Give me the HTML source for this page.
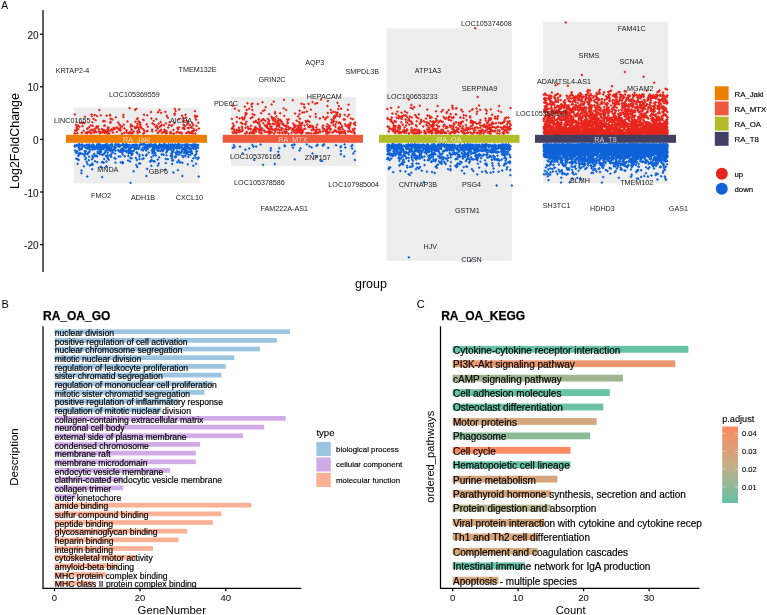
<!DOCTYPE html><html><head><meta charset="utf-8"><style>html,body{margin:0;padding:0;background:#fff;width:767px;height:615px;overflow:hidden}svg{display:block;filter:blur(0.4px)}text{font-family:"Liberation Sans",sans-serif}</style></head><body><svg width="767" height="615" viewBox="0 0 767 615" font-family="Liberation Sans, sans-serif"><text x="1.3" y="8.8" font-size="10.3" fill="#000">A</text><line x1="43" y1="10" x2="43" y2="272" stroke="#000" stroke-width="1.25"/><line x1="40" y1="34.20" x2="43" y2="34.20" stroke="#000" stroke-width="1.2"/><text x="38.5" y="38.70" font-size="10" fill="#222" stroke="#222" stroke-width="0.12" text-anchor="end">20</text><line x1="40" y1="86.80" x2="43" y2="86.80" stroke="#000" stroke-width="1.2"/><text x="38.5" y="91.30" font-size="10" fill="#222" stroke="#222" stroke-width="0.12" text-anchor="end">10</text><line x1="40" y1="139.40" x2="43" y2="139.40" stroke="#000" stroke-width="1.2"/><text x="38.5" y="143.90" font-size="10" fill="#222" stroke="#222" stroke-width="0.12" text-anchor="end">0</text><line x1="40" y1="192.00" x2="43" y2="192.00" stroke="#000" stroke-width="1.2"/><text x="38.5" y="196.50" font-size="10" fill="#222" stroke="#222" stroke-width="0.12" text-anchor="end">-10</text><line x1="40" y1="244.60" x2="43" y2="244.60" stroke="#000" stroke-width="1.2"/><text x="38.5" y="249.10" font-size="10" fill="#222" stroke="#222" stroke-width="0.12" text-anchor="end">-20</text><text transform="translate(19.3,141) rotate(-90)" font-size="12.5" fill="#000" text-anchor="middle">Log2FoldChange</text><text x="371" y="287.6" font-size="12.5" fill="#000" text-anchor="middle">group</text><rect x="74" y="107.6" width="125.60" height="75.80" fill="#EDEDED"/><rect x="231" y="97" width="125.00" height="69.20" fill="#EDEDED"/><rect x="386.4" y="28.3" width="125.40" height="232.40" fill="#EDEDED"/><rect x="543.2" y="21.7" width="125.00" height="161.70" fill="#EDEDED"/><path d="M93.2 129.6l.1 .1M83.5 122.6l.1 .1M120.0 125.6l.1 .1M137.6 133.1l.1 .1M128.4 133.3l.1 .1M85.7 132.9l.1 .1M177.4 127.9l.1 .1M102.2 132.3l.1 .1M192.4 123.3l.1 .1M123.8 124.6l.1 .1M181.3 133.2l.1 .1M92.4 130.1l.1 .1M112.9 132.4l.1 .1M97.0 115.9l.1 .1M154.0 124.5l.1 .1M142.6 128.8l.1 .1M81.9 133.0l.1 .1M159.2 131.3l.1 .1M113.6 127.8l.1 .1M130.9 124.4l.1 .1M173.4 129.9l.1 .1M104.8 121.1l.1 .1M139.8 124.7l.1 .1M165.3 111.8l.1 .1M196.5 130.1l.1 .1M126.5 132.4l.1 .1M93.4 118.8l.1 .1M79.3 126.6l.1 .1M169.6 122.1l.1 .1M183.4 124.7l.1 .1M161.0 129.7l.1 .1M146.6 124.2l.1 .1M179.0 127.3l.1 .1M157.1 126.9l.1 .1M161.8 133.0l.1 .1M198.1 122.7l.1 .1M109.9 115.5l.1 .1M157.7 128.6l.1 .1M131.9 133.4l.1 .1M89.0 131.8l.1 .1M170.1 133.1l.1 .1M105.3 132.2l.1 .1M182.9 128.5l.1 .1M130.4 132.8l.1 .1M184.4 125.3l.1 .1M182.0 115.7l.1 .1M126.2 130.3l.1 .1M184.5 129.0l.1 .1M96.4 132.0l.1 .1M103.5 130.9l.1 .1M147.8 126.7l.1 .1M75.0 130.5l.1 .1M120.4 128.0l.1 .1M193.1 124.9l.1 .1M138.6 121.4l.1 .1M158.6 123.6l.1 .1M186.4 133.1l.1 .1M183.3 117.8l.1 .1M123.3 116.9l.1 .1M87.3 128.3l.1 .1M82.2 123.1l.1 .1M100.4 133.0l.1 .1M116.8 131.8l.1 .1M74.5 133.1l.1 .1M87.1 132.0l.1 .1M77.6 128.9l.1 .1M150.9 111.9l.1 .1M105.9 132.0l.1 .1M119.8 129.2l.1 .1M180.1 132.3l.1 .1M134.7 127.1l.1 .1M87.2 132.7l.1 .1M107.4 129.3l.1 .1M94.5 115.1l.1 .1M192.8 133.4l.1 .1M92.7 125.8l.1 .1M77.8 125.4l.1 .1M196.3 125.8l.1 .1M161.1 112.8l.1 .1M120.1 130.5l.1 .1M170.6 131.8l.1 .1M171.4 125.7l.1 .1M102.2 129.5l.1 .1M197.1 116.1l.1 .1M174.8 113.5l.1 .1M166.6 115.7l.1 .1M138.9 131.0l.1 .1M78.1 129.1l.1 .1M109.2 133.4l.1 .1M160.7 130.5l.1 .1M191.1 127.5l.1 .1M101.9 128.9l.1 .1M98.9 131.0l.1 .1M152.1 131.3l.1 .1M179.1 109.4l.1 .1M155.7 126.8l.1 .1M85.0 116.8l.1 .1M187.7 122.3l.1 .1M167.8 117.7l.1 .1M96.7 126.9l.1 .1M115.8 117.3l.1 .1M195.4 116.7l.1 .1M124.4 128.4l.1 .1M95.6 120.1l.1 .1M93.3 132.3l.1 .1M174.9 108.9l.1 .1M177.4 132.0l.1 .1M118.1 122.4l.1 .1M90.8 125.3l.1 .1M195.3 133.5l.1 .1M140.0 122.7l.1 .1M183.0 127.7l.1 .1M100.7 115.3l.1 .1M110.9 130.6l.1 .1M147.5 130.8l.1 .1M126.6 130.5l.1 .1M187.7 132.2l.1 .1M131.5 129.1l.1 .1M187.0 124.5l.1 .1M188.7 127.9l.1 .1M140.7 126.4l.1 .1M76.8 125.9l.1 .1M97.2 127.6l.1 .1M173.9 133.6l.1 .1M133.4 131.7l.1 .1M143.7 120.1l.1 .1M139.0 129.5l.1 .1M172.1 125.2l.1 .1M144.2 132.5l.1 .1M108.9 130.7l.1 .1M137.7 118.1l.1 .1M169.1 125.0l.1 .1M129.6 108.1l.1 .1M137.4 123.7l.1 .1M160.7 126.1l.1 .1M140.8 127.4l.1 .1M191.7 126.9l.1 .1M183.6 121.1l.1 .1M144.1 130.5l.1 .1M91.5 114.4l.1 .1M129.5 132.3l.1 .1M104.4 132.9l.1 .1M157.8 132.9l.1 .1M186.1 117.6l.1 .1M163.6 131.9l.1 .1M92.3 122.3l.1 .1M194.9 111.1l.1 .1M193.0 131.1l.1 .1M135.1 128.3l.1 .1M94.6 114.9l.1 .1M138.6 127.7l.1 .1M98.8 129.3l.1 .1M164.4 129.7l.1 .1M143.4 133.5l.1 .1M76.7 127.6l.1 .1M152.1 129.5l.1 .1M82.5 126.1l.1 .1M195.4 117.4l.1 .1M107.5 132.5l.1 .1M171.4 133.3l.1 .1M90.6 130.4l.1 .1M187.9 127.9l.1 .1M106.6 115.7l.1 .1M188.9 132.0l.1 .1M161.7 124.8l.1 .1M81.6 132.7l.1 .1M127.4 121.4l.1 .1M191.3 132.9l.1 .1M174.3 123.1l.1 .1M181.1 132.8l.1 .1M181.9 133.0l.1 .1M116.7 127.3l.1 .1M189.8 125.2l.1 .1M90.5 130.4l.1 .1M104.1 125.8l.1 .1M94.6 132.5l.1 .1M99.6 133.1l.1 .1M112.4 129.8l.1 .1M110.6 118.7l.1 .1M96.6 126.4l.1 .1M76.7 129.2l.1 .1M76.4 130.7l.1 .1M143.1 119.8l.1 .1M133.6 131.5l.1 .1M176.4 132.5l.1 .1M136.1 127.7l.1 .1M123.4 114.8l.1 .1M160.1 126.3l.1 .1M178.1 129.3l.1 .1M153.6 120.8l.1 .1M117.7 128.2l.1 .1M90.6 133.1l.1 .1M166.7 132.9l.1 .1M94.8 130.6l.1 .1M179.2 132.8l.1 .1M157.9 112.2l.1 .1M104.6 130.2l.1 .1M131.7 130.0l.1 .1M130.0 131.9l.1 .1M194.2 130.5l.1 .1M104.9 125.4l.1 .1M118.8 129.8l.1 .1M122.0 133.7l.1 .1M137.0 126.9l.1 .1M137.3 131.3l.1 .1M107.3 133.6l.1 .1M124.2 132.7l.1 .1M77.3 133.2l.1 .1M103.4 129.9l.1 .1M140.3 124.4l.1 .1M156.3 119.1l.1 .1M183.9 120.4l.1 .1M115.1 128.5l.1 .1M164.6 132.0l.1 .1M79.9 122.8l.1 .1M185.5 114.7l.1 .1M165.8 123.3l.1 .1M91.8 116.1l.1 .1M137.2 125.9l.1 .1M174.6 114.7l.1 .1M147.2 115.3l.1 .1M159.5 110.2l.1 .1M103.1 121.3l.1 .1M91.0 133.4l.1 .1M87.5 129.0l.1 .1M144.0 114.7l.1 .1M152.4 123.3l.1 .1M135.4 121.7l.1 .1M173.8 133.7l.1 .1M137.1 119.2l.1 .1M156.5 125.6l.1 .1M166.2 133.0l.1 .1M83.7 130.6l.1 .1M165.3 130.4l.1 .1M166.6 131.3l.1 .1M122.1 126.5l.1 .1M159.6 126.8l.1 .1M151.3 118.4l.1 .1M84.1 122.9l.1 .1M106.1 132.0l.1 .1M112.3 119.4l.1 .1M76.0 124.9l.1 .1M107.9 133.0l.1 .1M160.6 122.0l.1 .1M110.7 121.8l.1 .1M132.3 126.0l.1 .1M89.2 127.1l.1 .1M99.3 110.1l.1 .1M131.6 133.5l.1 .1M195.0 115.7l.1 .1M107.9 127.4l.1 .1M192.2 131.2l.1 .1M146.8 131.2l.1 .1M139.7 132.1l.1 .1M176.6 132.2l.1 .1M184.9 126.2l.1 .1M103.3 120.9l.1 .1M135.0 109.7l.1 .1M74.9 133.4l.1 .1M130.6 126.6l.1 .1M92.0 129.9l.1 .1M113.8 129.3l.1 .1M74.7 114.4l.1 .1M178.9 119.1l.1 .1M189.8 132.3l.1 .1M186.7 120.6l.1 .1M120.8 130.1l.1 .1M198.8 128.4l.1 .1M119.4 124.3l.1 .1M108.7 127.8l.1 .1M87.1 133.2l.1 .1M110.0 114.8l.1 .1M107.5 130.7l.1 .1M98.1 126.2l.1 .1M193.5 128.8l.1 .1M175.5 111.0l.1 .1M188.2 123.2l.1 .1M164.0 125.3l.1 .1M165.6 133.2l.1 .1M168.2 127.4l.1 .1M110.1 122.8l.1 .1M189.8 133.2l.1 .1M133.2 132.3l.1 .1M111.5 129.3l.1 .1M196.0 119.6l.1 .1M156.1 130.5l.1 .1M143.8 129.9l.1 .1M95.3 128.4l.1 .1M100.3 131.8l.1 .1M136.3 108.8l.1 .1M327.8 100.9l.1 .1M261.3 128.9l.1 .1M285.5 129.0l.1 .1M344.6 114.8l.1 .1M336.6 114.2l.1 .1M295.6 133.1l.1 .1M262.4 102.2l.1 .1M309.9 127.3l.1 .1M297.3 128.4l.1 .1M285.1 132.9l.1 .1M234.0 125.6l.1 .1M351.7 132.0l.1 .1M347.6 116.3l.1 .1M331.8 122.1l.1 .1M341.1 108.7l.1 .1M311.0 133.3l.1 .1M315.6 130.1l.1 .1M298.7 130.0l.1 .1M308.5 103.8l.1 .1M296.0 130.4l.1 .1M349.4 127.1l.1 .1M269.3 129.8l.1 .1M246.4 121.6l.1 .1M350.0 123.3l.1 .1M264.7 125.3l.1 .1M297.6 126.4l.1 .1M246.8 131.8l.1 .1M267.9 132.1l.1 .1M267.2 127.7l.1 .1M242.3 130.5l.1 .1M335.6 124.5l.1 .1M302.2 122.8l.1 .1M256.4 121.5l.1 .1M288.6 119.4l.1 .1M307.4 124.5l.1 .1M270.0 126.4l.1 .1M258.9 130.5l.1 .1M279.0 125.4l.1 .1M232.9 123.5l.1 .1M338.3 128.7l.1 .1M300.5 130.5l.1 .1M266.8 125.9l.1 .1M327.2 129.6l.1 .1M239.7 131.7l.1 .1M286.0 110.0l.1 .1M279.5 132.9l.1 .1M322.6 127.0l.1 .1M259.4 132.4l.1 .1M250.6 118.2l.1 .1M275.2 128.9l.1 .1M307.9 120.7l.1 .1M333.3 111.7l.1 .1M323.1 125.3l.1 .1M325.7 118.0l.1 .1M328.8 126.2l.1 .1M344.9 119.4l.1 .1M339.4 132.1l.1 .1M326.4 133.6l.1 .1M293.2 123.5l.1 .1M283.3 123.9l.1 .1M339.7 116.0l.1 .1M278.5 122.9l.1 .1M288.2 126.7l.1 .1M267.8 118.8l.1 .1M300.3 128.0l.1 .1M271.4 128.1l.1 .1M336.8 115.8l.1 .1M286.5 125.7l.1 .1M269.2 131.3l.1 .1M302.8 131.9l.1 .1M242.4 123.6l.1 .1M271.6 104.4l.1 .1M335.4 112.2l.1 .1M284.3 131.0l.1 .1M232.8 105.8l.1 .1M301.5 133.1l.1 .1M345.6 125.7l.1 .1M298.2 116.5l.1 .1M295.6 125.3l.1 .1M279.8 120.3l.1 .1M305.2 128.6l.1 .1M349.0 128.7l.1 .1M296.6 120.6l.1 .1M277.9 132.5l.1 .1M301.1 127.8l.1 .1M340.5 123.8l.1 .1M286.0 126.0l.1 .1M355.0 122.4l.1 .1M297.2 128.8l.1 .1M252.6 114.1l.1 .1M352.8 129.3l.1 .1M295.0 113.5l.1 .1M342.4 132.3l.1 .1M333.2 120.1l.1 .1M283.6 108.3l.1 .1M267.4 131.7l.1 .1M294.1 125.4l.1 .1M254.1 131.3l.1 .1M306.2 122.2l.1 .1M354.7 128.6l.1 .1M236.7 122.0l.1 .1M329.1 127.6l.1 .1M317.1 129.5l.1 .1M269.2 133.6l.1 .1M304.1 112.3l.1 .1M255.8 120.9l.1 .1M300.1 125.7l.1 .1M311.7 130.1l.1 .1M355.1 124.9l.1 .1M282.4 123.8l.1 .1M250.9 132.2l.1 .1M244.7 117.2l.1 .1M252.6 132.5l.1 .1M333.5 125.1l.1 .1M331.5 122.7l.1 .1M233.0 132.9l.1 .1M271.5 116.7l.1 .1M275.3 119.1l.1 .1M264.5 131.5l.1 .1M343.5 132.5l.1 .1M274.7 123.6l.1 .1M279.3 126.8l.1 .1M341.9 133.0l.1 .1M350.4 123.6l.1 .1M308.4 127.0l.1 .1M236.9 130.4l.1 .1M337.4 102.8l.1 .1M342.9 129.3l.1 .1M269.1 114.1l.1 .1M350.5 123.0l.1 .1M349.2 125.8l.1 .1M279.8 130.5l.1 .1M258.9 119.0l.1 .1M340.0 129.4l.1 .1M329.8 126.0l.1 .1M253.0 130.5l.1 .1M254.6 128.6l.1 .1M301.1 129.7l.1 .1M297.6 132.3l.1 .1M281.4 128.1l.1 .1M246.7 132.9l.1 .1M275.0 113.5l.1 .1M255.2 130.4l.1 .1M260.9 129.8l.1 .1M313.8 133.3l.1 .1M250.8 128.9l.1 .1M242.9 119.5l.1 .1M335.0 130.1l.1 .1M286.4 132.1l.1 .1M331.3 112.7l.1 .1M275.2 131.7l.1 .1M278.2 118.9l.1 .1M349.4 131.0l.1 .1M259.6 125.6l.1 .1M247.7 126.7l.1 .1M263.8 119.5l.1 .1M304.3 107.1l.1 .1M262.0 128.4l.1 .1M257.8 122.8l.1 .1M246.7 109.9l.1 .1M298.7 125.4l.1 .1M327.1 130.0l.1 .1M313.0 128.1l.1 .1M270.0 124.0l.1 .1M242.1 128.0l.1 .1M337.0 131.4l.1 .1M313.6 129.2l.1 .1M301.1 132.4l.1 .1M293.5 128.5l.1 .1M239.6 129.6l.1 .1M259.5 129.4l.1 .1M320.3 132.1l.1 .1M281.5 129.9l.1 .1M327.5 106.0l.1 .1M338.2 108.9l.1 .1M265.7 132.0l.1 .1M315.7 133.3l.1 .1M275.0 121.1l.1 .1M313.2 127.5l.1 .1M262.3 119.8l.1 .1M275.1 112.0l.1 .1M254.0 122.2l.1 .1M344.6 132.3l.1 .1M319.8 118.4l.1 .1M236.4 133.2l.1 .1M256.0 131.6l.1 .1M278.7 129.5l.1 .1M270.0 133.2l.1 .1M253.7 121.9l.1 .1M302.2 112.5l.1 .1M263.0 119.1l.1 .1M316.3 127.1l.1 .1M231.6 128.7l.1 .1M327.7 112.9l.1 .1M236.8 129.8l.1 .1M306.8 111.4l.1 .1M261.8 133.1l.1 .1M329.6 132.3l.1 .1M344.8 131.0l.1 .1M242.1 117.7l.1 .1M280.3 120.0l.1 .1M334.2 117.8l.1 .1M242.6 129.9l.1 .1M284.0 99.8l.1 .1M317.2 102.9l.1 .1M334.4 118.2l.1 .1M287.6 122.2l.1 .1M318.0 133.0l.1 .1M294.9 127.2l.1 .1M247.3 103.2l.1 .1M236.9 117.1l.1 .1M331.4 119.7l.1 .1M299.2 130.2l.1 .1M298.9 121.9l.1 .1M238.8 130.4l.1 .1M282.5 128.6l.1 .1M270.0 131.1l.1 .1M319.1 132.0l.1 .1M260.9 120.8l.1 .1M295.4 130.5l.1 .1M347.5 126.9l.1 .1M268.6 128.7l.1 .1M249.0 108.7l.1 .1M272.8 124.1l.1 .1M299.4 114.1l.1 .1M252.4 117.2l.1 .1M305.7 121.0l.1 .1M326.5 126.5l.1 .1M245.6 113.1l.1 .1M276.1 129.7l.1 .1M238.9 131.0l.1 .1M255.9 129.9l.1 .1M287.0 119.7l.1 .1M271.7 132.3l.1 .1M276.5 126.4l.1 .1M240.4 131.6l.1 .1M354.5 133.6l.1 .1M241.9 117.6l.1 .1M353.0 119.1l.1 .1M244.9 124.1l.1 .1M285.3 125.9l.1 .1M298.8 131.3l.1 .1M345.5 133.6l.1 .1M309.3 121.7l.1 .1M312.4 102.0l.1 .1M262.0 130.3l.1 .1M234.9 132.0l.1 .1M335.6 116.5l.1 .1M254.5 129.6l.1 .1M336.3 121.9l.1 .1M252.3 103.4l.1 .1M334.4 115.9l.1 .1M272.0 118.0l.1 .1M333.8 131.3l.1 .1M277.1 129.2l.1 .1M277.2 124.4l.1 .1M261.1 113.1l.1 .1M301.7 133.2l.1 .1M333.1 122.2l.1 .1M343.7 119.5l.1 .1M292.8 100.1l.1 .1M251.0 125.7l.1 .1M303.5 129.6l.1 .1M316.8 132.7l.1 .1M286.4 131.6l.1 .1M236.4 132.6l.1 .1M255.1 127.0l.1 .1M231.8 118.8l.1 .1M337.5 112.4l.1 .1M284.2 115.8l.1 .1M313.5 129.8l.1 .1M283.7 125.3l.1 .1M285.8 128.9l.1 .1M333.9 121.0l.1 .1M251.8 106.6l.1 .1M286.4 129.6l.1 .1M274.6 124.1l.1 .1M242.0 131.2l.1 .1M288.5 129.2l.1 .1M338.8 106.0l.1 .1M332.0 122.5l.1 .1M315.3 133.0l.1 .1M268.3 122.8l.1 .1M349.6 123.9l.1 .1M311.7 126.1l.1 .1M274.0 129.6l.1 .1M234.9 108.7l.1 .1M315.6 131.3l.1 .1M242.0 126.8l.1 .1M277.6 121.2l.1 .1M283.1 123.6l.1 .1M301.5 125.0l.1 .1M245.6 127.8l.1 .1M341.8 131.4l.1 .1M245.4 124.5l.1 .1M262.9 110.8l.1 .1M297.3 132.5l.1 .1M292.1 130.3l.1 .1M259.5 124.3l.1 .1M245.5 123.9l.1 .1M304.4 125.4l.1 .1M282.0 132.7l.1 .1M286.0 132.8l.1 .1M299.7 110.6l.1 .1M325.3 119.2l.1 .1M354.3 132.3l.1 .1M244.1 118.9l.1 .1M280.1 113.2l.1 .1M350.5 131.5l.1 .1M327.5 124.1l.1 .1M327.7 132.0l.1 .1M260.8 133.0l.1 .1M233.3 128.3l.1 .1M257.9 123.3l.1 .1M319.2 129.6l.1 .1M341.6 127.3l.1 .1M339.6 122.5l.1 .1M345.2 124.1l.1 .1M252.3 110.0l.1 .1M273.8 117.9l.1 .1M315.8 117.0l.1 .1M246.7 113.5l.1 .1M322.9 128.3l.1 .1M321.0 99.5l.1 .1M306.3 133.2l.1 .1M299.5 132.5l.1 .1M245.5 114.9l.1 .1M315.2 103.7l.1 .1M255.4 130.3l.1 .1M335.4 126.8l.1 .1M245.5 123.6l.1 .1M245.1 133.4l.1 .1M254.4 115.0l.1 .1M267.4 124.3l.1 .1M278.7 120.2l.1 .1M340.0 131.9l.1 .1M317.0 124.7l.1 .1M349.1 114.6l.1 .1M273.9 133.5l.1 .1M293.7 131.8l.1 .1M330.7 109.8l.1 .1M254.1 133.3l.1 .1M315.7 114.0l.1 .1M290.4 127.9l.1 .1M336.2 131.7l.1 .1M339.7 127.9l.1 .1M240.9 122.8l.1 .1M258.3 129.1l.1 .1M304.5 107.7l.1 .1M252.5 133.2l.1 .1M289.5 128.5l.1 .1M279.5 123.7l.1 .1M232.2 128.6l.1 .1M272.8 123.7l.1 .1M288.4 133.5l.1 .1M249.5 133.2l.1 .1M265.3 120.8l.1 .1M293.5 130.0l.1 .1M302.0 130.2l.1 .1M350.1 125.0l.1 .1M301.0 133.3l.1 .1M339.6 116.6l.1 .1M310.0 116.5l.1 .1M276.5 122.0l.1 .1M330.1 129.9l.1 .1M347.8 109.8l.1 .1M269.1 120.5l.1 .1M323.2 117.0l.1 .1M310.2 125.5l.1 .1M299.7 128.7l.1 .1M238.9 127.7l.1 .1M271.5 128.9l.1 .1M277.0 126.1l.1 .1M260.6 130.5l.1 .1M248.3 128.7l.1 .1M339.5 133.6l.1 .1M286.7 126.7l.1 .1M268.9 124.0l.1 .1M239.7 131.5l.1 .1M269.7 129.5l.1 .1M299.8 118.7l.1 .1M273.7 101.6l.1 .1M303.8 104.3l.1 .1M253.6 132.7l.1 .1M353.9 123.6l.1 .1M327.5 128.6l.1 .1M339.1 127.2l.1 .1M291.5 132.9l.1 .1M265.7 107.1l.1 .1M234.3 130.2l.1 .1M264.7 131.6l.1 .1M258.5 119.6l.1 .1M256.3 127.8l.1 .1M338.6 123.0l.1 .1M255.8 121.6l.1 .1M350.9 118.4l.1 .1M241.3 123.1l.1 .1M340.0 114.5l.1 .1M248.4 128.9l.1 .1M298.0 131.3l.1 .1M310.8 109.6l.1 .1M257.8 104.0l.1 .1M324.4 129.1l.1 .1M281.7 121.6l.1 .1M273.3 120.5l.1 .1M282.8 133.0l.1 .1M309.1 133.2l.1 .1M292.8 129.0l.1 .1M263.3 123.1l.1 .1M233.1 126.5l.1 .1M301.4 103.7l.1 .1M307.6 133.0l.1 .1M272.3 118.8l.1 .1M250.8 132.6l.1 .1M326.6 131.9l.1 .1M332.4 132.6l.1 .1M298.2 127.3l.1 .1M300.3 123.4l.1 .1M306.0 121.3l.1 .1M323.3 129.0l.1 .1M319.7 130.2l.1 .1M327.7 117.0l.1 .1M327.3 129.4l.1 .1M266.0 126.7l.1 .1M348.1 125.1l.1 .1M232.6 132.1l.1 .1M312.7 126.2l.1 .1M276.4 116.5l.1 .1M325.3 130.7l.1 .1M234.9 132.6l.1 .1M238.9 132.0l.1 .1M300.3 125.6l.1 .1M348.0 131.4l.1 .1M250.0 128.4l.1 .1M322.9 131.4l.1 .1M251.5 104.2l.1 .1M327.9 133.3l.1 .1M353.3 130.5l.1 .1M310.3 125.7l.1 .1M330.7 128.8l.1 .1M271.6 126.6l.1 .1M244.8 106.6l.1 .1M239.6 118.4l.1 .1M281.3 121.7l.1 .1M238.9 110.6l.1 .1M282.3 124.1l.1 .1M348.6 104.6l.1 .1M259.2 122.3l.1 .1M264.0 130.3l.1 .1M260.1 127.1l.1 .1M325.6 131.1l.1 .1M268.5 121.8l.1 .1M302.1 130.9l.1 .1M338.5 131.7l.1 .1M264.6 110.1l.1 .1M333.5 117.6l.1 .1M272.6 129.8l.1 .1M341.9 126.0l.1 .1M316.1 131.7l.1 .1M287.6 123.2l.1 .1M435.7 121.2l.1 .1M462.9 126.2l.1 .1M426.9 122.4l.1 .1M454.3 123.8l.1 .1M462.9 131.2l.1 .1M499.6 130.6l.1 .1M476.4 127.3l.1 .1M446.1 126.3l.1 .1M404.6 131.2l.1 .1M452.5 107.5l.1 .1M452.4 126.3l.1 .1M416.5 116.9l.1 .1M488.9 131.8l.1 .1M466.4 127.5l.1 .1M497.8 116.1l.1 .1M392.3 113.5l.1 .1M490.1 128.9l.1 .1M402.2 116.7l.1 .1M418.1 132.0l.1 .1M431.2 132.6l.1 .1M451.6 117.4l.1 .1M397.9 127.7l.1 .1M510.6 128.7l.1 .1M442.7 121.8l.1 .1M485.9 127.2l.1 .1M405.5 119.5l.1 .1M432.4 122.3l.1 .1M416.4 126.3l.1 .1M429.1 129.1l.1 .1M389.2 128.9l.1 .1M457.7 131.4l.1 .1M409.1 133.1l.1 .1M421.0 121.0l.1 .1M416.9 129.8l.1 .1M398.3 115.7l.1 .1M493.5 123.6l.1 .1M439.4 131.4l.1 .1M463.6 118.0l.1 .1M392.4 129.0l.1 .1M432.5 127.9l.1 .1M423.6 121.2l.1 .1M467.3 128.5l.1 .1M430.6 117.0l.1 .1M458.7 128.8l.1 .1M410.7 107.8l.1 .1M433.1 121.3l.1 .1M427.8 122.7l.1 .1M480.7 133.0l.1 .1M452.2 128.9l.1 .1M498.7 126.8l.1 .1M390.1 119.6l.1 .1M444.3 124.7l.1 .1M491.1 127.5l.1 .1M445.7 128.3l.1 .1M441.5 111.6l.1 .1M450.4 126.9l.1 .1M470.1 116.3l.1 .1M436.8 120.2l.1 .1M471.3 133.3l.1 .1M482.3 125.6l.1 .1M401.6 119.0l.1 .1M396.5 131.2l.1 .1M399.6 116.7l.1 .1M480.4 132.8l.1 .1M393.8 125.4l.1 .1M475.1 122.3l.1 .1M393.7 127.1l.1 .1M438.8 122.0l.1 .1M510.7 124.9l.1 .1M495.1 116.7l.1 .1M428.4 132.1l.1 .1M387.7 126.4l.1 .1M419.5 130.5l.1 .1M418.6 129.9l.1 .1M455.9 114.1l.1 .1M439.1 126.5l.1 .1M424.7 133.2l.1 .1M486.4 113.5l.1 .1M418.8 114.3l.1 .1M393.4 131.4l.1 .1M433.3 126.0l.1 .1M447.6 127.5l.1 .1M432.3 124.9l.1 .1M411.8 117.5l.1 .1M455.9 108.5l.1 .1M425.9 133.2l.1 .1M437.7 126.1l.1 .1M427.1 125.4l.1 .1M485.7 130.5l.1 .1M475.1 130.2l.1 .1M460.4 117.5l.1 .1M502.9 127.6l.1 .1M495.8 127.8l.1 .1M440.7 133.1l.1 .1M393.0 123.5l.1 .1M395.9 113.9l.1 .1M409.3 124.6l.1 .1M456.5 108.1l.1 .1M448.7 117.6l.1 .1M470.6 122.5l.1 .1M413.1 130.2l.1 .1M405.0 115.5l.1 .1M412.6 108.7l.1 .1M398.8 132.6l.1 .1M504.9 118.4l.1 .1M468.7 128.3l.1 .1M499.3 130.7l.1 .1M406.1 122.1l.1 .1M473.2 133.1l.1 .1M490.6 133.3l.1 .1M415.8 130.2l.1 .1M426.5 125.0l.1 .1M406.0 125.5l.1 .1M427.2 109.4l.1 .1M405.8 115.3l.1 .1M508.5 117.6l.1 .1M391.0 128.7l.1 .1M466.4 128.9l.1 .1M454.6 131.2l.1 .1M444.5 132.7l.1 .1M440.3 120.7l.1 .1M401.1 122.3l.1 .1M402.1 116.1l.1 .1M510.5 108.0l.1 .1M452.2 105.7l.1 .1M430.1 130.3l.1 .1M448.5 119.8l.1 .1M398.5 107.1l.1 .1M494.1 127.1l.1 .1M454.0 124.6l.1 .1M404.3 132.8l.1 .1M497.7 130.5l.1 .1M415.1 115.0l.1 .1M391.0 107.9l.1 .1M506.9 124.6l.1 .1M504.1 129.5l.1 .1M393.2 123.0l.1 .1M442.7 129.6l.1 .1M479.0 130.8l.1 .1M484.6 131.7l.1 .1M395.6 130.2l.1 .1M398.8 125.5l.1 .1M484.7 125.7l.1 .1M444.2 124.6l.1 .1M450.6 133.3l.1 .1M467.2 132.7l.1 .1M458.6 132.3l.1 .1M433.4 129.3l.1 .1M407.3 122.8l.1 .1M503.7 131.8l.1 .1M491.4 129.7l.1 .1M446.5 113.0l.1 .1M398.6 132.1l.1 .1M401.5 112.6l.1 .1M453.4 126.8l.1 .1M445.0 132.4l.1 .1M453.3 131.9l.1 .1M432.4 126.6l.1 .1M437.0 131.5l.1 .1M402.7 131.4l.1 .1M495.0 130.9l.1 .1M497.4 126.7l.1 .1M503.9 133.5l.1 .1M485.0 127.0l.1 .1M472.4 125.2l.1 .1M480.0 131.1l.1 .1M419.7 132.0l.1 .1M435.7 133.4l.1 .1M423.2 126.4l.1 .1M397.4 111.6l.1 .1M416.0 125.1l.1 .1M484.2 124.6l.1 .1M394.7 121.3l.1 .1M461.2 130.9l.1 .1M463.6 133.3l.1 .1M488.0 121.9l.1 .1M487.5 129.5l.1 .1M501.1 127.5l.1 .1M503.5 133.6l.1 .1M437.4 128.4l.1 .1M417.3 132.8l.1 .1M471.1 120.5l.1 .1M429.6 132.1l.1 .1M411.5 132.2l.1 .1M428.0 131.2l.1 .1M446.4 118.0l.1 .1M483.6 126.8l.1 .1M480.1 109.8l.1 .1M411.6 123.6l.1 .1M491.8 123.9l.1 .1M398.4 118.3l.1 .1M430.3 121.1l.1 .1M506.7 131.9l.1 .1M479.4 122.5l.1 .1M489.7 132.2l.1 .1M499.1 106.0l.1 .1M490.2 120.0l.1 .1M460.2 117.5l.1 .1M489.3 128.0l.1 .1M494.9 118.4l.1 .1M506.1 130.1l.1 .1M504.2 126.1l.1 .1M507.0 132.5l.1 .1M418.2 118.2l.1 .1M415.7 115.5l.1 .1M443.7 131.5l.1 .1M448.0 131.0l.1 .1M471.9 109.8l.1 .1M435.6 121.3l.1 .1M485.4 118.4l.1 .1M503.7 122.2l.1 .1M437.3 116.2l.1 .1M467.9 132.8l.1 .1M429.1 115.6l.1 .1M490.7 124.7l.1 .1M387.5 118.0l.1 .1M389.0 127.0l.1 .1M487.7 132.5l.1 .1M461.9 128.3l.1 .1M428.5 127.6l.1 .1M430.8 131.3l.1 .1M463.7 115.1l.1 .1M397.9 130.2l.1 .1M473.9 130.5l.1 .1M468.9 127.9l.1 .1M401.9 117.2l.1 .1M392.1 122.2l.1 .1M409.8 116.4l.1 .1M505.7 130.5l.1 .1M414.8 129.2l.1 .1M462.6 111.6l.1 .1M435.9 111.3l.1 .1M505.5 126.8l.1 .1M509.5 126.6l.1 .1M489.9 131.6l.1 .1M452.3 131.9l.1 .1M408.7 133.7l.1 .1M487.3 127.6l.1 .1M430.6 130.8l.1 .1M455.5 132.6l.1 .1M450.7 113.9l.1 .1M502.1 129.0l.1 .1M469.6 111.3l.1 .1M464.3 132.9l.1 .1M505.7 127.8l.1 .1M468.9 129.2l.1 .1M433.6 123.7l.1 .1M470.8 126.3l.1 .1M448.7 109.9l.1 .1M508.0 129.2l.1 .1M490.5 133.1l.1 .1M456.1 122.2l.1 .1M480.1 127.8l.1 .1M477.3 111.5l.1 .1M391.3 119.8l.1 .1M403.9 129.8l.1 .1M404.9 111.5l.1 .1M458.5 124.8l.1 .1M435.6 133.2l.1 .1M466.5 119.9l.1 .1M481.5 130.4l.1 .1M454.4 130.3l.1 .1M508.2 128.2l.1 .1M486.8 123.2l.1 .1M434.1 122.4l.1 .1M472.6 121.3l.1 .1M407.0 130.4l.1 .1M489.4 125.1l.1 .1M430.0 117.9l.1 .1M450.9 132.2l.1 .1M407.1 112.7l.1 .1M408.1 120.3l.1 .1M393.6 130.0l.1 .1M434.4 130.2l.1 .1M425.3 131.6l.1 .1M411.4 104.9l.1 .1M441.3 129.8l.1 .1M419.2 132.5l.1 .1M434.8 128.7l.1 .1M412.2 130.6l.1 .1M442.8 109.8l.1 .1M466.0 115.6l.1 .1M426.0 118.6l.1 .1M480.8 132.0l.1 .1M456.2 127.3l.1 .1M480.3 122.6l.1 .1M431.9 130.5l.1 .1M452.6 108.8l.1 .1M465.1 130.3l.1 .1M482.6 130.7l.1 .1M489.5 133.3l.1 .1M430.8 125.3l.1 .1M419.9 105.6l.1 .1M395.6 130.9l.1 .1M480.4 125.7l.1 .1M438.1 122.4l.1 .1M400.7 117.2l.1 .1M466.9 130.0l.1 .1M472.8 123.6l.1 .1M435.9 118.8l.1 .1M479.0 105.5l.1 .1M435.6 129.5l.1 .1M430.3 117.3l.1 .1M495.0 131.6l.1 .1M451.6 126.1l.1 .1M498.7 122.6l.1 .1M429.0 132.3l.1 .1M438.2 133.0l.1 .1M492.6 126.7l.1 .1M458.6 122.7l.1 .1M458.1 128.5l.1 .1M491.7 130.5l.1 .1M490.9 118.2l.1 .1M470.2 132.1l.1 .1M449.0 119.7l.1 .1M498.4 110.8l.1 .1M488.8 120.1l.1 .1M495.9 123.2l.1 .1M474.3 132.3l.1 .1M462.9 121.5l.1 .1M395.3 130.5l.1 .1M489.2 124.4l.1 .1M413.4 130.5l.1 .1M398.6 131.2l.1 .1M507.8 122.4l.1 .1M431.6 117.5l.1 .1M395.9 121.7l.1 .1M427.3 115.5l.1 .1M465.0 133.7l.1 .1M421.1 132.2l.1 .1M442.2 133.1l.1 .1M487.1 125.6l.1 .1M489.5 133.3l.1 .1M414.8 132.5l.1 .1M429.1 123.8l.1 .1M457.4 129.7l.1 .1M485.3 131.2l.1 .1M491.0 131.3l.1 .1M453.5 117.2l.1 .1M483.4 133.4l.1 .1M449.5 133.4l.1 .1M394.8 128.2l.1 .1M476.8 123.8l.1 .1M436.6 124.9l.1 .1M460.0 126.5l.1 .1M494.5 131.1l.1 .1M506.2 117.4l.1 .1M509.2 129.7l.1 .1M446.2 132.9l.1 .1M443.2 132.3l.1 .1M474.8 122.2l.1 .1M429.3 127.6l.1 .1M436.9 131.6l.1 .1M411.0 130.4l.1 .1M451.0 120.4l.1 .1M411.5 127.9l.1 .1M411.3 121.5l.1 .1M456.4 130.6l.1 .1M507.6 121.6l.1 .1M504.5 119.9l.1 .1M476.5 108.5l.1 .1M394.7 121.0l.1 .1M388.6 131.4l.1 .1M476.5 113.8l.1 .1M419.7 123.7l.1 .1M407.2 129.3l.1 .1M509.9 123.7l.1 .1M392.4 130.0l.1 .1M431.0 131.8l.1 .1M486.7 110.8l.1 .1M399.6 127.6l.1 .1M406.0 132.6l.1 .1M445.4 118.7l.1 .1M485.5 109.4l.1 .1M488.9 127.2l.1 .1M400.4 132.3l.1 .1M449.9 125.4l.1 .1M418.2 131.3l.1 .1M499.6 133.5l.1 .1M504.2 121.3l.1 .1M477.8 128.0l.1 .1M487.6 128.8l.1 .1M403.5 115.3l.1 .1M413.5 133.6l.1 .1M433.9 124.9l.1 .1M489.9 133.6l.1 .1M444.5 118.3l.1 .1M497.2 133.2l.1 .1M395.8 126.1l.1 .1M464.4 129.8l.1 .1M447.0 112.0l.1 .1M412.5 123.5l.1 .1M499.3 130.9l.1 .1M399.8 128.9l.1 .1M402.6 124.7l.1 .1M443.5 131.5l.1 .1M465.9 124.9l.1 .1M441.5 121.4l.1 .1M476.8 133.0l.1 .1M445.3 133.1l.1 .1M470.4 128.6l.1 .1M416.7 121.2l.1 .1M472.8 123.2l.1 .1M404.5 127.3l.1 .1M461.2 109.7l.1 .1M416.5 133.0l.1 .1M435.6 131.1l.1 .1M489.1 118.2l.1 .1M478.9 123.6l.1 .1M398.6 133.3l.1 .1M391.7 117.5l.1 .1M416.8 133.2l.1 .1M414.2 107.0l.1 .1M502.3 122.6l.1 .1M500.9 123.5l.1 .1M406.0 130.6l.1 .1M480.8 133.5l.1 .1M507.6 132.6l.1 .1M410.1 121.3l.1 .1M407.1 117.2l.1 .1M400.1 126.5l.1 .1M497.3 118.2l.1 .1M387.2 108.9l.1 .1M455.9 114.6l.1 .1M449.3 116.5l.1 .1M460.7 124.0l.1 .1M396.6 117.6l.1 .1M454.6 133.1l.1 .1M436.2 130.3l.1 .1M479.3 133.6l.1 .1M489.8 133.4l.1 .1M443.7 117.0l.1 .1M467.6 132.4l.1 .1M440.2 131.4l.1 .1M508.0 132.5l.1 .1M430.7 125.8l.1 .1M477.5 132.7l.1 .1M492.1 114.7l.1 .1M432.5 132.6l.1 .1M481.5 130.1l.1 .1M462.1 132.1l.1 .1M387.8 119.1l.1 .1M401.0 132.9l.1 .1M461.2 121.9l.1 .1M443.4 126.4l.1 .1M462.7 128.5l.1 .1M500.6 123.2l.1 .1M485.7 120.5l.1 .1M490.8 109.3l.1 .1M390.7 121.1l.1 .1M492.3 122.3l.1 .1M495.8 128.1l.1 .1M503.9 131.7l.1 .1M474.6 127.9l.1 .1M424.2 130.8l.1 .1M427.2 129.4l.1 .1M441.9 132.7l.1 .1M502.5 123.1l.1 .1M490.7 119.3l.1 .1M421.0 119.7l.1 .1M438.1 130.8l.1 .1M415.6 133.5l.1 .1M501.1 112.0l.1 .1M482.5 129.7l.1 .1M497.3 118.8l.1 .1M452.9 117.9l.1 .1M489.3 132.6l.1 .1M464.7 129.9l.1 .1M453.6 129.1l.1 .1M452.8 131.9l.1 .1M453.7 123.2l.1 .1M437.5 105.9l.1 .1M472.5 109.2l.1 .1M413.3 132.8l.1 .1M499.4 130.3l.1 .1M419.2 133.6l.1 .1M509.7 121.1l.1 .1M441.3 131.8l.1 .1M472.6 122.1l.1 .1M480.3 120.0l.1 .1M418.8 130.8l.1 .1M472.7 133.4l.1 .1M419.1 131.3l.1 .1M460.3 123.4l.1 .1M461.1 123.0l.1 .1M424.6 121.8l.1 .1M395.2 133.0l.1 .1M431.8 133.5l.1 .1M400.9 132.2l.1 .1M507.2 126.9l.1 .1M420.9 122.1l.1 .1M409.0 119.0l.1 .1M424.5 132.6l.1 .1M472.5 128.4l.1 .1M477.3 127.8l.1 .1M502.6 132.7l.1 .1M490.2 129.5l.1 .1M489.7 133.4l.1 .1M493.0 131.1l.1 .1M470.1 117.5l.1 .1M558.8 123.0l.1 .1M606.6 110.5l.1 .1M645.4 133.3l.1 .1M570.5 109.1l.1 .1M644.1 99.7l.1 .1M543.8 132.5l.1 .1M646.1 105.7l.1 .1M638.7 133.5l.1 .1M622.2 112.4l.1 .1M665.8 108.3l.1 .1M647.1 131.0l.1 .1M582.5 101.3l.1 .1M628.5 117.9l.1 .1M613.9 107.1l.1 .1M574.9 131.9l.1 .1M560.4 124.6l.1 .1M653.9 106.3l.1 .1M630.1 132.4l.1 .1M558.8 118.4l.1 .1M638.7 112.1l.1 .1M555.8 131.4l.1 .1M639.3 131.8l.1 .1M644.8 127.4l.1 .1M556.9 133.2l.1 .1M652.8 130.5l.1 .1M552.8 133.2l.1 .1M555.0 113.7l.1 .1M554.0 118.7l.1 .1M625.9 132.3l.1 .1M594.4 105.2l.1 .1M547.5 127.9l.1 .1M573.7 130.7l.1 .1M632.2 111.4l.1 .1M609.6 111.7l.1 .1M559.4 117.0l.1 .1M580.0 129.7l.1 .1M635.3 131.8l.1 .1M584.0 132.7l.1 .1M650.8 131.8l.1 .1M603.2 120.2l.1 .1M657.9 129.8l.1 .1M599.4 99.7l.1 .1M650.6 123.6l.1 .1M575.7 132.2l.1 .1M605.9 133.5l.1 .1M563.1 112.7l.1 .1M666.5 128.4l.1 .1M591.1 126.9l.1 .1M654.3 107.8l.1 .1M559.0 129.9l.1 .1M635.5 120.3l.1 .1M625.5 101.1l.1 .1M607.5 131.4l.1 .1M599.0 131.7l.1 .1M656.8 127.3l.1 .1M658.5 102.6l.1 .1M663.2 127.0l.1 .1M657.9 133.3l.1 .1M651.8 120.2l.1 .1M666.5 129.0l.1 .1M648.8 133.7l.1 .1M590.1 109.2l.1 .1M570.1 108.6l.1 .1M601.7 113.8l.1 .1M568.0 129.0l.1 .1M634.3 110.6l.1 .1M664.9 133.6l.1 .1M590.2 132.6l.1 .1M615.1 128.9l.1 .1M660.8 103.8l.1 .1M589.0 120.5l.1 .1M552.2 133.5l.1 .1M616.0 125.5l.1 .1M665.5 128.0l.1 .1M587.2 128.9l.1 .1M564.9 128.8l.1 .1M616.9 99.8l.1 .1M596.5 124.6l.1 .1M582.8 132.3l.1 .1M599.0 126.4l.1 .1M613.5 96.2l.1 .1M550.3 132.8l.1 .1M586.5 133.2l.1 .1M653.9 111.8l.1 .1M640.4 132.5l.1 .1M610.3 128.1l.1 .1M548.9 125.0l.1 .1M626.4 133.6l.1 .1M590.8 117.5l.1 .1M645.3 101.5l.1 .1M551.9 131.5l.1 .1M624.8 124.2l.1 .1M549.1 132.6l.1 .1M547.9 126.7l.1 .1M621.2 114.7l.1 .1M598.9 131.8l.1 .1M566.7 132.5l.1 .1M644.8 133.0l.1 .1M632.4 127.8l.1 .1M643.7 130.6l.1 .1M624.8 122.3l.1 .1M613.3 129.5l.1 .1M664.4 133.0l.1 .1M609.7 118.5l.1 .1M556.1 120.2l.1 .1M572.3 130.8l.1 .1M545.2 107.5l.1 .1M651.4 128.1l.1 .1M632.8 111.8l.1 .1M572.5 131.5l.1 .1M580.7 116.7l.1 .1M587.0 115.6l.1 .1M614.7 113.2l.1 .1M665.9 109.5l.1 .1M666.0 129.9l.1 .1M652.4 133.7l.1 .1M611.3 133.7l.1 .1M639.1 129.6l.1 .1M569.5 131.2l.1 .1M611.9 111.7l.1 .1M604.3 113.6l.1 .1M639.3 133.7l.1 .1M602.2 132.7l.1 .1M575.8 133.7l.1 .1M638.4 118.8l.1 .1M598.6 120.4l.1 .1M626.6 115.0l.1 .1M610.0 132.8l.1 .1M634.0 122.2l.1 .1M582.2 132.9l.1 .1M555.5 130.7l.1 .1M634.1 130.5l.1 .1M565.1 123.1l.1 .1M558.1 115.1l.1 .1M562.0 113.8l.1 .1M574.9 133.5l.1 .1M577.1 125.7l.1 .1M660.0 104.3l.1 .1M636.6 131.8l.1 .1M613.2 117.2l.1 .1M661.4 132.2l.1 .1M545.3 98.2l.1 .1M583.5 130.9l.1 .1M597.0 132.9l.1 .1M546.6 103.2l.1 .1M582.0 108.0l.1 .1M655.2 133.7l.1 .1M570.0 132.0l.1 .1M589.2 133.5l.1 .1M565.9 133.4l.1 .1M615.4 132.3l.1 .1M581.5 128.0l.1 .1M639.6 125.3l.1 .1M586.2 115.5l.1 .1M641.8 101.6l.1 .1M602.6 123.8l.1 .1M560.3 130.9l.1 .1M619.1 104.2l.1 .1M658.4 133.5l.1 .1M547.8 104.1l.1 .1M573.2 116.9l.1 .1M647.1 124.9l.1 .1M605.4 130.5l.1 .1M567.5 118.9l.1 .1M596.4 120.8l.1 .1M566.9 95.9l.1 .1M548.8 116.3l.1 .1M558.2 131.9l.1 .1M609.2 133.3l.1 .1M642.2 133.1l.1 .1M620.9 133.5l.1 .1M559.3 106.1l.1 .1M638.5 132.7l.1 .1M659.2 127.2l.1 .1M593.0 130.8l.1 .1M586.3 98.1l.1 .1M654.1 97.4l.1 .1M611.3 132.9l.1 .1M558.2 99.6l.1 .1M639.7 107.1l.1 .1M618.1 114.0l.1 .1M662.5 133.5l.1 .1M640.8 133.5l.1 .1M583.0 115.6l.1 .1M594.6 117.8l.1 .1M549.0 113.9l.1 .1M591.3 100.3l.1 .1M602.1 110.4l.1 .1M581.0 109.7l.1 .1M546.8 124.5l.1 .1M553.5 126.6l.1 .1M627.6 106.3l.1 .1M664.5 128.6l.1 .1M662.3 99.1l.1 .1M631.0 133.6l.1 .1M618.8 115.3l.1 .1M658.2 133.7l.1 .1M617.4 128.2l.1 .1M577.8 109.6l.1 .1M658.1 133.7l.1 .1M548.7 132.0l.1 .1M667.0 133.4l.1 .1M569.7 114.6l.1 .1M655.0 133.3l.1 .1M615.9 118.9l.1 .1M594.9 133.4l.1 .1M544.1 99.1l.1 .1M550.7 128.8l.1 .1M556.6 94.5l.1 .1M648.0 98.5l.1 .1M548.9 115.0l.1 .1M604.8 117.2l.1 .1M561.7 126.5l.1 .1M643.1 125.8l.1 .1M652.3 133.4l.1 .1M576.7 128.8l.1 .1M600.7 132.4l.1 .1M614.3 119.8l.1 .1M607.1 103.9l.1 .1M666.3 125.8l.1 .1M545.7 132.7l.1 .1M582.5 131.0l.1 .1M595.5 133.4l.1 .1M657.8 133.7l.1 .1M652.6 126.8l.1 .1M634.2 117.1l.1 .1M581.1 113.4l.1 .1M569.2 115.2l.1 .1M617.5 124.1l.1 .1M564.5 112.3l.1 .1M645.9 130.6l.1 .1M664.9 110.3l.1 .1M569.7 133.5l.1 .1M633.4 133.5l.1 .1M624.0 114.2l.1 .1M607.6 112.0l.1 .1M657.9 123.8l.1 .1M625.0 119.7l.1 .1M604.9 122.6l.1 .1M614.7 113.5l.1 .1M596.5 133.4l.1 .1M597.3 128.7l.1 .1M588.5 123.8l.1 .1M596.6 129.5l.1 .1M664.2 130.0l.1 .1M545.7 133.6l.1 .1M592.7 115.7l.1 .1M617.0 127.9l.1 .1M573.3 130.1l.1 .1M652.0 133.7l.1 .1M579.1 99.8l.1 .1M583.8 127.4l.1 .1M654.3 133.6l.1 .1M573.5 108.0l.1 .1M630.2 132.2l.1 .1M601.9 110.8l.1 .1M572.6 129.6l.1 .1M650.7 110.7l.1 .1M557.8 106.4l.1 .1M665.8 122.4l.1 .1M600.6 116.0l.1 .1M551.2 133.3l.1 .1M552.2 115.0l.1 .1M626.2 110.0l.1 .1M654.2 127.1l.1 .1M620.1 100.3l.1 .1M616.6 133.5l.1 .1M574.6 128.7l.1 .1M634.2 100.7l.1 .1M572.0 133.4l.1 .1M614.7 130.7l.1 .1M598.2 131.0l.1 .1M566.2 109.7l.1 .1M584.6 115.8l.1 .1M661.7 99.3l.1 .1M618.8 131.0l.1 .1M594.5 133.5l.1 .1M622.8 121.0l.1 .1M547.9 130.7l.1 .1M613.1 133.4l.1 .1M581.6 133.1l.1 .1M655.3 121.2l.1 .1M575.2 125.7l.1 .1M577.8 122.8l.1 .1M563.0 111.8l.1 .1M598.0 132.1l.1 .1M564.2 102.4l.1 .1M560.0 132.9l.1 .1M584.8 132.7l.1 .1M637.8 129.4l.1 .1M602.6 129.2l.1 .1M639.7 129.4l.1 .1M596.4 102.8l.1 .1M574.7 101.3l.1 .1M608.8 96.3l.1 .1M590.9 117.9l.1 .1M560.4 132.0l.1 .1M588.2 104.2l.1 .1M600.8 117.0l.1 .1M569.3 125.2l.1 .1M585.3 133.1l.1 .1M611.0 118.0l.1 .1M631.8 133.7l.1 .1M552.2 128.4l.1 .1M569.9 132.1l.1 .1M611.9 109.0l.1 .1M574.5 131.0l.1 .1M578.4 131.6l.1 .1M641.7 130.6l.1 .1M630.2 111.4l.1 .1M624.7 104.3l.1 .1M549.2 133.5l.1 .1M575.7 133.2l.1 .1M645.6 125.2l.1 .1M596.9 122.8l.1 .1M665.4 132.4l.1 .1M586.0 113.7l.1 .1M665.4 133.7l.1 .1M648.8 132.2l.1 .1M624.6 133.5l.1 .1M653.9 130.4l.1 .1M556.1 131.5l.1 .1M643.6 132.9l.1 .1M623.4 96.2l.1 .1M578.6 118.0l.1 .1M554.4 131.9l.1 .1M549.0 95.7l.1 .1M587.0 121.5l.1 .1M597.7 133.0l.1 .1M574.4 100.5l.1 .1M621.7 133.2l.1 .1M607.0 119.3l.1 .1M652.0 133.0l.1 .1M565.2 133.5l.1 .1M607.4 132.4l.1 .1M612.3 127.0l.1 .1M654.5 115.3l.1 .1M548.9 127.3l.1 .1M545.9 108.4l.1 .1M561.4 131.2l.1 .1M640.6 122.0l.1 .1M580.1 133.4l.1 .1M629.1 106.9l.1 .1M628.8 133.5l.1 .1M594.3 111.0l.1 .1M625.4 133.2l.1 .1M560.2 131.1l.1 .1M593.6 133.2l.1 .1M591.4 133.4l.1 .1M612.1 124.2l.1 .1M642.9 129.2l.1 .1M584.5 133.6l.1 .1M650.8 100.3l.1 .1M638.5 101.3l.1 .1M641.3 124.9l.1 .1M558.2 123.3l.1 .1M555.7 132.2l.1 .1M583.6 105.0l.1 .1M610.4 129.1l.1 .1M631.2 133.5l.1 .1M642.4 110.9l.1 .1M583.0 104.6l.1 .1M638.1 133.3l.1 .1M589.7 117.3l.1 .1M562.7 130.7l.1 .1M600.8 108.3l.1 .1M585.8 109.8l.1 .1M607.3 131.1l.1 .1M653.1 114.2l.1 .1M629.6 130.4l.1 .1M650.5 129.2l.1 .1M612.5 113.3l.1 .1M577.6 130.2l.1 .1M643.0 104.3l.1 .1M554.2 131.4l.1 .1M663.2 132.9l.1 .1M644.1 133.7l.1 .1M612.3 125.1l.1 .1M594.5 124.7l.1 .1M554.8 124.0l.1 .1M556.4 101.4l.1 .1M627.0 133.3l.1 .1M643.7 120.1l.1 .1M659.1 117.4l.1 .1M545.0 133.7l.1 .1M640.2 132.4l.1 .1M609.5 133.3l.1 .1M563.0 112.6l.1 .1M655.3 125.2l.1 .1M593.0 114.1l.1 .1M578.1 126.9l.1 .1M640.7 97.9l.1 .1M581.4 118.0l.1 .1M604.0 115.0l.1 .1M588.8 110.7l.1 .1M628.5 104.5l.1 .1M613.4 127.9l.1 .1M609.3 110.3l.1 .1M544.5 97.9l.1 .1M632.2 103.3l.1 .1M649.0 126.6l.1 .1M585.5 133.3l.1 .1M645.7 116.1l.1 .1M666.9 130.0l.1 .1M549.3 119.7l.1 .1M553.1 133.4l.1 .1M583.6 123.5l.1 .1M599.2 132.1l.1 .1M656.4 133.6l.1 .1M612.9 107.9l.1 .1M581.9 128.1l.1 .1M586.7 122.0l.1 .1M662.2 96.5l.1 .1M646.1 115.4l.1 .1M559.0 133.6l.1 .1M559.3 130.6l.1 .1M665.9 128.7l.1 .1M662.5 108.1l.1 .1M571.2 132.6l.1 .1M577.6 133.7l.1 .1M609.1 133.7l.1 .1M627.2 131.5l.1 .1M617.7 123.8l.1 .1M634.8 131.5l.1 .1M632.2 117.5l.1 .1M601.2 127.2l.1 .1M548.6 131.7l.1 .1M620.1 127.4l.1 .1M650.3 133.0l.1 .1M649.5 104.7l.1 .1M604.2 109.5l.1 .1M577.3 133.1l.1 .1M665.7 114.7l.1 .1M544.4 133.5l.1 .1M587.0 130.4l.1 .1M557.6 122.2l.1 .1M585.6 107.4l.1 .1M584.5 102.3l.1 .1M565.5 131.4l.1 .1M616.7 97.4l.1 .1M551.5 108.8l.1 .1M634.5 124.6l.1 .1M659.8 95.8l.1 .1M589.9 133.5l.1 .1M610.0 94.4l.1 .1M575.1 98.2l.1 .1M661.0 133.7l.1 .1M613.2 132.1l.1 .1M615.3 130.3l.1 .1M661.1 100.2l.1 .1M575.5 104.9l.1 .1M545.9 109.1l.1 .1M660.7 128.9l.1 .1M589.2 132.2l.1 .1M573.0 122.9l.1 .1M624.6 116.4l.1 .1M657.7 133.6l.1 .1M630.0 133.6l.1 .1M561.5 130.5l.1 .1M667.4 133.6l.1 .1M600.5 110.6l.1 .1M663.9 111.0l.1 .1M609.7 100.9l.1 .1M607.9 131.9l.1 .1M634.2 96.0l.1 .1M648.2 118.6l.1 .1M613.0 129.1l.1 .1M568.3 107.1l.1 .1M546.7 106.3l.1 .1M614.9 124.8l.1 .1M658.0 133.3l.1 .1M566.6 128.2l.1 .1M617.0 129.0l.1 .1M544.0 128.5l.1 .1M632.1 133.6l.1 .1M575.3 133.4l.1 .1M650.5 110.1l.1 .1M565.3 104.5l.1 .1M637.2 133.7l.1 .1M588.8 122.2l.1 .1M597.2 133.7l.1 .1M616.6 132.4l.1 .1M569.6 96.0l.1 .1M629.8 133.6l.1 .1M571.3 133.5l.1 .1M665.9 128.2l.1 .1M582.8 131.0l.1 .1M563.8 127.1l.1 .1M630.5 129.3l.1 .1M642.4 131.1l.1 .1M556.2 133.0l.1 .1M599.8 120.8l.1 .1M556.7 101.6l.1 .1M626.7 114.1l.1 .1M559.6 130.1l.1 .1M637.7 121.6l.1 .1M602.2 127.2l.1 .1M619.2 117.7l.1 .1M566.7 128.7l.1 .1M611.8 127.5l.1 .1M667.0 103.3l.1 .1M584.4 124.0l.1 .1M621.8 132.6l.1 .1M574.4 114.6l.1 .1M667.6 117.5l.1 .1M660.1 129.5l.1 .1M624.5 128.3l.1 .1M568.9 105.7l.1 .1M665.7 130.6l.1 .1M581.6 133.6l.1 .1M636.0 127.0l.1 .1M658.9 120.6l.1 .1M543.8 118.6l.1 .1M548.2 133.6l.1 .1M547.0 128.4l.1 .1M622.1 125.2l.1 .1M649.8 132.8l.1 .1M662.7 128.9l.1 .1M620.5 130.3l.1 .1M576.3 124.6l.1 .1M544.1 112.0l.1 .1M583.4 132.3l.1 .1M605.7 104.5l.1 .1M580.7 133.7l.1 .1M643.9 121.7l.1 .1M640.3 133.5l.1 .1M608.6 129.6l.1 .1M598.0 128.7l.1 .1M657.6 95.1l.1 .1M634.9 101.6l.1 .1M561.2 116.9l.1 .1M646.7 133.7l.1 .1M621.9 118.4l.1 .1M576.8 131.3l.1 .1M609.6 101.3l.1 .1M585.9 133.7l.1 .1M552.0 130.5l.1 .1M655.6 96.3l.1 .1M544.2 109.6l.1 .1M557.5 128.8l.1 .1M644.0 115.4l.1 .1M641.8 111.3l.1 .1M545.3 133.4l.1 .1M648.1 133.6l.1 .1M607.7 108.5l.1 .1M649.9 132.5l.1 .1M583.9 133.4l.1 .1M665.5 133.7l.1 .1M639.3 128.9l.1 .1M615.7 110.5l.1 .1M639.7 95.5l.1 .1M663.1 100.8l.1 .1M636.7 133.6l.1 .1M583.9 132.6l.1 .1M666.2 130.7l.1 .1M597.6 133.6l.1 .1M667.3 133.4l.1 .1M630.7 126.4l.1 .1M638.8 125.5l.1 .1M594.9 130.8l.1 .1M630.8 114.3l.1 .1M582.0 104.0l.1 .1M635.1 107.1l.1 .1M594.3 123.3l.1 .1M553.2 123.6l.1 .1M582.3 133.5l.1 .1M549.7 133.4l.1 .1M634.3 115.9l.1 .1M569.2 121.4l.1 .1M646.1 115.6l.1 .1M571.9 121.2l.1 .1M592.6 123.7l.1 .1M562.1 132.0l.1 .1M622.1 105.8l.1 .1M565.0 100.3l.1 .1M606.8 132.1l.1 .1M581.1 133.6l.1 .1M603.4 124.7l.1 .1M615.2 102.3l.1 .1M616.2 120.3l.1 .1M589.1 111.6l.1 .1M665.2 133.7l.1 .1M559.4 111.1l.1 .1M571.2 133.5l.1 .1M559.9 119.2l.1 .1M604.9 133.7l.1 .1M575.8 133.7l.1 .1M569.1 129.8l.1 .1M575.9 133.7l.1 .1M583.9 132.4l.1 .1M588.3 128.9l.1 .1M546.0 131.1l.1 .1M635.2 107.9l.1 .1M544.0 126.5l.1 .1M655.3 132.5l.1 .1M569.1 127.7l.1 .1M654.2 109.2l.1 .1M605.8 133.4l.1 .1M558.2 123.8l.1 .1M620.3 131.1l.1 .1M621.6 118.4l.1 .1M590.5 121.2l.1 .1M545.7 133.6l.1 .1M650.9 107.9l.1 .1M553.1 102.6l.1 .1M565.0 112.7l.1 .1M568.5 130.6l.1 .1M645.2 106.2l.1 .1M591.0 108.3l.1 .1M575.9 100.0l.1 .1M627.1 123.3l.1 .1M591.0 132.5l.1 .1M642.4 133.5l.1 .1M560.5 133.0l.1 .1M623.0 131.9l.1 .1M608.7 120.3l.1 .1M637.0 106.7l.1 .1M610.0 132.8l.1 .1M573.6 133.1l.1 .1M553.2 133.3l.1 .1M653.6 130.5l.1 .1M554.5 119.3l.1 .1M617.0 132.7l.1 .1M547.0 125.1l.1 .1M613.8 133.6l.1 .1M553.6 122.1l.1 .1M573.5 112.4l.1 .1M609.3 122.6l.1 .1M661.0 130.7l.1 .1M596.1 129.4l.1 .1M647.8 124.7l.1 .1M639.1 95.4l.1 .1M632.5 124.8l.1 .1M662.6 120.3l.1 .1M637.9 97.0l.1 .1M614.1 132.7l.1 .1M572.3 128.2l.1 .1M571.1 111.9l.1 .1M604.3 116.4l.1 .1M631.3 128.6l.1 .1M666.4 115.5l.1 .1M642.8 94.3l.1 .1M626.6 132.1l.1 .1M660.3 126.4l.1 .1M588.0 128.0l.1 .1M601.9 133.7l.1 .1M581.9 125.0l.1 .1M603.7 133.5l.1 .1M564.9 133.6l.1 .1M586.8 128.1l.1 .1M609.4 126.2l.1 .1M560.2 129.6l.1 .1M613.0 133.7l.1 .1M578.5 97.0l.1 .1M583.3 130.5l.1 .1M604.8 114.4l.1 .1M544.3 110.9l.1 .1M569.2 133.4l.1 .1M593.2 130.1l.1 .1M663.4 129.7l.1 .1M615.0 128.2l.1 .1M623.2 97.6l.1 .1M646.4 122.4l.1 .1M548.1 130.8l.1 .1M609.9 98.1l.1 .1M551.9 122.9l.1 .1M590.0 114.2l.1 .1M578.8 120.0l.1 .1M589.4 101.5l.1 .1M654.5 131.9l.1 .1M577.2 132.6l.1 .1M665.3 126.7l.1 .1M569.7 133.5l.1 .1M553.0 110.9l.1 .1M640.7 128.9l.1 .1M642.0 116.2l.1 .1M654.0 133.5l.1 .1M644.6 130.4l.1 .1M654.2 127.2l.1 .1M575.6 127.0l.1 .1M605.2 133.3l.1 .1M564.0 133.7l.1 .1M614.8 105.1l.1 .1M562.4 106.0l.1 .1M601.8 126.9l.1 .1M576.3 133.5l.1 .1M633.4 101.2l.1 .1M619.2 125.9l.1 .1M661.9 106.2l.1 .1M549.9 122.4l.1 .1M564.1 105.3l.1 .1M560.6 132.4l.1 .1M615.9 125.8l.1 .1M601.9 127.6l.1 .1M632.7 133.3l.1 .1M582.0 124.8l.1 .1M660.1 108.2l.1 .1M665.8 101.2l.1 .1M591.8 133.6l.1 .1M575.5 127.9l.1 .1M655.9 114.3l.1 .1M606.4 133.3l.1 .1M653.9 97.2l.1 .1M556.6 127.9l.1 .1M607.8 127.7l.1 .1M566.7 111.6l.1 .1M665.8 131.8l.1 .1M619.4 133.7l.1 .1M636.7 133.6l.1 .1M658.4 128.7l.1 .1M652.5 132.6l.1 .1M549.6 132.6l.1 .1M553.1 133.6l.1 .1M664.2 129.6l.1 .1M632.5 130.4l.1 .1M607.6 133.7l.1 .1M555.8 124.7l.1 .1M599.0 123.0l.1 .1M646.6 131.0l.1 .1M558.6 117.4l.1 .1M550.1 133.5l.1 .1M622.6 132.1l.1 .1M663.8 97.2l.1 .1M559.1 105.9l.1 .1M638.2 111.2l.1 .1M667.1 127.2l.1 .1M558.3 122.2l.1 .1M559.7 132.7l.1 .1M621.0 121.6l.1 .1M544.9 106.4l.1 .1M664.3 133.7l.1 .1M576.4 132.1l.1 .1M557.5 105.7l.1 .1M654.8 111.1l.1 .1M619.1 123.8l.1 .1M618.9 133.7l.1 .1M639.3 121.5l.1 .1M557.8 125.6l.1 .1M624.6 132.6l.1 .1M556.9 133.6l.1 .1M642.4 132.3l.1 .1M587.9 124.4l.1 .1M615.7 97.6l.1 .1M613.8 132.4l.1 .1M589.3 106.6l.1 .1M615.2 128.4l.1 .1M622.8 95.4l.1 .1M615.8 133.0l.1 .1M602.3 131.1l.1 .1M546.2 116.2l.1 .1M582.6 125.9l.1 .1M645.4 122.2l.1 .1M621.7 127.3l.1 .1M575.4 131.7l.1 .1M609.7 125.8l.1 .1M638.5 132.6l.1 .1M587.7 126.2l.1 .1M647.4 132.2l.1 .1M660.0 102.9l.1 .1M552.5 132.3l.1 .1M546.7 120.6l.1 .1M627.9 106.5l.1 .1M598.4 130.8l.1 .1M563.5 117.9l.1 .1M641.2 130.2l.1 .1M616.2 118.0l.1 .1M570.6 133.5l.1 .1M547.6 132.2l.1 .1M614.7 120.2l.1 .1M612.4 101.0l.1 .1M601.8 101.5l.1 .1M578.5 125.6l.1 .1M659.8 127.4l.1 .1M543.9 126.6l.1 .1M568.2 130.4l.1 .1M606.8 121.0l.1 .1M658.6 127.1l.1 .1M554.5 113.1l.1 .1M630.5 133.7l.1 .1M624.6 122.3l.1 .1M548.1 126.2l.1 .1M647.2 127.8l.1 .1M549.1 122.0l.1 .1M655.8 133.4l.1 .1M564.1 124.5l.1 .1M658.3 116.5l.1 .1M623.7 105.8l.1 .1M554.5 110.1l.1 .1M644.1 127.5l.1 .1M561.5 130.7l.1 .1M631.0 105.8l.1 .1M551.5 133.7l.1 .1M661.9 124.0l.1 .1M652.3 121.3l.1 .1M615.1 133.5l.1 .1M584.8 133.0l.1 .1M601.2 133.3l.1 .1M625.1 133.7l.1 .1M655.8 119.8l.1 .1M553.0 112.7l.1 .1M611.0 105.5l.1 .1M604.7 100.0l.1 .1M631.0 133.6l.1 .1M665.7 133.1l.1 .1M655.5 124.7l.1 .1M584.1 126.5l.1 .1M631.7 119.0l.1 .1M577.8 127.6l.1 .1M632.3 128.8l.1 .1M563.2 132.5l.1 .1M625.2 126.8l.1 .1M577.3 133.6l.1 .1M576.8 96.9l.1 .1M581.6 112.5l.1 .1M603.9 133.6l.1 .1M640.0 105.5l.1 .1M630.9 133.7l.1 .1M603.5 121.1l.1 .1M608.4 118.9l.1 .1M629.9 133.0l.1 .1M582.1 133.4l.1 .1M614.1 106.9l.1 .1M631.7 125.8l.1 .1M591.3 126.5l.1 .1M546.4 124.2l.1 .1M548.5 130.5l.1 .1M656.2 94.6l.1 .1M563.3 119.5l.1 .1M578.7 106.6l.1 .1M624.4 110.3l.1 .1M635.6 121.9l.1 .1M647.1 132.0l.1 .1M637.5 124.6l.1 .1M575.2 107.7l.1 .1M588.5 129.0l.1 .1M652.2 133.6l.1 .1M604.4 117.7l.1 .1M652.7 124.5l.1 .1M588.0 133.6l.1 .1M609.9 117.7l.1 .1M575.7 126.3l.1 .1M626.8 132.6l.1 .1M659.9 130.7l.1 .1M664.0 102.9l.1 .1M607.4 131.9l.1 .1M588.2 133.5l.1 .1M605.8 133.6l.1 .1M638.2 98.2l.1 .1M577.9 130.2l.1 .1M550.2 100.4l.1 .1M649.8 107.4l.1 .1M661.6 133.6l.1 .1M591.9 119.9l.1 .1M619.1 128.6l.1 .1M651.3 125.2l.1 .1M584.1 103.4l.1 .1M640.2 133.7l.1 .1M624.9 119.8l.1 .1M553.1 133.6l.1 .1M588.8 103.2l.1 .1M664.3 127.2l.1 .1M622.4 132.9l.1 .1M613.2 133.6l.1 .1M563.2 114.6l.1 .1M663.8 113.3l.1 .1M641.7 108.8l.1 .1M632.5 99.0l.1 .1M645.9 124.4l.1 .1M621.7 110.2l.1 .1M565.8 118.7l.1 .1M584.0 130.8l.1 .1M640.6 106.3l.1 .1M666.9 131.7l.1 .1M551.3 133.6l.1 .1M553.2 131.0l.1 .1M588.1 98.8l.1 .1M649.7 129.6l.1 .1M621.8 125.0l.1 .1M600.7 128.2l.1 .1M578.0 98.2l.1 .1M603.0 125.3l.1 .1M561.8 133.3l.1 .1M642.7 126.0l.1 .1M551.0 128.4l.1 .1M560.7 100.1l.1 .1M549.3 104.3l.1 .1M561.8 119.7l.1 .1M595.9 132.1l.1 .1M597.6 113.6l.1 .1M593.5 128.8l.1 .1M578.5 125.4l.1 .1M567.3 98.5l.1 .1M611.7 133.4l.1 .1M633.1 130.5l.1 .1M627.5 133.7l.1 .1M658.6 130.2l.1 .1M597.3 131.5l.1 .1M609.8 131.2l.1 .1M626.7 131.8l.1 .1M631.5 129.0l.1 .1M600.3 131.6l.1 .1M632.7 124.0l.1 .1M596.9 119.5l.1 .1M557.6 133.6l.1 .1M566.4 133.3l.1 .1M625.7 133.0l.1 .1M656.2 130.7l.1 .1M574.1 132.5l.1 .1M561.6 133.0l.1 .1M615.4 117.9l.1 .1M644.1 132.3l.1 .1M596.8 118.3l.1 .1M625.1 121.7l.1 .1M555.0 128.2l.1 .1M661.0 130.2l.1 .1M622.9 130.0l.1 .1M639.6 133.6l.1 .1M589.9 105.9l.1 .1M607.3 130.0l.1 .1M569.7 132.2l.1 .1M628.8 133.4l.1 .1M662.2 125.9l.1 .1M652.1 97.7l.1 .1M647.6 99.3l.1 .1M559.7 133.7l.1 .1M652.0 96.5l.1 .1M620.5 121.4l.1 .1M596.3 128.3l.1 .1M611.6 133.3l.1 .1M558.8 131.9l.1 .1M614.9 105.4l.1 .1M580.1 105.0l.1 .1M578.0 123.2l.1 .1M569.6 108.4l.1 .1M612.5 119.8l.1 .1M553.6 131.0l.1 .1M608.5 126.7l.1 .1M568.8 109.3l.1 .1M581.5 133.0l.1 .1M572.4 110.4l.1 .1M547.6 120.5l.1 .1M631.5 133.6l.1 .1M557.6 126.3l.1 .1M660.3 127.1l.1 .1M612.7 129.5l.1 .1M606.3 128.8l.1 .1M653.1 133.7l.1 .1M586.7 123.0l.1 .1M566.8 131.8l.1 .1M647.9 100.2l.1 .1M618.4 129.9l.1 .1M568.5 124.2l.1 .1M634.8 133.7l.1 .1M613.7 133.2l.1 .1M546.4 133.7l.1 .1M624.7 133.2l.1 .1M666.5 121.5l.1 .1M608.4 119.1l.1 .1M662.4 133.7l.1 .1M650.0 126.6l.1 .1M647.2 133.7l.1 .1M570.5 127.1l.1 .1M553.0 129.2l.1 .1M570.8 123.0l.1 .1M565.2 116.8l.1 .1M620.2 117.5l.1 .1M661.5 116.2l.1 .1M628.3 131.6l.1 .1M654.5 129.4l.1 .1M638.3 108.8l.1 .1M576.1 122.1l.1 .1M663.8 102.4l.1 .1M585.6 98.8l.1 .1M627.8 109.0l.1 .1M643.1 107.7l.1 .1M592.7 127.7l.1 .1M624.8 110.9l.1 .1M652.0 124.7l.1 .1M545.3 133.7l.1 .1M555.7 127.4l.1 .1M554.6 107.6l.1 .1M571.6 104.5l.1 .1M637.1 133.4l.1 .1M594.5 118.2l.1 .1M612.2 122.3l.1 .1M606.6 98.9l.1 .1M600.9 124.7l.1 .1M629.2 129.0l.1 .1M629.5 133.5l.1 .1M638.0 100.7l.1 .1M587.5 124.6l.1 .1M555.1 133.5l.1 .1M652.8 124.7l.1 .1M566.4 105.8l.1 .1M643.7 114.0l.1 .1M650.1 126.9l.1 .1M585.3 133.0l.1 .1M633.8 125.7l.1 .1M581.1 127.9l.1 .1M592.2 105.7l.1 .1M571.4 128.8l.1 .1M631.2 126.8l.1 .1M625.8 130.3l.1 .1M545.1 126.5l.1 .1M579.4 97.7l.1 .1M662.5 124.5l.1 .1M551.6 132.8l.1 .1M562.6 132.8l.1 .1M607.8 106.9l.1 .1M577.3 133.7l.1 .1M565.3 125.8l.1 .1M655.8 131.4l.1 .1M572.6 128.1l.1 .1M557.6 122.2l.1 .1M624.0 125.5l.1 .1M611.7 133.6l.1 .1M636.0 131.3l.1 .1M656.4 121.4l.1 .1M566.3 121.8l.1 .1M630.9 133.0l.1 .1M551.4 109.9l.1 .1M578.7 128.9l.1 .1M651.8 127.3l.1 .1M635.9 123.9l.1 .1M578.1 113.0l.1 .1M590.2 121.2l.1 .1M609.4 127.1l.1 .1M564.5 118.8l.1 .1M563.6 107.9l.1 .1M649.0 131.3l.1 .1M589.1 95.6l.1 .1M548.3 98.6l.1 .1M568.6 98.3l.1 .1M638.1 133.7l.1 .1M636.9 133.2l.1 .1M559.0 133.7l.1 .1M554.1 130.3l.1 .1M586.6 127.2l.1 .1M604.8 114.6l.1 .1M648.2 97.4l.1 .1M657.4 133.1l.1 .1M613.7 103.5l.1 .1M564.7 125.2l.1 .1M570.9 131.1l.1 .1M619.8 132.9l.1 .1M638.8 131.0l.1 .1M646.2 123.3l.1 .1M648.7 133.6l.1 .1M622.0 125.9l.1 .1M630.0 132.4l.1 .1M633.1 129.2l.1 .1M561.0 122.8l.1 .1M636.9 131.5l.1 .1M622.0 133.7l.1 .1M632.3 124.5l.1 .1M602.8 131.0l.1 .1M636.6 127.0l.1 .1M606.9 133.6l.1 .1M616.7 132.1l.1 .1M569.2 132.1l.1 .1M654.6 132.5l.1 .1M652.8 130.2l.1 .1M577.0 114.8l.1 .1M544.7 124.1l.1 .1M621.9 100.3l.1 .1M608.0 133.5l.1 .1M626.8 126.4l.1 .1M656.5 131.7l.1 .1M552.7 121.0l.1 .1M653.3 109.3l.1 .1M631.9 131.4l.1 .1M653.0 106.2l.1 .1M647.4 133.6l.1 .1M643.1 132.3l.1 .1M601.4 117.7l.1 .1M643.3 102.9l.1 .1M662.5 94.8l.1 .1M634.8 123.3l.1 .1M593.3 118.6l.1 .1M606.6 126.3l.1 .1M576.0 132.7l.1 .1M648.6 107.4l.1 .1M629.0 117.1l.1 .1M614.7 125.8l.1 .1M544.6 118.8l.1 .1M663.9 128.1l.1 .1M601.6 132.8l.1 .1M575.3 133.6l.1 .1M547.7 108.9l.1 .1M642.6 110.7l.1 .1M575.5 105.6l.1 .1M589.7 100.4l.1 .1M661.5 127.9l.1 .1M628.1 124.5l.1 .1M544.2 133.5l.1 .1M556.8 132.1l.1 .1M574.6 108.9l.1 .1M627.8 98.1l.1 .1M631.8 132.9l.1 .1M609.0 131.2l.1 .1M646.9 133.6l.1 .1M615.7 111.5l.1 .1M585.8 117.5l.1 .1M584.0 133.4l.1 .1M613.5 114.5l.1 .1M573.5 133.4l.1 .1M545.4 127.1l.1 .1M599.4 133.7l.1 .1M653.9 133.4l.1 .1M636.6 133.4l.1 .1M582.8 111.0l.1 .1M666.7 124.6l.1 .1M591.7 121.3l.1 .1M575.8 96.5l.1 .1M582.1 98.3l.1 .1M582.8 128.7l.1 .1M653.1 119.6l.1 .1M566.2 117.5l.1 .1M633.3 95.2l.1 .1M649.0 126.0l.1 .1M617.8 133.5l.1 .1M639.9 111.6l.1 .1M551.4 118.4l.1 .1M577.0 127.0l.1 .1M592.9 121.7l.1 .1M610.4 127.7l.1 .1M654.1 122.6l.1 .1M577.7 131.8l.1 .1M557.6 133.0l.1 .1M657.7 107.0l.1 .1M588.3 133.4l.1 .1M650.8 102.7l.1 .1M666.7 96.3l.1 .1M551.9 131.4l.1 .1M605.9 132.3l.1 .1M575.1 133.7l.1 .1M628.2 127.2l.1 .1M558.9 133.2l.1 .1M554.9 130.9l.1 .1M556.4 133.4l.1 .1M652.7 110.6l.1 .1M643.4 133.7l.1 .1M624.4 107.5l.1 .1M645.3 131.5l.1 .1M549.4 133.6l.1 .1M571.1 98.4l.1 .1M637.2 101.8l.1 .1M555.4 133.7l.1 .1M561.8 119.9l.1 .1M627.0 118.8l.1 .1M602.7 132.5l.1 .1M651.7 132.7l.1 .1M629.3 120.6l.1 .1M551.2 121.1l.1 .1M640.3 104.2l.1 .1M616.9 125.7l.1 .1M637.3 126.5l.1 .1M578.1 125.0l.1 .1M570.1 125.6l.1 .1M608.2 133.7l.1 .1M632.9 105.4l.1 .1M606.7 132.8l.1 .1M615.5 122.9l.1 .1M606.8 127.6l.1 .1M652.9 117.6l.1 .1M640.9 125.6l.1 .1M558.5 118.1l.1 .1M582.5 132.1l.1 .1M604.6 130.4l.1 .1M667.4 131.6l.1 .1M589.7 114.9l.1 .1M658.3 116.9l.1 .1M621.7 133.2l.1 .1M590.2 98.0l.1 .1M643.3 104.9l.1 .1M561.6 131.1l.1 .1M595.2 110.2l.1 .1M601.2 130.5l.1 .1M654.5 115.3l.1 .1M638.7 101.7l.1 .1M589.4 133.1l.1 .1M568.5 133.7l.1 .1M565.6 130.7l.1 .1M560.0 127.0l.1 .1M594.6 119.5l.1 .1M628.7 132.3l.1 .1M546.6 131.0l.1 .1M637.2 107.9l.1 .1M580.1 104.8l.1 .1M630.0 132.1l.1 .1M663.5 133.3l.1 .1M611.7 119.5l.1 .1M578.8 133.7l.1 .1M665.3 128.7l.1 .1M617.0 133.3l.1 .1M664.1 133.6l.1 .1M644.4 114.1l.1 .1M565.9 114.0l.1 .1M548.5 132.4l.1 .1M553.7 124.2l.1 .1M565.2 133.0l.1 .1M641.6 101.4l.1 .1M664.0 131.7l.1 .1M561.1 133.2l.1 .1M643.5 129.8l.1 .1M641.5 133.5l.1 .1M642.7 124.5l.1 .1M548.9 130.8l.1 .1M633.3 133.5l.1 .1M638.4 126.0l.1 .1M578.3 132.9l.1 .1M649.1 132.7l.1 .1M562.9 116.7l.1 .1M548.5 115.4l.1 .1M575.5 127.4l.1 .1M632.8 113.0l.1 .1M568.1 117.8l.1 .1M623.0 133.7l.1 .1M544.8 117.2l.1 .1M654.9 107.8l.1 .1M608.0 130.3l.1 .1M658.4 119.6l.1 .1M607.6 119.7l.1 .1M604.4 112.7l.1 .1M611.5 133.7l.1 .1M585.2 128.9l.1 .1M571.1 129.5l.1 .1M636.3 131.3l.1 .1M600.2 104.2l.1 .1M559.2 107.3l.1 .1M636.0 125.6l.1 .1M591.7 111.9l.1 .1M662.8 133.1l.1 .1M624.6 121.7l.1 .1M557.7 130.6l.1 .1M593.8 123.4l.1 .1M625.9 103.9l.1 .1M614.3 113.6l.1 .1M560.3 113.7l.1 .1M615.7 94.6l.1 .1M567.2 122.2l.1 .1M631.1 133.6l.1 .1M626.3 115.4l.1 .1M604.0 132.2l.1 .1M623.1 112.7l.1 .1M554.7 102.3l.1 .1M545.3 112.3l.1 .1M609.9 120.9l.1 .1M595.6 133.6l.1 .1M651.2 118.7l.1 .1M606.8 133.6l.1 .1M558.1 110.9l.1 .1M660.1 103.7l.1 .1M569.5 130.7l.1 .1M570.9 133.3l.1 .1M631.3 128.8l.1 .1M612.9 100.0l.1 .1M596.6 98.5l.1 .1M543.7 119.3l.1 .1M546.5 128.8l.1 .1M643.9 133.4l.1 .1M580.8 133.5l.1 .1M608.8 125.2l.1 .1M557.3 133.7l.1 .1M593.8 118.2l.1 .1M603.0 133.6l.1 .1M667.6 130.0l.1 .1M566.0 133.7l.1 .1M612.0 133.6l.1 .1M640.1 97.9l.1 .1M610.6 133.5l.1 .1M664.8 130.3l.1 .1M618.6 116.5l.1 .1M597.8 132.2l.1 .1M590.6 125.2l.1 .1M554.8 123.7l.1 .1M666.0 128.8l.1 .1M606.4 129.3l.1 .1M644.4 113.7l.1 .1M590.9 114.8l.1 .1M568.4 116.2l.1 .1M545.6 121.3l.1 .1M565.4 132.9l.1 .1M635.2 130.5l.1 .1M652.3 133.7l.1 .1M661.5 133.6l.1 .1M619.8 98.9l.1 .1M660.3 107.7l.1 .1M649.8 128.0l.1 .1M640.5 133.7l.1 .1M639.9 119.8l.1 .1M554.0 133.3l.1 .1M618.8 125.4l.1 .1M565.9 117.6l.1 .1M663.8 123.5l.1 .1M645.3 132.2l.1 .1M627.1 97.9l.1 .1M595.5 128.2l.1 .1M559.1 127.3l.1 .1M578.3 133.6l.1 .1M655.2 133.1l.1 .1M652.2 130.2l.1 .1M655.0 123.7l.1 .1M631.8 103.3l.1 .1M573.9 127.9l.1 .1M582.3 123.7l.1 .1M548.9 108.6l.1 .1M585.7 120.3l.1 .1M610.9 128.8l.1 .1M666.8 95.9l.1 .1M662.4 130.4l.1 .1M608.9 98.3l.1 .1M568.1 123.7l.1 .1M603.8 111.3l.1 .1M658.0 113.1l.1 .1M629.8 121.0l.1 .1M559.9 124.3l.1 .1M551.4 127.6l.1 .1M665.2 133.0l.1 .1M560.4 129.8l.1 .1M551.1 128.3l.1 .1M572.0 121.8l.1 .1M622.6 132.7l.1 .1M545.3 100.9l.1 .1M615.8 116.1l.1 .1M595.9 126.7l.1 .1M587.3 133.7l.1 .1M585.2 125.4l.1 .1M585.8 94.8l.1 .1M644.2 107.3l.1 .1M604.6 111.0l.1 .1M648.3 126.2l.1 .1M571.5 133.5l.1 .1M604.6 133.7l.1 .1M662.2 127.8l.1 .1M594.0 100.5l.1 .1M556.7 126.4l.1 .1M608.0 113.7l.1 .1M652.4 133.1l.1 .1M567.5 133.7l.1 .1M667.3 127.0l.1 .1M576.7 133.3l.1 .1M585.3 111.2l.1 .1M546.0 100.6l.1 .1M582.1 132.4l.1 .1M556.3 107.1l.1 .1M653.6 118.4l.1 .1M643.6 96.6l.1 .1M603.6 133.7l.1 .1M558.8 132.7l.1 .1M634.8 132.4l.1 .1M559.8 123.2l.1 .1M551.8 131.7l.1 .1M637.2 100.9l.1 .1M662.9 127.2l.1 .1M569.3 96.3l.1 .1M567.4 132.2l.1 .1M617.4 120.8l.1 .1M639.6 125.5l.1 .1M582.7 125.1l.1 .1M661.3 118.7l.1 .1M603.9 133.7l.1 .1M636.3 133.3l.1 .1M647.7 128.4l.1 .1M662.6 118.6l.1 .1M617.5 123.0l.1 .1M643.2 96.6l.1 .1M556.5 130.8l.1 .1M551.5 101.3l.1 .1M659.4 101.1l.1 .1M661.3 119.1l.1 .1M636.1 121.8l.1 .1M571.2 122.3l.1 .1M635.8 133.6l.1 .1M559.1 127.8l.1 .1M576.5 123.9l.1 .1M652.3 132.1l.1 .1M636.4 121.2l.1 .1M597.8 109.4l.1 .1M597.2 127.8l.1 .1M640.2 130.4l.1 .1M580.6 104.3l.1 .1M570.4 116.3l.1 .1M628.6 133.7l.1 .1M584.5 112.2l.1 .1M632.8 94.7l.1 .1M637.9 131.1l.1 .1M561.0 107.4l.1 .1M597.5 102.1l.1 .1M590.5 131.9l.1 .1M609.0 125.1l.1 .1M551.1 131.6l.1 .1M632.6 120.6l.1 .1M592.8 117.2l.1 .1M545.8 106.4l.1 .1M545.9 133.4l.1 .1M608.5 124.1l.1 .1M608.8 132.6l.1 .1M548.1 133.7l.1 .1M653.5 97.7l.1 .1M625.0 133.6l.1 .1M610.4 125.9l.1 .1M623.2 107.7l.1 .1M628.2 99.6l.1 .1M558.1 101.8l.1 .1M583.3 109.0l.1 .1M641.8 101.3l.1 .1M637.3 97.4l.1 .1M608.6 129.6l.1 .1M550.8 111.8l.1 .1M614.1 124.7l.1 .1M586.1 115.9l.1 .1M634.9 121.8l.1 .1M628.2 129.8l.1 .1M589.5 102.8l.1 .1M603.7 125.2l.1 .1M577.1 107.8l.1 .1M592.3 131.7l.1 .1M562.8 119.5l.1 .1M606.0 96.2l.1 .1M594.8 115.1l.1 .1M591.5 133.7l.1 .1M554.9 123.4l.1 .1M616.4 96.1l.1 .1M547.2 127.6l.1 .1M585.5 132.3l.1 .1M565.2 119.7l.1 .1M577.2 126.7l.1 .1M629.0 123.7l.1 .1M636.7 125.6l.1 .1M554.0 121.0l.1 .1M603.6 119.3l.1 .1M659.8 113.3l.1 .1M649.1 130.5l.1 .1M624.3 132.5l.1 .1M645.9 133.7l.1 .1M600.0 128.0l.1 .1M589.8 126.3l.1 .1M629.5 132.5l.1 .1M550.4 120.8l.1 .1M659.2 132.0l.1 .1M580.0 131.8l.1 .1M589.9 123.1l.1 .1M665.5 99.0l.1 .1M571.5 133.4l.1 .1M598.8 133.1l.1 .1M627.3 131.8l.1 .1M552.5 104.2l.1 .1M557.6 133.7l.1 .1M560.2 131.3l.1 .1M588.7 128.4l.1 .1M663.6 115.3l.1 .1M595.8 96.3l.1 .1M560.0 120.0l.1 .1M653.2 121.6l.1 .1M561.0 104.3l.1 .1M655.5 133.2l.1 .1M638.2 117.1l.1 .1M620.3 133.6l.1 .1M635.0 133.7l.1 .1M583.6 111.0l.1 .1M634.5 133.7l.1 .1M620.6 94.4l.1 .1M584.4 130.2l.1 .1M663.8 109.8l.1 .1M571.1 130.2l.1 .1M596.7 94.6l.1 .1M582.2 128.1l.1 .1M665.5 115.5l.1 .1M649.7 127.3l.1 .1M596.0 129.3l.1 .1M664.0 110.4l.1 .1M631.0 113.6l.1 .1M657.6 108.7l.1 .1M609.6 98.5l.1 .1M544.5 129.6l.1 .1M587.7 125.2l.1 .1M666.8 133.7l.1 .1M659.2 131.4l.1 .1M588.3 133.7l.1 .1M627.1 111.7l.1 .1M604.2 118.4l.1 .1M646.7 133.6l.1 .1M602.9 113.2l.1 .1M643.3 123.8l.1 .1M602.6 126.4l.1 .1M634.9 126.8l.1 .1M585.2 114.8l.1 .1M590.2 112.2l.1 .1M590.4 118.4l.1 .1M660.2 103.1l.1 .1M590.9 112.1l.1 .1M597.4 130.5l.1 .1M547.8 121.9l.1 .1M658.8 124.5l.1 .1M654.2 133.6l.1 .1M667.4 123.4l.1 .1M632.8 115.6l.1 .1M595.9 113.7l.1 .1M649.6 133.5l.1 .1M633.1 104.9l.1 .1M605.6 132.7l.1 .1M588.8 125.7l.1 .1M600.4 126.6l.1 .1M621.4 96.1l.1 .1M656.3 96.4l.1 .1M639.3 133.1l.1 .1M617.7 129.8l.1 .1M635.4 123.8l.1 .1M627.7 131.5l.1 .1M640.7 130.1l.1 .1M623.4 126.4l.1 .1M578.4 94.6l.1 .1M654.7 133.7l.1 .1M623.8 125.3l.1 .1M654.1 108.4l.1 .1M666.1 129.7l.1 .1M633.8 129.6l.1 .1M588.6 108.3l.1 .1M589.1 128.8l.1 .1M594.7 130.7l.1 .1M551.2 107.1l.1 .1M641.7 95.2l.1 .1M623.3 123.9l.1 .1M638.5 131.5l.1 .1M591.0 105.1l.1 .1M570.8 126.2l.1 .1M649.3 132.3l.1 .1M599.1 120.1l.1 .1M566.6 120.2l.1 .1M587.9 133.7l.1 .1M566.5 123.2l.1 .1M584.0 124.6l.1 .1M635.4 132.1l.1 .1M635.7 130.3l.1 .1M590.2 113.9l.1 .1M648.2 133.7l.1 .1M615.6 124.2l.1 .1M611.7 117.8l.1 .1M544.7 102.5l.1 .1M620.1 97.2l.1 .1M656.2 129.1l.1 .1M617.6 103.4l.1 .1M621.0 133.7l.1 .1M614.8 129.0l.1 .1M560.0 108.4l.1 .1M582.2 107.4l.1 .1M548.3 132.3l.1 .1M576.9 133.5l.1 .1M660.2 125.1l.1 .1M579.5 133.1l.1 .1M623.0 130.0l.1 .1M626.7 130.4l.1 .1M549.1 133.3l.1 .1M633.4 123.0l.1 .1M549.6 133.4l.1 .1M551.8 118.7l.1 .1M629.3 100.9l.1 .1M594.4 133.2l.1 .1M554.5 133.7l.1 .1M652.5 130.5l.1 .1M637.0 102.3l.1 .1M616.1 120.3l.1 .1M625.0 125.8l.1 .1M593.0 126.3l.1 .1M581.0 108.0l.1 .1M627.9 129.2l.1 .1M586.4 97.6l.1 .1M593.5 128.4l.1 .1M587.6 132.8l.1 .1M566.9 111.3l.1 .1M578.9 127.0l.1 .1M639.5 123.1l.1 .1M604.0 133.5l.1 .1M623.8 133.0l.1 .1M571.1 118.2l.1 .1M581.2 132.5l.1 .1M654.3 131.0l.1 .1M641.8 105.1l.1 .1M600.3 129.5l.1 .1M600.7 132.8l.1 .1M555.0 98.7l.1 .1M567.9 129.5l.1 .1M581.0 107.4l.1 .1M550.1 126.7l.1 .1M607.4 117.5l.1 .1M633.1 110.5l.1 .1M576.2 114.3l.1 .1M617.8 132.3l.1 .1M659.8 133.7l.1 .1M604.8 115.7l.1 .1M553.3 130.3l.1 .1M639.5 124.1l.1 .1M555.9 133.5l.1 .1M601.9 117.7l.1 .1M594.7 111.2l.1 .1M651.9 95.9l.1 .1M610.2 131.1l.1 .1M599.5 122.7l.1 .1M631.1 109.3l.1 .1M575.0 109.3l.1 .1M611.0 126.0l.1 .1M545.6 122.9l.1 .1M599.2 109.7l.1 .1M649.7 133.2l.1 .1M635.5 124.0l.1 .1M620.9 114.5l.1 .1M550.6 101.9l.1 .1M564.0 130.9l.1 .1M570.9 120.4l.1 .1M560.5 133.7l.1 .1M610.6 133.1l.1 .1M601.3 127.7l.1 .1M609.2 133.7l.1 .1M555.0 132.2l.1 .1M562.4 133.6l.1 .1M564.3 129.3l.1 .1M563.9 127.5l.1 .1M652.3 114.8l.1 .1M552.6 131.1l.1 .1M554.1 97.5l.1 .1M637.5 119.7l.1 .1M654.1 126.8l.1 .1M633.0 133.3l.1 .1M654.9 102.5l.1 .1M597.8 107.1l.1 .1M648.9 125.8l.1 .1M575.3 129.8l.1 .1M569.0 133.7l.1 .1M658.9 133.3l.1 .1M587.4 131.3l.1 .1M629.3 96.6l.1 .1M556.7 128.4l.1 .1M579.7 130.2l.1 .1M595.8 98.9l.1 .1M577.1 96.8l.1 .1M655.2 133.7l.1 .1M641.4 133.6l.1 .1M578.8 122.3l.1 .1M596.9 108.2l.1 .1M612.8 95.8l.1 .1M659.0 99.4l.1 .1M629.4 129.9l.1 .1M624.9 115.3l.1 .1M629.0 133.7l.1 .1M567.7 113.2l.1 .1M552.0 133.6l.1 .1M556.8 124.5l.1 .1M595.1 107.1l.1 .1M634.7 94.7l.1 .1M566.3 128.5l.1 .1M618.9 128.6l.1 .1M654.2 106.1l.1 .1M546.6 131.0l.1 .1M628.9 118.9l.1 .1M643.2 119.8l.1 .1M621.2 109.7l.1 .1M559.2 109.1l.1 .1M626.3 99.2l.1 .1M564.5 133.6l.1 .1M581.6 120.1l.1 .1M578.2 99.9l.1 .1M606.1 126.7l.1 .1M581.3 99.7l.1 .1M633.3 103.7l.1 .1M661.0 123.5l.1 .1M636.6 104.4l.1 .1M549.1 124.5l.1 .1M624.3 132.6l.1 .1M623.4 133.5l.1 .1M591.7 130.6l.1 .1M647.9 109.0l.1 .1M599.0 114.1l.1 .1M665.9 124.9l.1 .1M619.0 100.9l.1 .1M655.5 133.6l.1 .1M558.2 133.7l.1 .1M568.0 119.2l.1 .1M628.8 113.7l.1 .1M656.3 133.2l.1 .1M625.1 94.4l.1 .1M643.0 95.9l.1 .1M645.9 127.1l.1 .1M630.0 99.8l.1 .1M589.8 133.6l.1 .1M589.0 116.7l.1 .1M600.2 133.2l.1 .1M602.5 133.3l.1 .1M633.8 133.5l.1 .1M659.7 132.7l.1 .1M621.9 133.5l.1 .1M568.3 120.0l.1 .1M611.8 120.8l.1 .1M566.6 121.4l.1 .1M647.3 127.0l.1 .1M573.9 121.3l.1 .1M652.7 130.8l.1 .1M602.9 133.7l.1 .1M597.0 125.7l.1 .1M556.8 133.7l.1 .1M600.1 107.6l.1 .1M599.6 131.6l.1 .1M553.7 133.7l.1 .1M637.8 108.6l.1 .1M583.0 132.9l.1 .1M583.1 133.6l.1 .1M637.0 125.4l.1 .1M648.8 126.0l.1 .1M614.0 94.4l.1 .1M560.3 133.7l.1 .1M559.8 118.5l.1 .1M550.4 103.1l.1 .1M667.1 133.7l.1 .1M612.5 129.1l.1 .1M558.3 122.3l.1 .1M589.4 130.8l.1 .1M640.7 114.7l.1 .1M566.1 117.2l.1 .1M657.2 127.5l.1 .1M586.9 133.1l.1 .1M667.1 121.4l.1 .1M629.4 133.7l.1 .1M609.2 127.5l.1 .1M555.5 107.7l.1 .1M583.0 122.2l.1 .1M632.2 113.6l.1 .1M562.5 128.9l.1 .1M630.6 113.0l.1 .1M636.1 123.7l.1 .1M574.0 98.9l.1 .1M643.7 117.5l.1 .1M655.6 132.0l.1 .1M662.2 131.3l.1 .1M664.3 122.9l.1 .1M640.6 104.3l.1 .1M600.5 130.0l.1 .1M643.5 122.7l.1 .1M655.1 128.9l.1 .1M608.2 132.7l.1 .1M564.8 133.3l.1 .1M549.5 131.7l.1 .1M620.6 123.5l.1 .1M642.6 129.4l.1 .1M628.4 124.5l.1 .1M584.5 133.6l.1 .1M563.5 133.7l.1 .1M560.5 107.0l.1 .1M590.5 122.3l.1 .1M651.7 118.5l.1 .1M663.3 108.5l.1 .1M593.1 97.4l.1 .1M638.2 95.4l.1 .1M584.4 131.9l.1 .1M648.5 125.3l.1 .1M654.2 133.5l.1 .1M617.2 118.6l.1 .1M591.0 129.1l.1 .1M632.4 129.2l.1 .1M632.2 128.1l.1 .1M554.4 105.0l.1 .1M660.4 133.7l.1 .1M644.6 132.9l.1 .1M571.5 129.2l.1 .1M596.8 133.7l.1 .1M550.4 122.1l.1 .1M579.3 133.7l.1 .1M636.7 104.6l.1 .1M593.7 132.2l.1 .1M631.5 128.9l.1 .1M587.7 131.8l.1 .1M573.1 126.1l.1 .1M636.4 128.5l.1 .1M550.6 126.0l.1 .1M614.4 130.5l.1 .1M591.7 132.5l.1 .1M588.8 123.9l.1 .1M652.1 133.0l.1 .1M656.0 133.6l.1 .1M612.3 133.6l.1 .1M594.4 124.5l.1 .1M653.2 120.9l.1 .1M551.1 131.1l.1 .1M652.6 132.9l.1 .1M637.2 122.2l.1 .1M583.8 129.6l.1 .1M614.1 117.5l.1 .1M563.6 102.0l.1 .1M629.4 130.7l.1 .1M601.5 102.5l.1 .1M557.2 111.4l.1 .1M584.5 120.2l.1 .1M580.5 117.3l.1 .1M577.0 133.0l.1 .1M632.0 115.5l.1 .1M595.0 102.0l.1 .1M643.9 133.6l.1 .1M632.7 132.2l.1 .1M598.7 126.6l.1 .1M571.8 133.7l.1 .1M600.7 114.0l.1 .1M643.7 104.5l.1 .1M665.5 124.9l.1 .1M593.4 133.7l.1 .1M550.3 125.0l.1 .1M562.2 105.4l.1 .1M577.3 123.0l.1 .1M601.4 129.8l.1 .1M564.9 131.7l.1 .1M621.3 118.8l.1 .1M664.3 133.6l.1 .1M571.3 133.5l.1 .1M588.8 131.8l.1 .1M655.6 126.6l.1 .1M614.9 133.5l.1 .1M575.6 121.0l.1 .1M598.8 130.4l.1 .1M640.0 104.1l.1 .1M552.2 126.9l.1 .1M644.9 130.3l.1 .1M592.1 128.4l.1 .1M548.7 120.2l.1 .1M628.7 119.8l.1 .1M595.4 133.5l.1 .1M576.2 106.5l.1 .1M586.5 125.1l.1 .1M592.1 124.2l.1 .1M658.3 130.6l.1 .1M667.5 117.3l.1 .1M601.5 130.8l.1 .1M651.1 130.2l.1 .1M628.0 130.1l.1 .1M610.9 133.1l.1 .1M657.0 132.0l.1 .1M661.8 130.1l.1 .1M585.9 123.6l.1 .1M659.1 124.3l.1 .1M645.9 117.3l.1 .1M620.3 123.6l.1 .1M646.8 133.3l.1 .1M624.0 120.2l.1 .1M638.3 131.4l.1 .1M583.4 125.2l.1 .1M639.4 95.0l.1 .1M647.8 118.1l.1 .1M591.3 117.2l.1 .1M656.0 98.3l.1 .1M597.6 118.5l.1 .1M549.3 126.2l.1 .1M646.7 103.9l.1 .1M601.4 122.4l.1 .1M546.3 110.3l.1 .1M574.7 129.3l.1 .1M587.6 121.7l.1 .1M654.9 121.8l.1 .1M557.9 129.0l.1 .1M647.2 133.7l.1 .1M598.4 127.3l.1 .1M556.4 133.7l.1 .1M654.7 133.7l.1 .1M583.5 133.7l.1 .1M614.7 127.1l.1 .1M623.7 132.6l.1 .1M665.8 120.2l.1 .1M580.3 133.6l.1 .1M579.6 133.5l.1 .1M547.4 132.7l.1 .1M577.8 110.1l.1 .1M644.6 114.2l.1 .1M546.7 110.9l.1 .1M649.2 122.7l.1 .1M618.5 120.6l.1 .1M645.7 128.6l.1 .1M587.3 125.0l.1 .1M602.1 126.4l.1 .1M627.1 133.0l.1 .1M624.7 108.1l.1 .1M593.9 133.7l.1 .1M559.9 112.9l.1 .1M628.4 126.0l.1 .1M584.6 124.9l.1 .1M631.0 133.7l.1 .1M618.2 133.2l.1 .1M633.3 125.3l.1 .1M664.4 133.5l.1 .1M651.9 114.0l.1 .1M633.0 133.0l.1 .1M630.5 129.9l.1 .1M594.3 117.0l.1 .1M598.0 99.0l.1 .1M632.3 127.3l.1 .1M654.7 133.3l.1 .1M653.7 130.9l.1 .1M559.0 133.3l.1 .1M573.5 122.5l.1 .1M568.5 128.2l.1 .1M635.1 115.5l.1 .1M560.3 117.7l.1 .1M615.9 133.7l.1 .1M632.5 133.6l.1 .1M659.3 124.4l.1 .1M624.9 109.3l.1 .1M606.6 108.7l.1 .1M551.3 131.7l.1 .1M626.2 116.7l.1 .1M607.1 120.6l.1 .1M657.6 127.7l.1 .1M561.0 129.9l.1 .1M638.1 98.7l.1 .1M665.9 103.4l.1 .1M562.9 128.3l.1 .1M604.4 126.5l.1 .1M641.1 129.6l.1 .1M664.0 132.3l.1 .1M578.9 132.7l.1 .1M572.7 108.5l.1 .1M577.6 115.5l.1 .1M601.9 129.1l.1 .1M645.7 132.3l.1 .1M658.3 99.6l.1 .1M546.8 133.2l.1 .1M635.4 128.2l.1 .1M662.8 124.4l.1 .1M628.3 95.4l.1 .1M593.5 132.1l.1 .1M592.5 133.6l.1 .1M582.9 113.8l.1 .1M610.5 133.0l.1 .1M623.7 103.4l.1 .1M597.2 133.5l.1 .1M644.3 132.5l.1 .1M598.7 128.8l.1 .1M580.5 104.9l.1 .1M665.2 127.9l.1 .1M610.6 131.4l.1 .1M585.2 119.7l.1 .1M595.9 120.7l.1 .1M612.7 108.4l.1 .1M614.7 115.4l.1 .1M592.0 117.1l.1 .1M588.7 133.3l.1 .1M545.4 131.0l.1 .1M608.7 112.7l.1 .1M631.0 126.9l.1 .1M559.2 133.6l.1 .1M548.7 115.9l.1 .1M606.6 105.5l.1 .1M650.2 97.3l.1 .1M586.3 129.1l.1 .1M639.1 128.4l.1 .1M632.9 127.5l.1 .1M636.5 95.1l.1 .1M635.7 125.7l.1 .1M615.7 126.4l.1 .1M659.6 128.8l.1 .1M614.1 95.4l.1 .1M556.4 123.9l.1 .1M658.9 123.6l.1 .1M639.7 132.4l.1 .1M632.2 132.2l.1 .1M617.5 131.8l.1 .1M547.7 112.3l.1 .1M608.6 107.7l.1 .1M581.7 132.4l.1 .1M635.5 124.1l.1 .1M552.4 133.1l.1 .1M622.3 132.5l.1 .1M638.2 129.2l.1 .1M589.3 115.3l.1 .1M561.7 122.6l.1 .1M623.9 121.7l.1 .1M626.3 132.5l.1 .1M664.2 133.3l.1 .1M658.0 124.4l.1 .1M570.3 118.7l.1 .1M619.9 115.0l.1 .1M629.6 129.9l.1 .1M627.9 113.3l.1 .1M663.4 132.7l.1 .1M597.5 102.3l.1 .1M666.8 100.8l.1 .1M567.4 130.6l.1 .1M604.4 132.4l.1 .1M573.1 133.3l.1 .1M546.0 115.0l.1 .1M594.2 121.6l.1 .1M575.7 116.3l.1 .1M570.1 127.0l.1 .1M650.8 133.7l.1 .1M580.3 130.1l.1 .1M589.5 100.2l.1 .1M561.1 124.7l.1 .1M652.2 129.0l.1 .1M645.1 108.9l.1 .1M572.3 101.8l.1 .1M559.8 133.7l.1 .1M611.3 119.6l.1 .1M632.0 130.1l.1 .1M619.0 132.6l.1 .1M560.9 128.8l.1 .1M566.5 112.3l.1 .1M638.0 110.6l.1 .1M599.9 128.3l.1 .1M560.9 132.8l.1 .1M589.6 117.1l.1 .1M589.3 123.8l.1 .1M563.9 132.0l.1 .1M597.3 113.1l.1 .1M651.9 133.3l.1 .1M572.1 133.2l.1 .1M613.0 133.2l.1 .1M547.5 112.1l.1 .1M630.8 101.0l.1 .1M596.0 108.4l.1 .1M555.3 128.3l.1 .1M651.6 132.1l.1 .1M655.4 131.8l.1 .1M657.8 108.2l.1 .1M596.1 133.3l.1 .1M582.3 108.2l.1 .1M546.2 132.3l.1 .1M611.9 125.0l.1 .1M575.8 132.7l.1 .1M565.1 120.5l.1 .1M651.8 111.6l.1 .1M559.8 128.8l.1 .1M580.3 123.4l.1 .1M631.6 133.5l.1 .1M577.3 123.9l.1 .1M633.4 132.3l.1 .1M587.3 101.7l.1 .1M571.0 122.8l.1 .1M615.6 127.4l.1 .1M618.7 131.4l.1 .1M549.0 124.6l.1 .1M595.0 133.5l.1 .1M611.4 133.3l.1 .1M621.2 122.4l.1 .1M619.1 104.2l.1 .1M558.0 112.5l.1 .1M658.9 105.2l.1 .1M646.3 122.5l.1 .1M597.5 124.3l.1 .1M603.2 133.2l.1 .1M642.1 116.2l.1 .1M607.9 103.6l.1 .1M589.8 99.3l.1 .1M596.5 133.7l.1 .1M639.5 124.7l.1 .1M546.8 132.5l.1 .1M567.4 115.6l.1 .1M613.8 106.8l.1 .1M608.2 133.4l.1 .1M571.4 112.5l.1 .1M550.7 98.3l.1 .1M617.4 133.3l.1 .1M618.3 118.2l.1 .1M568.6 101.1l.1 .1M610.3 133.7l.1 .1M592.8 130.5l.1 .1M653.1 129.4l.1 .1M629.5 131.7l.1 .1M578.9 123.6l.1 .1M575.3 102.1l.1 .1M567.5 131.5l.1 .1M629.6 116.9l.1 .1M558.2 130.2l.1 .1M585.5 122.3l.1 .1M624.9 124.3l.1 .1M549.3 133.7l.1 .1M651.3 109.3l.1 .1M571.3 133.6l.1 .1M646.9 128.6l.1 .1M662.2 131.3l.1 .1M655.9 133.6l.1 .1M618.3 133.6l.1 .1M633.1 96.9l.1 .1M587.2 101.9l.1 .1M655.7 98.4l.1 .1M639.3 131.9l.1 .1M570.2 101.6l.1 .1M639.2 129.5l.1 .1M657.4 123.3l.1 .1M599.2 128.4l.1 .1M577.7 133.1l.1 .1M576.1 105.1l.1 .1M643.2 103.4l.1 .1M581.1 123.4l.1 .1M558.3 133.7l.1 .1M662.5 108.6l.1 .1M578.4 97.7l.1 .1M598.2 100.0l.1 .1M656.3 130.1l.1 .1M627.8 109.2l.1 .1M556.9 131.7l.1 .1M576.3 133.0l.1 .1M614.4 132.9l.1 .1M570.4 131.2l.1 .1M589.3 104.9l.1 .1M544.8 133.7l.1 .1M547.3 124.2l.1 .1M546.8 124.0l.1 .1M620.4 127.3l.1 .1M570.5 124.7l.1 .1M664.2 107.8l.1 .1M659.2 109.6l.1 .1M589.3 96.9l.1 .1M595.0 124.6l.1 .1M564.5 111.5l.1 .1M599.6 132.6l.1 .1M666.5 124.5l.1 .1M544.1 130.8l.1 .1M652.4 129.6l.1 .1M608.0 133.5l.1 .1M647.7 122.1l.1 .1M619.0 131.0l.1 .1M664.2 98.6l.1 .1M585.6 123.7l.1 .1M634.2 119.7l.1 .1M627.4 118.0l.1 .1M632.4 129.7l.1 .1M572.5 130.5l.1 .1M612.3 133.5l.1 .1M578.6 133.1l.1 .1M589.8 131.5l.1 .1M664.5 128.9l.1 .1M611.7 125.2l.1 .1M611.6 129.3l.1 .1M608.5 109.6l.1 .1M587.2 125.8l.1 .1M570.1 133.0l.1 .1M578.9 133.6l.1 .1M595.2 133.7l.1 .1M557.9 123.3l.1 .1M599.7 113.5l.1 .1M597.0 121.0l.1 .1M627.9 111.0l.1 .1M611.7 133.4l.1 .1M636.2 132.1l.1 .1M571.4 130.0l.1 .1M665.9 133.7l.1 .1M574.8 133.5l.1 .1M550.0 100.5l.1 .1M597.3 129.0l.1 .1M640.7 118.0l.1 .1M583.2 96.6l.1 .1M570.4 133.6l.1 .1M577.0 133.7l.1 .1M654.5 121.2l.1 .1M576.9 133.5l.1 .1M616.5 103.9l.1 .1M552.6 129.3l.1 .1M570.6 133.7l.1 .1M550.8 121.3l.1 .1M645.1 126.1l.1 .1M579.3 133.7l.1 .1M619.3 129.0l.1 .1M627.8 114.8l.1 .1M585.6 128.4l.1 .1M600.7 120.9l.1 .1M609.3 100.6l.1 .1M626.2 122.8l.1 .1M604.7 126.8l.1 .1M618.0 118.9l.1 .1M581.5 94.4l.1 .1M664.5 126.4l.1 .1M612.4 109.6l.1 .1M565.8 131.4l.1 .1M596.5 128.9l.1 .1M575.4 128.4l.1 .1M614.8 126.9l.1 .1M625.4 133.5l.1 .1M567.9 116.3l.1 .1M548.4 132.3l.1 .1M627.4 127.2l.1 .1M616.7 129.0l.1 .1M549.1 121.9l.1 .1M606.5 133.7l.1 .1M631.2 101.0l.1 .1M575.8 128.0l.1 .1M623.8 133.4l.1 .1M592.4 113.0l.1 .1M578.0 133.6l.1 .1M639.2 116.5l.1 .1M653.7 129.3l.1 .1M546.6 129.6l.1 .1M654.0 132.8l.1 .1M554.4 116.6l.1 .1M592.6 131.7l.1 .1M546.8 126.9l.1 .1M609.5 101.2l.1 .1M547.6 132.1l.1 .1M659.3 123.4l.1 .1M650.1 115.8l.1 .1M626.1 105.2l.1 .1M582.2 133.6l.1 .1M595.2 122.9l.1 .1M552.0 132.7l.1 .1M626.4 105.8l.1 .1M601.9 131.5l.1 .1M561.5 105.3l.1 .1M572.5 120.7l.1 .1M642.9 102.7l.1 .1M591.1 99.0l.1 .1M583.5 125.9l.1 .1M661.9 130.5l.1 .1M666.9 97.0l.1 .1M604.3 102.4l.1 .1M656.2 119.1l.1 .1M657.6 128.5l.1 .1M578.9 110.8l.1 .1M629.3 130.3l.1 .1M575.4 133.2l.1 .1M556.9 132.9l.1 .1M667.3 102.4l.1 .1M606.1 109.2l.1 .1M628.8 114.2l.1 .1M608.2 128.2l.1 .1M573.7 133.4l.1 .1M587.9 130.6l.1 .1M573.6 119.2l.1 .1M652.1 132.4l.1 .1M659.2 111.8l.1 .1M567.8 112.0l.1 .1M647.1 126.6l.1 .1M571.9 110.2l.1 .1M616.7 126.8l.1 .1M573.9 133.7l.1 .1M626.3 114.4l.1 .1M614.5 128.0l.1 .1M586.5 125.2l.1 .1M635.7 133.6l.1 .1M597.6 112.5l.1 .1M646.3 112.7l.1 .1M643.9 117.4l.1 .1M548.6 97.3l.1 .1M599.7 99.5l.1 .1M635.0 112.1l.1 .1M616.4 133.5l.1 .1M634.4 133.6l.1 .1M590.3 130.8l.1 .1M644.0 131.9l.1 .1M580.7 120.1l.1 .1M566.6 114.5l.1 .1M618.6 110.5l.1 .1M620.1 112.9l.1 .1M629.8 95.6l.1 .1M616.9 127.4l.1 .1M579.0 123.6l.1 .1M642.7 131.4l.1 .1M663.3 109.3l.1 .1M606.2 117.7l.1 .1M631.1 129.4l.1 .1M660.6 119.7l.1 .1M591.2 114.1l.1 .1M549.2 131.9l.1 .1M596.7 111.9l.1 .1M550.2 129.5l.1 .1M655.0 126.4l.1 .1M635.8 131.9l.1 .1M625.5 113.3l.1 .1M574.6 122.3l.1 .1M616.1 118.4l.1 .1M607.5 97.3l.1 .1M656.0 130.4l.1 .1M586.0 120.9l.1 .1M562.6 119.7l.1 .1M653.3 133.0l.1 .1M643.1 127.5l.1 .1M602.0 132.7l.1 .1M643.1 132.4l.1 .1M592.4 122.2l.1 .1M569.8 129.7l.1 .1M629.3 132.8l.1 .1M556.6 131.3l.1 .1M599.8 129.7l.1 .1M591.4 95.4l.1 .1M664.2 129.2l.1 .1M600.5 115.7l.1 .1M571.6 129.4l.1 .1M602.2 133.3l.1 .1M556.8 120.2l.1 .1M565.1 127.0l.1 .1M586.4 122.0l.1 .1M640.7 118.8l.1 .1M591.1 129.2l.1 .1M569.9 133.6l.1 .1M643.7 121.1l.1 .1M664.7 133.3l.1 .1M589.0 101.9l.1 .1M627.0 124.7l.1 .1M589.1 130.9l.1 .1M603.7 115.7l.1 .1M613.4 128.3l.1 .1M602.0 133.5l.1 .1M564.4 131.6l.1 .1M630.7 125.3l.1 .1M605.5 125.3l.1 .1M595.9 118.6l.1 .1M570.2 96.0l.1 .1M614.1 133.7l.1 .1M591.1 117.2l.1 .1M586.2 129.3l.1 .1M641.8 132.4l.1 .1M578.3 106.0l.1 .1M600.6 123.7l.1 .1M634.6 133.4l.1 .1M666.5 125.0l.1 .1M655.7 102.2l.1 .1M557.3 132.1l.1 .1M557.1 109.9l.1 .1M565.4 117.7l.1 .1M550.3 116.6l.1 .1M651.3 133.6l.1 .1M599.5 125.6l.1 .1M640.9 96.8l.1 .1M631.2 132.6l.1 .1M601.2 129.7l.1 .1M571.8 131.3l.1 .1M577.5 131.4l.1 .1M652.0 133.0l.1 .1M613.2 129.8l.1 .1M627.8 109.8l.1 .1M661.8 133.2l.1 .1M647.7 100.4l.1 .1M646.6 130.9l.1 .1M547.5 120.1l.1 .1M630.2 129.9l.1 .1M661.2 124.5l.1 .1M647.4 111.2l.1 .1M586.2 96.1l.1 .1M544.0 102.4l.1 .1M554.5 110.7l.1 .1M598.3 126.2l.1 .1M622.6 133.6l.1 .1M571.4 111.5l.1 .1M639.2 132.3l.1 .1M545.9 125.2l.1 .1M660.7 131.4l.1 .1M579.5 131.9l.1 .1M653.6 127.9l.1 .1M591.4 109.9l.1 .1M547.1 118.8l.1 .1M589.8 133.6l.1 .1M561.1 120.5l.1 .1M649.5 133.7l.1 .1M550.4 133.0l.1 .1M553.5 133.6l.1 .1M615.4 131.7l.1 .1M579.1 119.3l.1 .1M584.9 125.7l.1 .1M557.2 123.0l.1 .1M543.7 121.0l.1 .1M569.6 101.2l.1 .1M567.0 124.1l.1 .1M576.5 128.1l.1 .1M640.3 120.1l.1 .1M664.4 107.4l.1 .1M611.8 127.7l.1 .1M579.4 130.5l.1 .1M664.3 125.9l.1 .1M636.3 133.7l.1 .1M617.8 131.1l.1 .1M632.8 132.1l.1 .1M582.1 126.4l.1 .1M544.2 127.9l.1 .1M656.2 133.5l.1 .1M592.9 133.6l.1 .1M548.1 118.6l.1 .1M569.3 100.5l.1 .1M597.4 97.7l.1 .1M618.5 122.7l.1 .1M606.4 133.6l.1 .1M641.6 113.9l.1 .1M628.0 114.9l.1 .1M594.4 133.4l.1 .1M548.7 125.9l.1 .1M556.3 112.9l.1 .1M576.8 123.7l.1 .1M661.8 133.2l.1 .1M634.5 121.2l.1 .1M613.6 121.8l.1 .1M551.5 105.2l.1 .1M570.8 129.9l.1 .1M592.6 122.3l.1 .1M572.6 101.3l.1 .1M657.4 132.0l.1 .1M596.9 115.7l.1 .1M634.7 130.0l.1 .1M633.2 133.3l.1 .1M643.6 132.6l.1 .1M657.0 133.6l.1 .1M546.7 106.1l.1 .1M657.0 133.2l.1 .1M579.8 109.3l.1 .1M615.6 110.5l.1 .1M628.9 132.3l.1 .1M561.3 128.9l.1 .1M632.6 106.9l.1 .1M596.6 132.4l.1 .1M589.7 117.9l.1 .1M608.9 132.2l.1 .1M555.4 98.8l.1 .1M603.6 132.2l.1 .1M666.7 95.7l.1 .1M623.2 133.7l.1 .1M569.3 133.3l.1 .1M605.6 133.4l.1 .1M663.4 94.8l.1 .1M655.0 130.1l.1 .1M552.9 117.6l.1 .1M577.6 103.0l.1 .1M560.0 96.2l.1 .1M607.2 103.1l.1 .1M566.3 125.7l.1 .1M637.8 126.6l.1 .1M665.2 124.0l.1 .1M655.8 124.9l.1 .1M635.0 133.4l.1 .1M653.1 122.1l.1 .1M601.1 130.8l.1 .1M575.4 109.7l.1 .1M648.6 130.0l.1 .1M604.3 119.7l.1 .1M638.4 133.7l.1 .1M573.1 128.9l.1 .1M560.7 129.7l.1 .1M642.5 107.7l.1 .1M627.2 97.4l.1 .1M596.1 133.2l.1 .1M543.8 94.7l.1 .1M562.1 130.7l.1 .1M577.8 133.1l.1 .1M552.0 121.2l.1 .1M597.0 105.7l.1 .1M556.2 133.1l.1 .1M587.0 125.3l.1 .1M557.0 126.2l.1 .1M606.3 130.4l.1 .1M605.8 133.6l.1 .1M616.8 107.7l.1 .1M621.9 133.4l.1 .1M561.3 133.6l.1 .1M609.4 133.7l.1 .1M578.2 133.1l.1 .1M654.6 133.4l.1 .1M627.3 133.3l.1 .1M599.4 110.2l.1 .1M585.0 122.9l.1 .1M628.7 109.3l.1 .1M630.9 133.6l.1 .1M603.3 133.3l.1 .1M603.7 133.0l.1 .1M634.6 119.4l.1 .1M550.4 131.0l.1 .1M657.0 127.9l.1 .1M620.5 124.2l.1 .1M622.8 112.9l.1 .1M662.0 98.9l.1 .1M643.7 114.6l.1 .1M576.5 133.3l.1 .1M615.6 116.3l.1 .1M639.6 106.1l.1 .1M564.9 130.9l.1 .1M557.4 119.3l.1 .1M577.8 126.4l.1 .1M624.8 129.3l.1 .1M620.2 120.5l.1 .1M654.5 133.6l.1 .1M656.1 116.7l.1 .1M623.8 121.5l.1 .1M636.2 104.0l.1 .1M548.6 120.4l.1 .1M632.5 133.7l.1 .1M591.6 107.2l.1 .1M598.4 132.8l.1 .1M637.3 107.6l.1 .1M568.7 133.4l.1 .1M636.1 132.8l.1 .1M653.8 132.3l.1 .1M567.6 129.0l.1 .1M561.0 128.9l.1 .1M546.5 104.7l.1 .1M590.6 128.9l.1 .1M571.2 133.7l.1 .1M650.2 95.3l.1 .1M651.9 128.8l.1 .1M650.0 102.4l.1 .1M614.0 115.4l.1 .1M632.5 125.8l.1 .1M664.3 122.0l.1 .1M655.1 133.0l.1 .1M598.5 113.6l.1 .1M579.1 107.1l.1 .1M615.2 129.5l.1 .1M573.7 97.0l.1 .1M625.2 107.2l.1 .1M580.8 101.4l.1 .1M653.8 118.9l.1 .1M630.2 104.3l.1 .1M622.3 107.7l.1 .1M567.5 124.2l.1 .1M664.8 125.5l.1 .1M548.9 99.2l.1 .1M573.3 131.4l.1 .1M566.2 107.6l.1 .1M568.0 112.9l.1 .1M664.2 130.7l.1 .1M615.8 133.4l.1 .1M637.4 131.9l.1 .1M627.6 133.6l.1 .1M662.4 132.2l.1 .1M626.6 131.0l.1 .1M660.1 133.7l.1 .1M657.0 120.5l.1 .1M551.1 114.3l.1 .1M590.9 114.3l.1 .1M654.1 132.9l.1 .1M586.9 118.9l.1 .1M624.1 133.6l.1 .1M573.3 133.6l.1 .1M565.0 133.7l.1 .1M576.8 114.1l.1 .1M578.3 95.5l.1 .1M634.9 110.7l.1 .1M618.7 120.0l.1 .1M646.4 133.3l.1 .1M609.5 101.2l.1 .1M554.3 133.0l.1 .1M664.2 132.2l.1 .1M578.4 131.2l.1 .1M547.9 125.3l.1 .1M640.3 111.3l.1 .1M547.3 131.4l.1 .1M644.0 103.1l.1 .1M569.8 113.0l.1 .1M623.1 98.4l.1 .1M665.3 133.7l.1 .1M566.5 117.0l.1 .1M617.7 103.8l.1 .1M547.1 120.3l.1 .1M641.9 132.7l.1 .1M567.7 133.7l.1 .1M615.9 133.6l.1 .1M640.9 133.4l.1 .1M640.7 127.8l.1 .1M664.1 102.0l.1 .1M588.8 132.9l.1 .1M584.9 111.0l.1 .1M585.3 99.9l.1 .1M575.4 120.8l.1 .1M578.8 115.6l.1 .1M633.3 128.7l.1 .1M561.0 108.6l.1 .1M569.9 133.1l.1 .1M627.2 112.8l.1 .1M643.8 115.9l.1 .1M605.2 132.5l.1 .1M587.3 133.7l.1 .1M575.9 122.1l.1 .1M570.0 110.9l.1 .1M628.5 128.1l.1 .1M625.9 132.6l.1 .1M549.7 129.3l.1 .1M624.5 133.5l.1 .1M627.9 109.0l.1 .1M626.2 106.0l.1 .1M647.6 112.1l.1 .1M609.6 122.3l.1 .1M572.9 133.2l.1 .1M557.4 133.6l.1 .1M579.9 129.5l.1 .1M646.4 123.8l.1 .1M654.6 132.0l.1 .1M567.5 108.2l.1 .1M568.1 122.6l.1 .1M571.0 133.6l.1 .1M544.6 132.8l.1 .1M643.7 133.7l.1 .1M650.7 105.8l.1 .1M546.6 133.6l.1 .1M590.1 106.4l.1 .1M630.5 130.6l.1 .1M584.5 125.1l.1 .1M557.9 133.3l.1 .1M655.9 116.2l.1 .1M571.3 133.7l.1 .1M576.7 125.3l.1 .1M605.9 126.6l.1 .1M558.2 132.1l.1 .1M644.2 128.8l.1 .1M610.4 133.3l.1 .1M614.4 109.9l.1 .1M658.8 130.6l.1 .1M667.3 111.9l.1 .1M603.6 131.5l.1 .1M647.9 127.9l.1 .1M611.9 121.2l.1 .1M654.1 125.7l.1 .1M559.9 130.4l.1 .1M573.9 133.1l.1 .1M664.7 133.5l.1 .1M642.6 124.1l.1 .1M608.3 127.8l.1 .1M654.1 132.6l.1 .1M594.0 128.8l.1 .1M651.3 114.4l.1 .1M603.3 94.5l.1 .1M646.1 128.7l.1 .1M568.8 128.6l.1 .1M581.6 127.0l.1 .1M639.5 132.2l.1 .1M621.2 130.5l.1 .1M557.8 131.4l.1 .1M639.7 111.9l.1 .1M619.3 116.6l.1 .1M605.8 133.1l.1 .1M640.9 108.2l.1 .1M621.9 122.5l.1 .1M550.5 133.1l.1 .1M545.9 107.3l.1 .1M593.2 132.2l.1 .1M630.1 116.9l.1 .1M659.0 105.7l.1 .1M574.5 132.0l.1 .1M584.6 133.4l.1 .1M662.8 133.5l.1 .1M604.5 123.2l.1 .1M656.7 133.6l.1 .1M639.1 132.3l.1 .1M577.2 132.8l.1 .1M610.0 133.4l.1 .1M614.5 131.8l.1 .1M571.7 116.1l.1 .1M607.6 133.4l.1 .1M599.1 129.3l.1 .1M564.1 130.1l.1 .1M633.8 133.4l.1 .1M628.9 120.5l.1 .1M607.3 120.2l.1 .1M657.0 132.9l.1 .1M600.5 125.0l.1 .1M590.4 132.1l.1 .1M594.0 96.0l.1 .1M559.1 110.3l.1 .1M577.4 122.2l.1 .1M581.3 132.5l.1 .1M623.5 129.4l.1 .1M650.4 129.1l.1 .1M649.7 133.2l.1 .1M641.9 128.3l.1 .1M575.6 129.5l.1 .1M622.6 103.5l.1 .1M608.4 115.6l.1 .1M662.3 116.3l.1 .1M663.8 114.5l.1 .1M580.6 130.5l.1 .1M647.1 104.4l.1 .1M597.7 104.0l.1 .1M661.1 128.9l.1 .1M564.3 132.8l.1 .1M581.2 133.1l.1 .1M591.1 128.8l.1 .1M548.0 127.6l.1 .1M606.7 130.7l.1 .1M603.4 133.7l.1 .1M624.7 102.6l.1 .1M650.3 99.2l.1 .1M546.3 126.4l.1 .1M615.1 133.6l.1 .1M584.8 107.5l.1 .1M637.8 133.4l.1 .1M601.7 124.7l.1 .1M612.3 133.4l.1 .1M631.8 123.3l.1 .1M553.1 102.9l.1 .1M583.5 108.4l.1 .1M586.3 128.9l.1 .1M598.3 110.1l.1 .1M602.4 133.6l.1 .1M545.6 133.3l.1 .1M590.8 133.7l.1 .1M543.7 127.9l.1 .1M655.5 133.4l.1 .1M665.2 124.5l.1 .1M662.0 124.6l.1 .1M591.7 117.4l.1 .1M562.0 133.7l.1 .1M625.8 111.1l.1 .1M563.9 131.5l.1 .1M658.9 120.2l.1 .1M667.3 132.3l.1 .1M569.5 124.9l.1 .1M631.9 133.0l.1 .1M568.9 100.7l.1 .1M561.4 132.4l.1 .1M571.6 132.8l.1 .1M573.1 128.8l.1 .1M573.4 119.0l.1 .1M595.6 132.0l.1 .1M550.0 133.1l.1 .1M544.3 133.6l.1 .1M549.7 118.4l.1 .1M653.9 126.9l.1 .1M581.6 121.4l.1 .1M596.6 129.3l.1 .1M550.3 131.1l.1 .1M561.4 133.2l.1 .1M584.7 132.8l.1 .1M620.0 133.5l.1 .1M606.9 132.9l.1 .1M605.3 117.3l.1 .1M640.4 114.5l.1 .1M570.0 128.0l.1 .1M629.6 133.7l.1 .1M579.7 130.1l.1 .1M566.0 133.6l.1 .1M602.2 103.7l.1 .1M648.4 107.2l.1 .1M571.7 132.3l.1 .1M573.0 104.1l.1 .1M659.8 122.2l.1 .1M596.3 127.4l.1 .1M650.7 98.1l.1 .1M631.3 100.8l.1 .1M549.6 132.6l.1 .1M658.1 133.7l.1 .1M653.2 124.6l.1 .1M573.1 98.1l.1 .1M577.6 97.0l.1 .1M577.4 133.1l.1 .1M660.2 94.7l.1 .1M603.4 130.5l.1 .1M643.3 108.9l.1 .1M588.6 103.3l.1 .1M607.2 132.5l.1 .1M619.7 100.2l.1 .1M568.0 105.3l.1 .1M657.4 126.0l.1 .1M642.1 123.4l.1 .1M598.5 110.1l.1 .1M629.4 117.5l.1 .1M608.2 128.2l.1 .1M653.0 109.9l.1 .1M589.2 95.5l.1 .1M611.9 118.3l.1 .1M573.5 106.8l.1 .1M575.4 127.3l.1 .1M631.7 110.4l.1 .1M557.1 133.7l.1 .1M617.0 133.3l.1 .1M586.3 112.3l.1 .1M616.2 133.6l.1 .1M597.0 121.4l.1 .1M586.7 132.0l.1 .1M644.4 132.5l.1 .1M632.1 129.8l.1 .1M572.1 124.3l.1 .1M626.8 131.8l.1 .1M657.4 106.0l.1 .1M575.8 133.2l.1 .1M567.1 133.5l.1 .1M632.7 129.7l.1 .1M616.9 101.7l.1 .1M590.3 133.3l.1 .1M578.3 133.3l.1 .1M605.9 123.3l.1 .1M577.9 133.1l.1 .1M621.8 103.4l.1 .1M583.6 122.0l.1 .1M638.1 131.5l.1 .1M624.7 133.7l.1 .1M622.4 98.3l.1 .1M547.8 133.7l.1 .1M566.6 111.6l.1 .1M624.4 128.7l.1 .1M579.3 118.3l.1 .1M657.0 117.9l.1 .1M592.8 127.3l.1 .1M651.9 117.7l.1 .1M658.6 117.7l.1 .1M662.3 111.9l.1 .1M627.1 132.3l.1 .1M558.2 132.8l.1 .1M660.9 130.7l.1 .1M581.9 131.6l.1 .1M665.4 100.8l.1 .1M587.4 113.4l.1 .1M551.8 109.0l.1 .1M551.5 133.7l.1 .1M573.6 130.8l.1 .1M599.0 106.3l.1 .1M604.1 106.9l.1 .1M585.7 130.0l.1 .1M600.0 133.7l.1 .1M664.1 98.7l.1 .1M555.8 100.4l.1 .1M647.1 128.1l.1 .1M551.7 133.2l.1 .1M554.1 132.8l.1 .1M632.0 114.5l.1 .1M549.9 95.3l.1 .1M642.0 116.8l.1 .1M553.5 133.1l.1 .1M641.7 96.1l.1 .1M566.9 133.6l.1 .1M564.8 119.2l.1 .1M562.2 128.3l.1 .1M603.7 133.6l.1 .1M648.7 124.6l.1 .1M587.6 133.7l.1 .1M612.2 133.6l.1 .1M584.7 133.2l.1 .1M624.2 97.1l.1 .1M618.8 118.7l.1 .1M628.6 132.8l.1 .1M554.7 97.0l.1 .1M586.3 107.8l.1 .1M624.9 132.8l.1 .1M564.4 106.9l.1 .1M605.8 132.9l.1 .1M606.5 132.8l.1 .1M546.8 95.2l.1 .1M568.7 128.6l.1 .1M616.6 133.2l.1 .1M601.9 99.0l.1 .1M630.4 123.9l.1 .1M663.5 106.3l.1 .1M565.6 130.9l.1 .1M618.7 101.7l.1 .1M561.8 104.4l.1 .1M558.3 111.3l.1 .1M558.7 133.4l.1 .1M595.1 130.2l.1 .1M659.9 119.3l.1 .1M615.4 128.5l.1 .1M591.1 129.0l.1 .1M544.3 132.1l.1 .1M633.3 132.2l.1 .1M628.7 110.7l.1 .1M594.6 128.2l.1 .1M573.7 133.0l.1 .1M616.5 94.5l.1 .1M610.0 129.2l.1 .1M580.1 126.5l.1 .1M597.0 128.8l.1 .1M654.1 103.2l.1 .1M600.1 131.7l.1 .1M661.8 132.6l.1 .1M603.4 133.4l.1 .1M600.8 133.7l.1 .1M545.4 127.6l.1 .1M605.6 133.3l.1 .1M581.3 127.1l.1 .1M583.8 133.7l.1 .1M556.5 130.6l.1 .1M570.9 122.1l.1 .1M631.7 125.0l.1 .1M605.4 133.7l.1 .1M654.5 120.3l.1 .1M647.5 117.5l.1 .1M571.5 119.0l.1 .1M637.4 109.7l.1 .1M658.4 126.7l.1 .1M656.2 133.7l.1 .1M610.9 130.4l.1 .1M564.4 110.8l.1 .1M545.5 126.4l.1 .1M662.2 133.7l.1 .1M596.6 132.7l.1 .1M659.2 133.4l.1 .1M649.7 126.0l.1 .1M601.1 132.0l.1 .1M616.8 132.3l.1 .1M614.8 116.5l.1 .1M582.1 122.8l.1 .1M546.1 98.6l.1 .1M626.4 133.2l.1 .1M648.7 96.8l.1 .1M660.6 132.3l.1 .1M614.5 127.7l.1 .1M620.2 119.8l.1 .1M655.1 104.7l.1 .1M654.3 131.2l.1 .1M628.4 131.2l.1 .1M622.7 133.2l.1 .1M667.0 131.5l.1 .1M591.7 118.9l.1 .1M558.0 97.7l.1 .1M624.1 114.1l.1 .1M600.7 133.7l.1 .1M667.6 133.5l.1 .1M622.5 133.5l.1 .1M559.2 124.6l.1 .1M614.8 100.2l.1 .1M576.3 121.3l.1 .1M584.0 133.2l.1 .1M568.6 133.7l.1 .1M592.1 126.4l.1 .1M561.2 113.2l.1 .1M608.5 132.8l.1 .1M582.6 117.7l.1 .1M559.2 132.8l.1 .1M590.7 130.2l.1 .1M573.4 110.8l.1 .1M636.1 130.7l.1 .1M548.4 132.8l.1 .1M657.0 96.8l.1 .1M578.8 131.2l.1 .1M569.7 127.6l.1 .1M653.4 111.5l.1 .1M593.2 116.2l.1 .1M659.8 107.7l.1 .1M626.5 133.0l.1 .1M665.9 133.1l.1 .1M594.5 110.9l.1 .1M580.0 114.5l.1 .1M607.3 133.6l.1 .1M600.3 133.6l.1 .1M615.2 106.8l.1 .1M569.9 132.0l.1 .1M606.8 124.0l.1 .1M564.9 102.8l.1 .1M599.2 127.4l.1 .1M566.7 129.9l.1 .1M611.0 129.7l.1 .1M583.4 132.9l.1 .1M660.2 125.2l.1 .1M586.6 126.8l.1 .1M607.9 133.7l.1 .1M558.0 130.6l.1 .1M620.0 127.1l.1 .1M634.8 130.5l.1 .1M551.4 120.6l.1 .1M608.8 133.7l.1 .1M612.7 121.9l.1 .1M586.4 132.5l.1 .1M592.9 115.9l.1 .1M572.0 125.1l.1 .1M603.1 120.7l.1 .1M637.2 133.7l.1 .1M666.0 110.4l.1 .1M630.7 99.5l.1 .1M576.6 127.4l.1 .1M595.6 116.7l.1 .1M558.1 131.1l.1 .1M631.8 121.9l.1 .1M562.6 112.7l.1 .1M622.7 132.8l.1 .1M653.6 133.4l.1 .1M621.9 100.8l.1 .1M613.4 132.1l.1 .1M586.4 112.9l.1 .1M618.2 119.7l.1 .1M639.9 102.3l.1 .1M611.2 118.6l.1 .1M618.4 103.9l.1 .1M582.2 117.5l.1 .1M612.8 133.5l.1 .1M663.9 132.6l.1 .1M654.7 132.6l.1 .1M567.4 130.9l.1 .1M583.6 123.1l.1 .1M620.2 94.8l.1 .1M582.1 133.5l.1 .1M604.9 133.5l.1 .1M582.8 125.2l.1 .1M598.8 118.5l.1 .1M627.9 109.2l.1 .1M646.6 132.2l.1 .1M572.8 133.7l.1 .1M661.6 133.7l.1 .1M648.0 124.9l.1 .1M555.0 95.2l.1 .1M546.2 103.1l.1 .1M642.0 116.9l.1 .1M654.0 129.7l.1 .1M605.4 112.8l.1 .1M563.4 131.8l.1 .1M610.8 133.6l.1 .1M566.9 125.3l.1 .1M553.5 125.1l.1 .1M626.6 131.5l.1 .1M608.5 133.3l.1 .1M653.0 133.4l.1 .1M659.1 132.7l.1 .1M663.3 101.5l.1 .1M628.2 131.8l.1 .1M664.2 133.6l.1 .1M548.2 117.4l.1 .1M556.7 133.3l.1 .1M659.9 130.6l.1 .1M584.1 111.3l.1 .1M545.0 109.9l.1 .1M591.9 124.5l.1 .1M657.7 133.6l.1 .1M667.1 119.3l.1 .1M620.7 120.2l.1 .1M602.7 133.4l.1 .1M612.9 103.3l.1 .1M600.7 120.3l.1 .1M545.1 94.5l.1 .1M566.7 95.6l.1 .1M550.4 96.4l.1 .1M667.1 89.5l.1 .1M646.7 90.6l.1 .1M649.0 95.6l.1 .1M649.6 94.3l.1 .1M580.7 95.4l.1 .1M571.4 92.9l.1 .1M633.8 95.3l.1 .1M665.5 88.7l.1 .1M587.1 91.3l.1 .1M616.3 93.5l.1 .1M657.4 92.1l.1 .1M662.9 92.5l.1 .1M599.0 93.5l.1 .1M583.8 96.7l.1 .1M545.1 93.4l.1 .1M558.0 93.8l.1 .1M653.3 95.2l.1 .1M557.8 83.9l.1 .1M604.0 92.2l.1 .1M580.5 96.6l.1 .1M596.4 92.9l.1 .1M551.8 92.4l.1 .1M619.5 91.9l.1 .1M614.0 95.8l.1 .1M654.1 82.6l.1 .1M608.2 91.8l.1 .1M599.9 89.6l.1 .1M589.9 90.4l.1 .1M634.6 92.6l.1 .1M618.4 92.2l.1 .1M587.1 94.3l.1 .1M598.9 91.3l.1 .1M590.6 93.8l.1 .1M621.3 95.1l.1 .1M567.8 85.8l.1 .1M609.5 91.4l.1 .1M625.9 91.5l.1 .1M544.9 94.2l.1 .1M608.3 94.5l.1 .1M658.6 91.6l.1 .1M624.6 91.2l.1 .1M642.2 94.6l.1 .1M653.4 96.1l.1 .1M599.9 93.3l.1 .1M611.0 90.7l.1 .1M551.5 96.2l.1 .1M571.7 92.1l.1 .1M667.4 95.5l.1 .1M580.0 92.9l.1 .1M571.6 94.5l.1 .1M560.4 95.3l.1 .1M588.2 89.9l.1 .1M664.6 96.3l.1 .1M555.4 85.3l.1 .1M612.0 86.2l.1 .1M597.7 93.8l.1 .1M615.1 96.8l.1 .1M652.9 95.4l.1 .1M653.1 95.5l.1 .1M643.7 94.7l.1 .1M659.4 90.3l.1 .1M588.3 92.4l.1 .1M572.8 95.3l.1 .1M580.7 96.3l.1 .1M475.2 28.2l.1 .1M477.6 97.0l.1 .1M408.8 99.4l.1 .1M565.7 22.4l.1 .1M581.8 74.9l.1 .1M624.8 71.9l.1 .1M643.5 76.7l.1 .1" stroke="#E8251C" stroke-width="2.0" stroke-linecap="square" fill="none"/><path d="M187.3 145.9l.1 .1M130.5 182.8l.1 .1M98.4 145.2l.1 .1M117.0 144.9l.1 .1M104.2 144.9l.1 .1M145.4 146.3l.1 .1M167.8 159.1l.1 .1M126.0 147.9l.1 .1M121.4 149.3l.1 .1M82.2 147.0l.1 .1M194.9 146.4l.1 .1M137.1 145.1l.1 .1M181.9 151.0l.1 .1M108.2 145.9l.1 .1M124.2 146.2l.1 .1M193.2 148.2l.1 .1M183.1 157.1l.1 .1M78.5 144.4l.1 .1M186.0 152.7l.1 .1M147.6 148.6l.1 .1M123.2 144.2l.1 .1M177.2 162.1l.1 .1M195.5 157.4l.1 .1M88.0 146.2l.1 .1M139.5 145.4l.1 .1M191.7 152.0l.1 .1M155.0 153.0l.1 .1M131.4 154.1l.1 .1M79.4 149.7l.1 .1M103.4 154.6l.1 .1M154.8 161.5l.1 .1M90.4 146.7l.1 .1M153.7 146.2l.1 .1M88.4 152.4l.1 .1M139.7 144.7l.1 .1M122.8 150.2l.1 .1M149.3 145.9l.1 .1M112.0 144.3l.1 .1M193.8 148.4l.1 .1M184.5 151.3l.1 .1M103.7 148.6l.1 .1M194.0 146.2l.1 .1M112.7 152.5l.1 .1M136.5 144.4l.1 .1M126.7 151.9l.1 .1M157.5 146.2l.1 .1M102.7 161.9l.1 .1M116.5 144.4l.1 .1M159.4 147.9l.1 .1M173.7 145.7l.1 .1M137.3 153.4l.1 .1M195.2 145.8l.1 .1M176.5 146.8l.1 .1M102.0 146.0l.1 .1M111.2 154.0l.1 .1M136.2 165.0l.1 .1M102.3 145.6l.1 .1M157.3 147.9l.1 .1M92.7 164.5l.1 .1M101.0 147.6l.1 .1M92.1 169.2l.1 .1M81.9 144.6l.1 .1M186.3 147.6l.1 .1M165.7 158.9l.1 .1M115.4 162.6l.1 .1M191.0 145.6l.1 .1M78.4 153.6l.1 .1M121.6 151.7l.1 .1M115.7 147.4l.1 .1M74.8 145.5l.1 .1M118.2 146.5l.1 .1M89.9 165.5l.1 .1M100.3 167.0l.1 .1M176.7 147.2l.1 .1M128.3 156.0l.1 .1M133.4 144.6l.1 .1M188.9 147.4l.1 .1M119.8 145.7l.1 .1M78.2 159.8l.1 .1M175.5 147.8l.1 .1M79.5 154.2l.1 .1M82.2 144.5l.1 .1M106.4 161.5l.1 .1M186.3 153.6l.1 .1M108.4 147.0l.1 .1M151.3 165.8l.1 .1M163.7 146.3l.1 .1M108.8 146.8l.1 .1M168.5 144.2l.1 .1M153.4 161.2l.1 .1M77.5 163.8l.1 .1M133.6 146.0l.1 .1M193.2 165.7l.1 .1M105.7 147.6l.1 .1M135.9 148.1l.1 .1M97.2 162.2l.1 .1M166.4 155.3l.1 .1M170.7 156.0l.1 .1M115.3 150.6l.1 .1M119.5 146.8l.1 .1M84.3 154.6l.1 .1M168.2 145.7l.1 .1M82.5 146.2l.1 .1M143.2 144.4l.1 .1M196.5 146.9l.1 .1M197.4 158.9l.1 .1M84.9 146.3l.1 .1M136.5 144.9l.1 .1M130.1 152.7l.1 .1M126.3 146.0l.1 .1M158.4 150.8l.1 .1M179.9 153.6l.1 .1M89.5 151.7l.1 .1M111.0 156.8l.1 .1M120.9 149.9l.1 .1M99.2 153.4l.1 .1M105.0 146.2l.1 .1M184.5 145.3l.1 .1M115.1 150.1l.1 .1M198.0 147.7l.1 .1M103.3 149.1l.1 .1M155.8 155.5l.1 .1M87.2 176.4l.1 .1M176.4 148.6l.1 .1M188.3 156.8l.1 .1M111.0 144.5l.1 .1M98.1 145.1l.1 .1M147.1 168.9l.1 .1M120.8 162.4l.1 .1M130.4 158.0l.1 .1M171.3 146.3l.1 .1M87.6 164.1l.1 .1M151.6 150.4l.1 .1M120.4 145.9l.1 .1M99.8 145.3l.1 .1M149.1 146.2l.1 .1M99.8 151.4l.1 .1M115.2 144.3l.1 .1M97.5 152.0l.1 .1M99.8 146.8l.1 .1M142.7 155.1l.1 .1M87.1 144.7l.1 .1M142.9 147.6l.1 .1M85.8 151.2l.1 .1M161.0 145.4l.1 .1M109.7 147.8l.1 .1M193.1 146.7l.1 .1M145.0 146.8l.1 .1M126.3 147.2l.1 .1M198.5 157.9l.1 .1M99.0 147.3l.1 .1M99.8 153.1l.1 .1M186.7 144.3l.1 .1M176.6 148.0l.1 .1M184.4 147.8l.1 .1M94.7 148.4l.1 .1M143.1 144.3l.1 .1M187.7 151.2l.1 .1M151.9 144.8l.1 .1M137.3 147.4l.1 .1M109.7 145.3l.1 .1M189.7 149.2l.1 .1M135.5 145.0l.1 .1M194.8 155.4l.1 .1M90.2 145.7l.1 .1M195.9 163.8l.1 .1M81.1 148.7l.1 .1M122.7 162.0l.1 .1M151.7 160.2l.1 .1M94.4 156.1l.1 .1M102.1 154.7l.1 .1M179.8 147.8l.1 .1M97.2 156.3l.1 .1M124.2 145.9l.1 .1M122.2 149.2l.1 .1M105.2 145.1l.1 .1M186.2 153.0l.1 .1M144.5 144.5l.1 .1M79.2 153.9l.1 .1M89.1 156.7l.1 .1M142.9 150.5l.1 .1M112.6 151.0l.1 .1M147.0 147.9l.1 .1M156.5 148.0l.1 .1M129.0 148.3l.1 .1M151.5 144.4l.1 .1M103.7 148.8l.1 .1M171.6 154.1l.1 .1M96.8 148.4l.1 .1M87.8 148.6l.1 .1M128.1 145.2l.1 .1M129.5 144.9l.1 .1M79.5 149.1l.1 .1M84.7 151.1l.1 .1M171.3 153.3l.1 .1M81.2 149.1l.1 .1M121.5 149.0l.1 .1M91.4 164.8l.1 .1M198.5 157.5l.1 .1M175.9 153.2l.1 .1M196.7 145.7l.1 .1M193.6 148.8l.1 .1M95.0 161.2l.1 .1M190.3 154.8l.1 .1M118.1 144.7l.1 .1M94.2 153.9l.1 .1M108.7 159.7l.1 .1M92.3 155.8l.1 .1M189.0 149.0l.1 .1M107.2 145.8l.1 .1M114.2 149.0l.1 .1M97.1 144.5l.1 .1M191.0 145.4l.1 .1M185.9 152.0l.1 .1M172.2 145.5l.1 .1M140.5 145.0l.1 .1M119.2 151.1l.1 .1M143.6 158.3l.1 .1M184.3 150.1l.1 .1M198.1 145.0l.1 .1M123.5 151.0l.1 .1M107.4 155.1l.1 .1M146.3 176.0l.1 .1M169.6 147.3l.1 .1M96.5 148.2l.1 .1M80.5 153.5l.1 .1M106.0 155.9l.1 .1M197.0 151.2l.1 .1M157.1 150.2l.1 .1M74.7 146.8l.1 .1M93.0 144.4l.1 .1M128.3 150.8l.1 .1M185.9 149.1l.1 .1M102.7 145.2l.1 .1M77.2 151.4l.1 .1M118.6 144.2l.1 .1M118.9 145.0l.1 .1M147.1 145.9l.1 .1M99.9 150.3l.1 .1M133.6 150.9l.1 .1M191.1 145.2l.1 .1M93.0 146.1l.1 .1M153.9 144.9l.1 .1M171.8 158.2l.1 .1M107.3 147.7l.1 .1M154.7 144.3l.1 .1M118.1 149.9l.1 .1M129.7 151.3l.1 .1M165.8 163.1l.1 .1M186.9 146.2l.1 .1M140.6 144.5l.1 .1M104.0 147.8l.1 .1M171.4 144.6l.1 .1M143.0 144.3l.1 .1M92.2 163.6l.1 .1M150.2 145.7l.1 .1M154.3 149.0l.1 .1M96.2 155.7l.1 .1M111.8 146.7l.1 .1M185.2 144.5l.1 .1M163.5 154.7l.1 .1M179.6 144.3l.1 .1M132.4 153.6l.1 .1M130.8 153.5l.1 .1M87.6 146.0l.1 .1M79.3 146.0l.1 .1M167.8 147.0l.1 .1M179.7 152.3l.1 .1M107.6 152.7l.1 .1M128.7 149.7l.1 .1M139.6 154.8l.1 .1M154.4 146.3l.1 .1M101.5 167.2l.1 .1M76.3 158.7l.1 .1M103.8 146.3l.1 .1M192.1 153.5l.1 .1M115.1 153.6l.1 .1M115.4 158.7l.1 .1M187.4 146.1l.1 .1M160.7 151.0l.1 .1M196.3 151.7l.1 .1M179.0 148.5l.1 .1M181.2 152.4l.1 .1M164.7 148.1l.1 .1M112.8 150.0l.1 .1M152.0 145.8l.1 .1M187.8 144.8l.1 .1M77.8 145.3l.1 .1M190.1 145.0l.1 .1M92.1 147.1l.1 .1M79.6 144.4l.1 .1M153.4 152.3l.1 .1M166.2 152.4l.1 .1M148.0 144.7l.1 .1M176.2 147.3l.1 .1M185.4 155.9l.1 .1M182.5 144.7l.1 .1M192.0 161.0l.1 .1M100.1 145.0l.1 .1M78.7 145.0l.1 .1M175.5 157.1l.1 .1M177.2 151.1l.1 .1M110.2 151.0l.1 .1M86.6 144.9l.1 .1M100.0 153.9l.1 .1M127.2 146.8l.1 .1M106.4 144.4l.1 .1M163.6 146.5l.1 .1M114.4 147.3l.1 .1M137.2 166.9l.1 .1M151.4 157.2l.1 .1M125.9 144.4l.1 .1M170.7 148.1l.1 .1M162.2 147.1l.1 .1M101.4 149.5l.1 .1M85.8 157.8l.1 .1M95.7 155.9l.1 .1M99.6 144.2l.1 .1M196.2 154.0l.1 .1M135.6 144.2l.1 .1M173.6 148.8l.1 .1M136.0 145.6l.1 .1M178.0 147.1l.1 .1M192.0 146.3l.1 .1M101.2 146.5l.1 .1M136.5 152.4l.1 .1M153.7 145.0l.1 .1M172.5 144.8l.1 .1M172.4 152.4l.1 .1M118.7 151.0l.1 .1M123.6 147.7l.1 .1M85.2 159.3l.1 .1M77.6 159.2l.1 .1M107.2 145.8l.1 .1M136.8 160.0l.1 .1M184.5 147.5l.1 .1M131.8 146.0l.1 .1M168.4 149.4l.1 .1M154.9 153.8l.1 .1M115.1 147.1l.1 .1M179.4 145.4l.1 .1M166.8 151.6l.1 .1M129.1 145.5l.1 .1M146.6 154.4l.1 .1M132.0 145.1l.1 .1M104.1 159.0l.1 .1M112.0 145.7l.1 .1M179.5 152.5l.1 .1M93.9 145.4l.1 .1M115.1 146.2l.1 .1M94.5 149.3l.1 .1M98.0 146.9l.1 .1M165.2 169.5l.1 .1M194.3 144.9l.1 .1M122.3 144.9l.1 .1M173.4 172.4l.1 .1M128.6 153.2l.1 .1M153.9 145.7l.1 .1M100.2 145.0l.1 .1M78.7 147.6l.1 .1M172.9 147.7l.1 .1M136.8 152.3l.1 .1M132.1 151.1l.1 .1M149.6 145.3l.1 .1M166.7 147.8l.1 .1M128.0 160.5l.1 .1M167.7 150.0l.1 .1M102.9 147.9l.1 .1M184.0 153.0l.1 .1M161.6 154.4l.1 .1M159.1 157.3l.1 .1M131.0 151.2l.1 .1M152.7 146.8l.1 .1M126.7 144.9l.1 .1M163.2 154.6l.1 .1M105.6 151.0l.1 .1M131.1 148.0l.1 .1M125.4 150.9l.1 .1M190.3 151.9l.1 .1M155.9 145.6l.1 .1M122.8 154.5l.1 .1M195.8 148.8l.1 .1M142.1 144.5l.1 .1M171.8 145.4l.1 .1M139.1 163.5l.1 .1M146.0 144.9l.1 .1M163.8 149.5l.1 .1M154.0 149.1l.1 .1M139.4 156.3l.1 .1M192.5 147.8l.1 .1M159.7 145.8l.1 .1M169.4 147.6l.1 .1M197.0 145.1l.1 .1M81.5 147.2l.1 .1M124.2 146.4l.1 .1M126.6 144.3l.1 .1M161.4 147.9l.1 .1M107.5 147.2l.1 .1M166.8 145.9l.1 .1M140.1 163.4l.1 .1M174.2 145.9l.1 .1M100.8 147.6l.1 .1M171.1 145.2l.1 .1M153.4 155.6l.1 .1M144.4 148.5l.1 .1M194.5 146.0l.1 .1M154.0 147.2l.1 .1M176.1 155.9l.1 .1M111.1 148.5l.1 .1M90.0 149.6l.1 .1M118.6 156.5l.1 .1M107.7 157.2l.1 .1M106.0 147.4l.1 .1M97.6 148.0l.1 .1M164.3 144.2l.1 .1M104.9 146.5l.1 .1M134.2 146.7l.1 .1M153.8 148.0l.1 .1M119.6 151.6l.1 .1M180.8 162.3l.1 .1M177.5 144.6l.1 .1M172.1 160.4l.1 .1M178.0 145.2l.1 .1M76.3 151.1l.1 .1M192.9 144.3l.1 .1M105.6 151.5l.1 .1M92.2 144.9l.1 .1M171.1 146.0l.1 .1M93.5 147.1l.1 .1M173.0 160.2l.1 .1M185.4 145.5l.1 .1M171.7 150.6l.1 .1M185.7 151.8l.1 .1M178.9 154.8l.1 .1M160.7 145.7l.1 .1M166.8 149.4l.1 .1M184.3 148.2l.1 .1M107.4 149.7l.1 .1M91.8 146.0l.1 .1M81.7 148.9l.1 .1M92.4 148.5l.1 .1M136.5 148.8l.1 .1M181.9 149.5l.1 .1M179.1 144.3l.1 .1M144.5 148.5l.1 .1M179.1 151.7l.1 .1M126.6 147.4l.1 .1M83.8 166.3l.1 .1M153.6 151.1l.1 .1M150.4 144.4l.1 .1M190.4 152.1l.1 .1M196.7 147.0l.1 .1M134.8 149.1l.1 .1M78.7 159.8l.1 .1M152.3 152.9l.1 .1M181.7 147.0l.1 .1M133.5 147.3l.1 .1M170.4 149.3l.1 .1M128.6 145.8l.1 .1M143.4 148.0l.1 .1M110.9 156.2l.1 .1M124.7 156.2l.1 .1M108.3 149.0l.1 .1M195.8 149.0l.1 .1M173.0 151.5l.1 .1M113.9 147.0l.1 .1M147.5 146.6l.1 .1M172.1 151.1l.1 .1M164.4 144.5l.1 .1M142.4 159.0l.1 .1M111.9 144.6l.1 .1M98.1 144.3l.1 .1M150.2 161.6l.1 .1M172.7 151.5l.1 .1M150.6 160.7l.1 .1M152.5 150.8l.1 .1M148.7 152.4l.1 .1M100.9 152.0l.1 .1M131.5 151.7l.1 .1M87.1 154.0l.1 .1M79.1 145.6l.1 .1M188.3 154.4l.1 .1M120.4 151.5l.1 .1M172.4 156.0l.1 .1M106.6 149.9l.1 .1M127.0 146.7l.1 .1M128.1 146.8l.1 .1M190.7 151.2l.1 .1M145.1 144.6l.1 .1M89.2 144.5l.1 .1M146.1 155.6l.1 .1M130.0 161.4l.1 .1M122.6 144.3l.1 .1M191.2 150.3l.1 .1M133.6 171.2l.1 .1M87.2 147.8l.1 .1M100.9 151.3l.1 .1M76.4 145.3l.1 .1M159.6 144.2l.1 .1M194.8 145.1l.1 .1M182.7 144.8l.1 .1M76.7 145.2l.1 .1M104.6 152.9l.1 .1M97.8 153.3l.1 .1M170.8 144.6l.1 .1M181.0 152.8l.1 .1M84.9 153.2l.1 .1M162.7 151.0l.1 .1M190.5 148.4l.1 .1M194.5 146.2l.1 .1M75.9 152.8l.1 .1M155.5 144.3l.1 .1M84.4 155.8l.1 .1M165.3 146.8l.1 .1M181.6 145.5l.1 .1M81.9 148.8l.1 .1M146.0 147.3l.1 .1M158.7 148.2l.1 .1M173.7 145.3l.1 .1M154.7 147.3l.1 .1M126.5 151.0l.1 .1M172.3 147.5l.1 .1M172.1 164.0l.1 .1M110.9 149.9l.1 .1M195.7 144.6l.1 .1M177.5 152.5l.1 .1M149.9 147.0l.1 .1M177.9 170.1l.1 .1M112.9 150.5l.1 .1M185.0 148.0l.1 .1M159.7 147.4l.1 .1M186.0 150.5l.1 .1M109.7 155.5l.1 .1M107.2 144.2l.1 .1M147.5 148.0l.1 .1M184.9 155.8l.1 .1M178.2 144.5l.1 .1M182.4 155.6l.1 .1M108.5 150.0l.1 .1M174.9 157.2l.1 .1M188.2 152.1l.1 .1M85.0 147.1l.1 .1M173.7 149.7l.1 .1M167.8 145.7l.1 .1M103.6 162.6l.1 .1M158.8 150.6l.1 .1M100.2 148.5l.1 .1M168.0 146.2l.1 .1M131.7 154.9l.1 .1M174.9 144.8l.1 .1M103.4 154.3l.1 .1M186.1 150.1l.1 .1M139.4 159.0l.1 .1M147.8 148.6l.1 .1M98.4 145.6l.1 .1M161.7 145.6l.1 .1M144.7 147.3l.1 .1M138.8 147.7l.1 .1M80.0 145.3l.1 .1M87.7 147.4l.1 .1M172.5 151.1l.1 .1M148.8 145.4l.1 .1M139.1 147.1l.1 .1M78.6 144.4l.1 .1M182.3 176.0l.1 .1M145.1 148.8l.1 .1M171.5 146.3l.1 .1M192.3 148.0l.1 .1M176.4 154.2l.1 .1M106.1 166.8l.1 .1M99.5 144.5l.1 .1M84.9 145.6l.1 .1M143.8 144.6l.1 .1M131.5 158.2l.1 .1M187.7 164.3l.1 .1M148.9 144.7l.1 .1M89.4 147.7l.1 .1M106.5 166.1l.1 .1M154.2 149.9l.1 .1M157.8 165.6l.1 .1M130.3 147.6l.1 .1M194.7 145.4l.1 .1M102.1 177.0l.1 .1M106.3 144.5l.1 .1M186.8 147.2l.1 .1M178.7 160.3l.1 .1M172.4 144.5l.1 .1M155.0 152.7l.1 .1M81.4 173.1l.1 .1M168.4 145.3l.1 .1M158.7 163.4l.1 .1M148.1 146.6l.1 .1M87.6 153.9l.1 .1M106.4 146.9l.1 .1M134.4 145.1l.1 .1M104.1 145.5l.1 .1M158.8 145.3l.1 .1M163.7 144.3l.1 .1M78.9 145.7l.1 .1M101.9 162.2l.1 .1M182.4 162.8l.1 .1M91.9 159.2l.1 .1M86.5 148.3l.1 .1M179.3 162.3l.1 .1M130.8 151.0l.1 .1M176.9 147.0l.1 .1M152.7 148.6l.1 .1M102.0 145.3l.1 .1M163.3 144.6l.1 .1M92.5 149.7l.1 .1M107.6 158.2l.1 .1M93.8 147.8l.1 .1M179.0 146.4l.1 .1M95.3 147.0l.1 .1M114.0 148.8l.1 .1M88.7 160.2l.1 .1M81.5 170.5l.1 .1M157.7 159.6l.1 .1M133.9 145.8l.1 .1M106.5 146.5l.1 .1M119.8 145.7l.1 .1M198.7 176.4l.1 .1M86.6 161.9l.1 .1M186.0 146.5l.1 .1M164.9 144.6l.1 .1M196.3 146.6l.1 .1M174.9 144.3l.1 .1M91.9 147.1l.1 .1M178.1 144.2l.1 .1M97.6 149.3l.1 .1M188.0 148.1l.1 .1M145.6 145.9l.1 .1M96.9 145.2l.1 .1M163.0 154.3l.1 .1M84.3 145.7l.1 .1M150.2 144.8l.1 .1M108.5 148.9l.1 .1M150.7 145.8l.1 .1M175.5 152.6l.1 .1M99.6 150.2l.1 .1M165.7 144.7l.1 .1M164.3 147.8l.1 .1M175.4 144.6l.1 .1M179.3 147.0l.1 .1M135.8 157.9l.1 .1M187.8 144.3l.1 .1M183.0 148.6l.1 .1M97.6 146.3l.1 .1M120.2 156.4l.1 .1M120.7 145.4l.1 .1M75.0 150.4l.1 .1M129.9 149.2l.1 .1M89.5 149.2l.1 .1M176.1 152.8l.1 .1M114.4 157.9l.1 .1M121.9 152.7l.1 .1M82.1 153.7l.1 .1M193.2 158.3l.1 .1M138.4 148.9l.1 .1M141.3 149.4l.1 .1M194.9 144.4l.1 .1M97.2 145.9l.1 .1M105.6 145.0l.1 .1M78.2 155.8l.1 .1M161.5 144.9l.1 .1M76.7 145.7l.1 .1M146.2 150.5l.1 .1M161.9 149.3l.1 .1M182.7 145.0l.1 .1M80.1 152.8l.1 .1M135.9 145.1l.1 .1M109.3 149.0l.1 .1M125.0 145.1l.1 .1M148.1 145.2l.1 .1M92.8 157.7l.1 .1M167.4 150.0l.1 .1M177.3 145.4l.1 .1M122.8 163.2l.1 .1M179.0 147.9l.1 .1M123.7 149.3l.1 .1M340.9 151.0l.1 .1M341.0 146.1l.1 .1M328.1 147.7l.1 .1M254.1 159.9l.1 .1M354.8 159.9l.1 .1M234.5 147.0l.1 .1M352.3 145.1l.1 .1M344.5 144.3l.1 .1M322.7 145.5l.1 .1M252.4 145.0l.1 .1M242.6 153.3l.1 .1M345.3 147.5l.1 .1M340.8 154.2l.1 .1M260.5 144.5l.1 .1M316.9 156.6l.1 .1M294.0 144.5l.1 .1M284.8 146.3l.1 .1M233.9 145.1l.1 .1M340.4 147.2l.1 .1M291.9 145.2l.1 .1M284.6 145.4l.1 .1M316.4 145.8l.1 .1M323.0 145.5l.1 .1M245.4 149.7l.1 .1M293.0 147.7l.1 .1M274.8 164.0l.1 .1M351.4 146.1l.1 .1M322.1 161.1l.1 .1M253.4 146.7l.1 .1M240.0 146.6l.1 .1M294.5 144.6l.1 .1M300.5 148.3l.1 .1M232.8 147.8l.1 .1M312.4 153.4l.1 .1M299.5 150.4l.1 .1M353.3 153.5l.1 .1M320.5 160.6l.1 .1M270.9 148.2l.1 .1M352.1 148.5l.1 .1M279.2 148.1l.1 .1M249.2 148.4l.1 .1M306.8 144.3l.1 .1M263.0 164.8l.1 .1M278.2 151.7l.1 .1M256.1 146.4l.1 .1M336.0 145.2l.1 .1M344.1 156.3l.1 .1M317.5 144.6l.1 .1M311.6 147.3l.1 .1M270.6 150.5l.1 .1M324.0 144.2l.1 .1M294.7 159.4l.1 .1M354.8 151.3l.1 .1M309.5 146.3l.1 .1M278.4 154.9l.1 .1M388.2 146.9l.1 .1M499.2 146.0l.1 .1M468.7 145.7l.1 .1M468.9 151.7l.1 .1M404.8 145.9l.1 .1M508.8 145.1l.1 .1M467.8 148.3l.1 .1M414.6 151.3l.1 .1M388.8 144.8l.1 .1M403.1 160.3l.1 .1M432.0 172.0l.1 .1M404.1 155.0l.1 .1M418.2 157.3l.1 .1M451.8 148.0l.1 .1M417.7 145.2l.1 .1M422.3 157.6l.1 .1M481.8 148.2l.1 .1M411.0 146.3l.1 .1M434.6 146.3l.1 .1M466.5 148.0l.1 .1M494.8 149.6l.1 .1M469.2 144.6l.1 .1M416.1 159.4l.1 .1M441.3 144.5l.1 .1M444.0 145.2l.1 .1M398.6 154.7l.1 .1M446.4 145.3l.1 .1M415.6 145.8l.1 .1M401.6 149.1l.1 .1M431.7 144.8l.1 .1M503.1 149.5l.1 .1M395.8 151.0l.1 .1M479.2 146.3l.1 .1M494.9 151.2l.1 .1M493.3 171.8l.1 .1M504.0 145.2l.1 .1M416.7 150.5l.1 .1M494.2 145.8l.1 .1M397.3 146.2l.1 .1M501.5 146.8l.1 .1M477.6 149.4l.1 .1M443.1 144.9l.1 .1M412.4 147.4l.1 .1M431.7 153.4l.1 .1M509.0 145.3l.1 .1M409.3 149.7l.1 .1M467.9 144.3l.1 .1M390.0 150.3l.1 .1M478.8 149.6l.1 .1M416.0 150.7l.1 .1M462.0 150.0l.1 .1M404.9 153.1l.1 .1M504.2 157.9l.1 .1M493.3 155.6l.1 .1M498.9 148.1l.1 .1M415.1 145.9l.1 .1M498.7 151.9l.1 .1M413.9 144.9l.1 .1M441.4 144.5l.1 .1M410.7 145.5l.1 .1M459.3 155.8l.1 .1M436.8 167.8l.1 .1M388.5 153.8l.1 .1M415.9 169.2l.1 .1M450.4 149.7l.1 .1M448.0 169.1l.1 .1M413.8 152.4l.1 .1M412.0 159.3l.1 .1M415.0 149.3l.1 .1M426.9 171.6l.1 .1M429.5 148.6l.1 .1M389.8 153.5l.1 .1M407.0 148.2l.1 .1M387.0 159.0l.1 .1M418.9 152.1l.1 .1M456.6 149.3l.1 .1M404.0 154.7l.1 .1M401.9 146.5l.1 .1M405.4 171.4l.1 .1M451.7 145.5l.1 .1M496.9 151.5l.1 .1M416.0 144.7l.1 .1M459.6 145.8l.1 .1M437.7 149.3l.1 .1M469.0 162.7l.1 .1M505.6 160.8l.1 .1M503.8 146.8l.1 .1M393.3 148.6l.1 .1M399.9 164.9l.1 .1M422.9 144.4l.1 .1M506.8 147.1l.1 .1M439.0 161.4l.1 .1M492.2 150.6l.1 .1M468.0 158.1l.1 .1M401.4 150.3l.1 .1M468.6 146.6l.1 .1M486.3 151.6l.1 .1M506.3 163.5l.1 .1M396.4 146.0l.1 .1M457.7 163.4l.1 .1M472.8 145.9l.1 .1M416.3 146.7l.1 .1M451.9 148.0l.1 .1M396.1 153.7l.1 .1M464.4 155.6l.1 .1M470.3 149.6l.1 .1M388.1 157.7l.1 .1M471.0 149.6l.1 .1M467.2 154.6l.1 .1M505.8 145.9l.1 .1M415.8 157.2l.1 .1M505.7 149.0l.1 .1M437.7 146.2l.1 .1M498.6 171.6l.1 .1M478.1 146.4l.1 .1M469.2 148.0l.1 .1M402.8 156.5l.1 .1M413.6 146.3l.1 .1M391.4 146.8l.1 .1M437.3 145.4l.1 .1M396.6 148.8l.1 .1M503.8 151.6l.1 .1M431.1 151.5l.1 .1M441.2 154.5l.1 .1M446.7 145.8l.1 .1M470.8 144.4l.1 .1M432.8 145.7l.1 .1M482.0 171.8l.1 .1M466.6 159.4l.1 .1M474.4 152.7l.1 .1M411.3 172.7l.1 .1M424.3 156.4l.1 .1M488.8 146.7l.1 .1M492.3 151.9l.1 .1M460.0 161.7l.1 .1M388.8 146.1l.1 .1M476.9 150.7l.1 .1M395.6 146.9l.1 .1M408.4 144.3l.1 .1M387.4 154.2l.1 .1M419.8 146.4l.1 .1M509.4 154.7l.1 .1M401.1 144.4l.1 .1M507.2 167.2l.1 .1M428.5 145.6l.1 .1M426.6 150.4l.1 .1M446.3 148.8l.1 .1M393.8 146.7l.1 .1M407.1 144.9l.1 .1M464.3 145.0l.1 .1M419.6 154.2l.1 .1M477.3 157.4l.1 .1M447.9 147.7l.1 .1M502.1 146.0l.1 .1M393.3 151.1l.1 .1M472.8 145.6l.1 .1M475.9 148.3l.1 .1M485.8 146.4l.1 .1M398.6 157.8l.1 .1M410.7 151.6l.1 .1M486.6 154.6l.1 .1M415.6 157.4l.1 .1M469.2 145.0l.1 .1M404.1 151.2l.1 .1M459.2 146.0l.1 .1M465.6 145.2l.1 .1M419.0 146.5l.1 .1M453.1 148.8l.1 .1M390.8 155.1l.1 .1M414.4 155.1l.1 .1M466.3 147.1l.1 .1M463.2 154.1l.1 .1M412.3 163.7l.1 .1M469.1 147.3l.1 .1M406.5 146.8l.1 .1M482.6 146.4l.1 .1M475.8 159.0l.1 .1M485.5 171.0l.1 .1M426.1 147.3l.1 .1M393.9 155.0l.1 .1M398.0 152.1l.1 .1M450.7 144.6l.1 .1M502.5 145.6l.1 .1M444.2 161.9l.1 .1M401.8 146.1l.1 .1M451.6 150.2l.1 .1M475.8 148.0l.1 .1M483.1 150.6l.1 .1M395.6 145.2l.1 .1M446.9 148.3l.1 .1M469.8 146.7l.1 .1M426.4 146.3l.1 .1M475.3 149.7l.1 .1M433.0 156.6l.1 .1M502.0 149.2l.1 .1M463.7 167.1l.1 .1M443.5 145.1l.1 .1M421.5 152.7l.1 .1M508.6 144.5l.1 .1M402.9 164.4l.1 .1M463.7 149.5l.1 .1M395.4 147.2l.1 .1M482.5 155.9l.1 .1M397.6 149.1l.1 .1M398.6 148.4l.1 .1M393.3 172.1l.1 .1M482.2 147.1l.1 .1M400.2 145.4l.1 .1M407.3 144.8l.1 .1M490.3 150.6l.1 .1M408.5 145.8l.1 .1M439.7 156.4l.1 .1M402.2 147.7l.1 .1M507.4 146.6l.1 .1M419.1 145.3l.1 .1M497.5 155.6l.1 .1M445.6 164.0l.1 .1M461.9 170.6l.1 .1M444.6 147.1l.1 .1M478.0 154.8l.1 .1M411.0 145.4l.1 .1M400.2 170.9l.1 .1M429.0 158.3l.1 .1M418.6 146.6l.1 .1M509.8 149.5l.1 .1M492.9 145.6l.1 .1M408.4 147.5l.1 .1M429.3 155.7l.1 .1M438.8 146.0l.1 .1M494.0 158.7l.1 .1M388.2 151.4l.1 .1M462.2 156.3l.1 .1M505.0 163.5l.1 .1M492.2 147.5l.1 .1M419.9 158.6l.1 .1M433.4 148.0l.1 .1M433.9 147.9l.1 .1M415.1 145.2l.1 .1M437.9 164.4l.1 .1M497.0 152.7l.1 .1M417.3 156.1l.1 .1M486.7 165.4l.1 .1M480.6 155.2l.1 .1M418.3 158.3l.1 .1M434.2 153.2l.1 .1M403.5 159.6l.1 .1M428.7 150.7l.1 .1M429.8 158.7l.1 .1M492.1 159.8l.1 .1M404.2 162.0l.1 .1M479.2 167.6l.1 .1M467.9 153.7l.1 .1M494.8 144.6l.1 .1M443.5 150.9l.1 .1M484.0 147.7l.1 .1M494.8 157.0l.1 .1M429.2 146.2l.1 .1M399.4 146.6l.1 .1M390.2 147.5l.1 .1M415.1 157.6l.1 .1M395.3 144.8l.1 .1M411.6 155.6l.1 .1M436.8 149.4l.1 .1M505.3 157.9l.1 .1M465.4 147.3l.1 .1M445.3 163.2l.1 .1M477.9 163.6l.1 .1M495.3 147.4l.1 .1M400.1 151.4l.1 .1M489.8 151.7l.1 .1M447.0 150.4l.1 .1M496.1 148.7l.1 .1M412.7 153.4l.1 .1M432.0 148.0l.1 .1M473.2 171.0l.1 .1M500.3 145.3l.1 .1M460.2 144.5l.1 .1M475.9 149.0l.1 .1M398.4 148.9l.1 .1M488.7 150.5l.1 .1M431.2 157.3l.1 .1M479.3 146.3l.1 .1M414.1 157.8l.1 .1M510.0 162.3l.1 .1M434.1 149.0l.1 .1M502.2 154.6l.1 .1M424.4 146.1l.1 .1M477.7 147.6l.1 .1M454.8 146.0l.1 .1M469.8 150.0l.1 .1M505.6 145.5l.1 .1M485.6 151.1l.1 .1M499.8 145.9l.1 .1M481.1 151.0l.1 .1M431.8 161.3l.1 .1M412.7 165.9l.1 .1M449.2 144.4l.1 .1M498.6 163.5l.1 .1M450.3 170.3l.1 .1M456.4 166.9l.1 .1M465.2 145.5l.1 .1M439.5 157.9l.1 .1M419.1 152.0l.1 .1M439.1 146.9l.1 .1M445.0 150.3l.1 .1M387.7 145.0l.1 .1M475.8 147.7l.1 .1M416.3 155.8l.1 .1M451.0 146.7l.1 .1M461.7 145.8l.1 .1M412.0 163.9l.1 .1M476.3 151.6l.1 .1M475.2 155.9l.1 .1M420.7 154.6l.1 .1M501.7 159.5l.1 .1M504.0 144.7l.1 .1M397.7 149.1l.1 .1M485.8 144.8l.1 .1M404.6 153.7l.1 .1M466.1 149.4l.1 .1M482.0 147.7l.1 .1M411.6 146.6l.1 .1M437.8 145.7l.1 .1M424.5 152.3l.1 .1M414.0 145.7l.1 .1M410.9 145.0l.1 .1M449.5 147.4l.1 .1M446.4 145.9l.1 .1M507.6 149.1l.1 .1M504.1 149.8l.1 .1M411.5 149.6l.1 .1M404.9 151.8l.1 .1M396.0 145.8l.1 .1M506.9 154.4l.1 .1M430.9 148.6l.1 .1M430.6 148.9l.1 .1M435.5 154.1l.1 .1M494.1 145.6l.1 .1M387.7 151.4l.1 .1M477.3 160.1l.1 .1M465.1 147.9l.1 .1M436.8 165.5l.1 .1M423.9 149.0l.1 .1M469.1 151.0l.1 .1M504.7 155.4l.1 .1M432.3 145.5l.1 .1M485.0 160.3l.1 .1M470.9 151.7l.1 .1M504.1 147.7l.1 .1M436.9 150.9l.1 .1M401.3 145.9l.1 .1M486.2 163.4l.1 .1M427.0 144.4l.1 .1M448.4 149.7l.1 .1M497.9 148.0l.1 .1M452.9 147.8l.1 .1M466.2 166.5l.1 .1M428.2 149.7l.1 .1M462.5 148.3l.1 .1M419.3 157.2l.1 .1M435.0 148.1l.1 .1M500.2 148.0l.1 .1M421.2 150.7l.1 .1M488.8 147.6l.1 .1M472.5 145.7l.1 .1M410.9 144.4l.1 .1M486.8 144.7l.1 .1M415.2 145.5l.1 .1M419.7 144.7l.1 .1M476.2 155.3l.1 .1M504.4 164.5l.1 .1M501.3 150.9l.1 .1M501.7 145.0l.1 .1M410.9 149.0l.1 .1M493.4 155.8l.1 .1M398.5 148.3l.1 .1M480.4 161.6l.1 .1M508.1 151.9l.1 .1M393.9 144.5l.1 .1M389.7 145.3l.1 .1M465.1 154.6l.1 .1M407.0 145.2l.1 .1M462.5 145.9l.1 .1M507.2 153.6l.1 .1M508.3 148.0l.1 .1M435.4 149.0l.1 .1M415.8 146.7l.1 .1M510.3 175.1l.1 .1M408.7 154.5l.1 .1M405.8 145.9l.1 .1M478.4 147.8l.1 .1M452.7 144.7l.1 .1M391.1 153.8l.1 .1M485.0 149.1l.1 .1M442.9 151.4l.1 .1M461.5 162.2l.1 .1M436.0 147.7l.1 .1M493.5 168.4l.1 .1M456.5 164.9l.1 .1M408.7 145.5l.1 .1M472.6 148.3l.1 .1M486.4 144.2l.1 .1M450.8 157.2l.1 .1M485.9 144.3l.1 .1M469.9 148.7l.1 .1M477.3 151.3l.1 .1M506.0 148.6l.1 .1M502.1 170.4l.1 .1M426.2 152.2l.1 .1M420.3 148.2l.1 .1M485.2 163.9l.1 .1M488.8 157.3l.1 .1M426.4 154.0l.1 .1M419.5 156.1l.1 .1M406.6 152.2l.1 .1M447.6 160.6l.1 .1M501.4 146.9l.1 .1M502.3 144.9l.1 .1M405.4 156.1l.1 .1M458.0 156.3l.1 .1M459.7 164.2l.1 .1M502.7 148.9l.1 .1M483.3 145.0l.1 .1M421.3 145.1l.1 .1M495.0 145.2l.1 .1M477.0 149.1l.1 .1M477.5 146.7l.1 .1M399.0 153.0l.1 .1M476.5 149.9l.1 .1M468.1 146.2l.1 .1M432.9 147.0l.1 .1M503.9 165.5l.1 .1M457.8 148.9l.1 .1M481.0 158.1l.1 .1M494.0 149.3l.1 .1M504.8 148.5l.1 .1M401.7 149.6l.1 .1M404.9 155.8l.1 .1M393.6 153.8l.1 .1M478.8 150.8l.1 .1M465.9 145.4l.1 .1M417.8 148.2l.1 .1M391.1 158.4l.1 .1M397.7 149.7l.1 .1M497.7 160.3l.1 .1M444.6 144.5l.1 .1M476.1 149.5l.1 .1M429.5 155.2l.1 .1M409.9 166.9l.1 .1M488.0 145.4l.1 .1M410.0 145.3l.1 .1M428.7 150.0l.1 .1M502.3 145.7l.1 .1M484.4 149.6l.1 .1M500.1 146.6l.1 .1M499.3 146.3l.1 .1M507.4 152.2l.1 .1M465.2 156.6l.1 .1M492.9 150.6l.1 .1M399.1 149.1l.1 .1M486.8 164.8l.1 .1M479.3 153.9l.1 .1M444.4 146.4l.1 .1M506.2 158.8l.1 .1M406.9 165.8l.1 .1M455.7 153.9l.1 .1M407.8 148.6l.1 .1M445.3 145.5l.1 .1M420.2 149.9l.1 .1M455.7 148.1l.1 .1M460.0 156.3l.1 .1M496.8 145.7l.1 .1M506.0 148.1l.1 .1M459.2 145.5l.1 .1M434.7 172.9l.1 .1M425.9 150.9l.1 .1M412.3 144.5l.1 .1M422.2 145.3l.1 .1M456.8 152.6l.1 .1M471.9 169.1l.1 .1M504.7 148.0l.1 .1M454.3 152.7l.1 .1M470.0 160.9l.1 .1M461.9 148.0l.1 .1M507.1 147.2l.1 .1M507.6 146.6l.1 .1M388.2 144.8l.1 .1M412.5 151.0l.1 .1M401.6 150.2l.1 .1M469.9 159.5l.1 .1M501.9 153.9l.1 .1M475.4 153.8l.1 .1M393.1 144.2l.1 .1M507.1 148.9l.1 .1M457.4 147.4l.1 .1M438.5 144.3l.1 .1M460.0 163.8l.1 .1M388.6 158.8l.1 .1M409.2 146.1l.1 .1M399.6 159.2l.1 .1M420.1 166.8l.1 .1M450.9 162.1l.1 .1M506.8 147.5l.1 .1M473.4 148.6l.1 .1M489.9 144.8l.1 .1M479.5 145.2l.1 .1M405.3 146.9l.1 .1M469.0 148.0l.1 .1M510.2 170.0l.1 .1M468.0 152.4l.1 .1M477.0 145.7l.1 .1M431.5 151.0l.1 .1M418.6 163.6l.1 .1M406.6 145.5l.1 .1M459.9 145.6l.1 .1M406.8 157.8l.1 .1M458.2 150.1l.1 .1M438.1 151.1l.1 .1M388.8 150.8l.1 .1M439.4 144.7l.1 .1M480.8 146.5l.1 .1M489.1 146.5l.1 .1M398.4 146.5l.1 .1M435.0 149.7l.1 .1M481.8 147.7l.1 .1M470.0 146.3l.1 .1M443.1 159.4l.1 .1M501.5 150.1l.1 .1M409.4 152.0l.1 .1M397.1 144.8l.1 .1M398.0 147.6l.1 .1M439.5 153.0l.1 .1M450.5 147.3l.1 .1M417.3 167.4l.1 .1M424.8 145.6l.1 .1M499.8 147.5l.1 .1M440.1 154.5l.1 .1M392.6 145.7l.1 .1M492.0 145.3l.1 .1M406.4 153.0l.1 .1M394.2 152.5l.1 .1M428.5 150.2l.1 .1M479.0 145.1l.1 .1M450.3 154.8l.1 .1M470.0 145.8l.1 .1M468.9 149.0l.1 .1M498.9 145.0l.1 .1M414.6 144.2l.1 .1M411.5 148.5l.1 .1M472.2 145.0l.1 .1M420.0 147.6l.1 .1M414.6 153.6l.1 .1M472.3 148.5l.1 .1M406.3 149.0l.1 .1M454.3 144.8l.1 .1M399.3 165.5l.1 .1M447.5 150.1l.1 .1M470.0 146.0l.1 .1M487.2 150.0l.1 .1M502.8 147.1l.1 .1M445.7 158.4l.1 .1M446.9 145.5l.1 .1M472.0 145.4l.1 .1M458.6 154.3l.1 .1M475.6 144.6l.1 .1M400.9 157.8l.1 .1M393.6 147.5l.1 .1M476.6 151.6l.1 .1M473.2 147.8l.1 .1M475.3 148.1l.1 .1M508.2 146.9l.1 .1M387.4 149.1l.1 .1M477.0 145.0l.1 .1M465.9 161.0l.1 .1M495.1 145.6l.1 .1M401.2 154.8l.1 .1M470.2 148.2l.1 .1M392.2 144.2l.1 .1M495.4 147.9l.1 .1M499.7 147.4l.1 .1M494.2 157.2l.1 .1M507.1 151.7l.1 .1M504.5 152.9l.1 .1M411.3 151.2l.1 .1M446.8 150.4l.1 .1M433.3 147.7l.1 .1M459.9 150.2l.1 .1M421.3 146.3l.1 .1M449.4 150.1l.1 .1M469.3 148.8l.1 .1M452.9 145.9l.1 .1M482.4 146.9l.1 .1M483.8 154.4l.1 .1M417.8 150.3l.1 .1M450.3 166.1l.1 .1M423.0 148.2l.1 .1M474.8 148.5l.1 .1M446.8 158.6l.1 .1M413.4 155.3l.1 .1M431.3 149.3l.1 .1M431.5 147.3l.1 .1M477.9 156.0l.1 .1M415.9 146.2l.1 .1M468.1 157.1l.1 .1M465.7 153.7l.1 .1M420.8 154.2l.1 .1M431.7 144.7l.1 .1M506.2 144.5l.1 .1M470.1 150.5l.1 .1M486.7 172.8l.1 .1M428.7 146.4l.1 .1M485.6 145.2l.1 .1M447.4 155.5l.1 .1M420.4 148.1l.1 .1M475.2 149.8l.1 .1M492.2 163.2l.1 .1M441.4 161.2l.1 .1M425.9 148.8l.1 .1M409.7 175.0l.1 .1M421.8 145.7l.1 .1M492.7 165.7l.1 .1M492.6 147.6l.1 .1M439.9 162.8l.1 .1M482.8 146.0l.1 .1M401.7 148.2l.1 .1M441.5 163.8l.1 .1M460.8 148.5l.1 .1M389.5 146.7l.1 .1M434.0 148.4l.1 .1M433.0 144.3l.1 .1M428.2 156.3l.1 .1M464.4 153.8l.1 .1M389.5 146.0l.1 .1M462.7 153.7l.1 .1M411.8 147.1l.1 .1M499.7 160.5l.1 .1M459.6 146.4l.1 .1M426.9 151.4l.1 .1M427.3 144.5l.1 .1M461.6 152.9l.1 .1M402.1 150.2l.1 .1M425.6 146.2l.1 .1M432.0 148.7l.1 .1M401.3 163.8l.1 .1M493.2 146.5l.1 .1M459.8 146.6l.1 .1M391.7 148.2l.1 .1M487.4 157.6l.1 .1M483.2 146.8l.1 .1M509.3 149.7l.1 .1M434.1 144.7l.1 .1M464.4 146.4l.1 .1M491.4 156.9l.1 .1M435.0 150.9l.1 .1M399.9 157.7l.1 .1M480.3 146.7l.1 .1M510.1 149.1l.1 .1M444.2 145.0l.1 .1M387.2 146.2l.1 .1M398.2 145.0l.1 .1M440.6 148.1l.1 .1M422.8 150.2l.1 .1M450.9 154.4l.1 .1M450.3 145.8l.1 .1M433.1 149.9l.1 .1M412.9 160.8l.1 .1M431.3 161.9l.1 .1M463.2 147.6l.1 .1M422.2 151.2l.1 .1M505.4 145.0l.1 .1M401.1 148.1l.1 .1M452.9 153.2l.1 .1M427.7 147.5l.1 .1M428.9 159.9l.1 .1M505.6 148.8l.1 .1M436.8 148.0l.1 .1M469.1 145.7l.1 .1M442.3 153.4l.1 .1M415.8 148.6l.1 .1M443.6 157.3l.1 .1M433.4 159.2l.1 .1M390.5 155.3l.1 .1M506.1 146.3l.1 .1M470.7 153.9l.1 .1M445.5 150.0l.1 .1M408.4 146.1l.1 .1M473.0 152.9l.1 .1M466.9 146.7l.1 .1M463.0 145.4l.1 .1M450.1 145.8l.1 .1M455.2 147.4l.1 .1M446.9 145.4l.1 .1M403.7 152.3l.1 .1M471.1 147.3l.1 .1M463.4 150.9l.1 .1M457.8 157.0l.1 .1M441.8 146.3l.1 .1M457.2 159.1l.1 .1M432.1 156.0l.1 .1M507.2 149.2l.1 .1M467.9 158.7l.1 .1M462.8 145.2l.1 .1M502.8 144.5l.1 .1M477.2 174.3l.1 .1M491.8 146.8l.1 .1M489.6 145.9l.1 .1M388.9 150.4l.1 .1M441.5 162.8l.1 .1M472.3 159.1l.1 .1M493.9 150.6l.1 .1M498.4 146.1l.1 .1M390.2 147.7l.1 .1M395.1 147.7l.1 .1M464.3 144.8l.1 .1M406.8 145.3l.1 .1M421.5 147.1l.1 .1M499.2 165.5l.1 .1M509.7 161.4l.1 .1M485.6 149.1l.1 .1M501.8 147.0l.1 .1M477.7 158.2l.1 .1M398.3 146.4l.1 .1M455.4 166.0l.1 .1M493.8 152.2l.1 .1M473.7 145.5l.1 .1M484.4 149.5l.1 .1M411.3 149.3l.1 .1M421.8 170.6l.1 .1M490.0 155.7l.1 .1M473.1 146.6l.1 .1M414.7 148.5l.1 .1M505.3 146.3l.1 .1M450.2 148.1l.1 .1M390.2 150.1l.1 .1M479.3 156.0l.1 .1M431.2 161.8l.1 .1M430.0 146.2l.1 .1M468.5 155.3l.1 .1M452.0 148.6l.1 .1M500.8 145.6l.1 .1M449.8 149.6l.1 .1M411.5 157.2l.1 .1M430.8 155.0l.1 .1M398.6 158.3l.1 .1M465.8 146.9l.1 .1M433.7 149.8l.1 .1M414.0 151.5l.1 .1M387.2 149.1l.1 .1M418.4 157.7l.1 .1M455.4 159.2l.1 .1M464.6 152.0l.1 .1M483.3 145.3l.1 .1M493.9 147.1l.1 .1M471.0 157.2l.1 .1M441.1 158.4l.1 .1M505.1 153.6l.1 .1M399.4 146.0l.1 .1M450.1 148.7l.1 .1M414.4 145.6l.1 .1M435.1 161.2l.1 .1M409.6 145.6l.1 .1M410.5 151.5l.1 .1M453.6 149.6l.1 .1M449.4 149.1l.1 .1M389.0 159.5l.1 .1M411.7 166.6l.1 .1M482.1 144.5l.1 .1M453.7 151.3l.1 .1M483.8 146.3l.1 .1M477.1 147.3l.1 .1M458.0 146.4l.1 .1M433.0 153.0l.1 .1M395.0 149.7l.1 .1M472.7 152.9l.1 .1M455.2 145.6l.1 .1M399.5 155.3l.1 .1M494.9 159.6l.1 .1M417.8 144.6l.1 .1M418.3 144.9l.1 .1M447.6 145.0l.1 .1M424.2 146.6l.1 .1M433.0 149.4l.1 .1M476.6 157.3l.1 .1M414.7 145.2l.1 .1M427.8 144.3l.1 .1M473.4 145.2l.1 .1M510.4 157.0l.1 .1M391.5 146.2l.1 .1M438.0 156.1l.1 .1M435.6 166.7l.1 .1M396.0 147.4l.1 .1M450.5 169.1l.1 .1M441.1 149.1l.1 .1M490.0 156.5l.1 .1M409.0 149.6l.1 .1M497.5 148.6l.1 .1M468.9 148.6l.1 .1M444.2 151.1l.1 .1M417.3 151.4l.1 .1M494.2 151.1l.1 .1M432.7 144.9l.1 .1M508.3 162.1l.1 .1M464.7 144.3l.1 .1M491.5 152.6l.1 .1M403.2 149.6l.1 .1M475.3 147.2l.1 .1M412.3 155.2l.1 .1M468.4 152.9l.1 .1M389.7 153.2l.1 .1M427.2 149.1l.1 .1M428.7 151.9l.1 .1M470.1 145.4l.1 .1M485.0 147.1l.1 .1M454.6 147.3l.1 .1M401.3 158.1l.1 .1M395.4 155.3l.1 .1M390.1 167.4l.1 .1M432.7 155.0l.1 .1M435.9 145.9l.1 .1M438.4 150.1l.1 .1M451.8 145.3l.1 .1M506.9 147.2l.1 .1M440.9 148.3l.1 .1M507.1 146.4l.1 .1M467.1 147.5l.1 .1M435.7 159.3l.1 .1M421.5 156.1l.1 .1M392.2 145.2l.1 .1M495.3 149.2l.1 .1M441.6 146.1l.1 .1M421.2 156.3l.1 .1M451.3 145.6l.1 .1M503.3 148.9l.1 .1M416.5 163.4l.1 .1M438.6 151.1l.1 .1M442.0 144.5l.1 .1M424.5 165.0l.1 .1M475.0 151.6l.1 .1M501.5 144.8l.1 .1M424.3 145.2l.1 .1M389.3 154.8l.1 .1M402.7 148.2l.1 .1M388.9 149.6l.1 .1M414.5 145.6l.1 .1M398.2 144.9l.1 .1M451.1 146.0l.1 .1M488.8 145.4l.1 .1M418.2 148.7l.1 .1M491.1 146.5l.1 .1M479.0 144.6l.1 .1M504.1 145.1l.1 .1M461.1 148.6l.1 .1M399.4 161.0l.1 .1M473.0 144.8l.1 .1M476.4 151.7l.1 .1M448.6 146.9l.1 .1M441.1 145.9l.1 .1M459.6 147.0l.1 .1M421.0 147.2l.1 .1M397.6 152.9l.1 .1M448.4 157.8l.1 .1M401.2 146.4l.1 .1M449.4 150.2l.1 .1M433.3 154.9l.1 .1M497.6 148.7l.1 .1M508.6 146.9l.1 .1M509.7 163.0l.1 .1M418.8 168.4l.1 .1M462.8 158.4l.1 .1M510.6 146.1l.1 .1M487.4 153.0l.1 .1M396.8 151.1l.1 .1M408.7 161.0l.1 .1M463.4 146.7l.1 .1M444.3 146.0l.1 .1M398.9 154.7l.1 .1M399.9 153.3l.1 .1M467.5 149.6l.1 .1M392.3 154.0l.1 .1M506.0 146.0l.1 .1M439.6 148.4l.1 .1M473.3 148.2l.1 .1M467.6 155.6l.1 .1M457.6 148.5l.1 .1M410.3 150.3l.1 .1M506.6 169.3l.1 .1M510.0 156.9l.1 .1M491.0 149.5l.1 .1M479.0 146.5l.1 .1M503.3 154.8l.1 .1M496.0 159.3l.1 .1M484.6 146.8l.1 .1M425.7 149.6l.1 .1M486.0 148.1l.1 .1M491.7 159.8l.1 .1M408.1 153.5l.1 .1M457.4 145.6l.1 .1M428.7 146.2l.1 .1M406.1 145.1l.1 .1M414.7 154.8l.1 .1M427.8 160.1l.1 .1M424.5 160.1l.1 .1M435.9 146.8l.1 .1M441.0 144.3l.1 .1M388.5 148.2l.1 .1M433.5 160.8l.1 .1M506.0 144.2l.1 .1M418.3 146.4l.1 .1M399.3 144.4l.1 .1M459.1 154.6l.1 .1M417.5 150.1l.1 .1M507.2 147.1l.1 .1M509.6 148.1l.1 .1M402.4 162.5l.1 .1M389.6 160.1l.1 .1M487.3 154.7l.1 .1M455.1 154.2l.1 .1M406.1 158.3l.1 .1M419.9 150.7l.1 .1M410.7 148.5l.1 .1M458.0 154.6l.1 .1M464.9 156.9l.1 .1M501.3 151.9l.1 .1M457.2 158.3l.1 .1M502.0 147.5l.1 .1M399.6 148.1l.1 .1M474.5 147.6l.1 .1M467.0 166.7l.1 .1M503.2 153.4l.1 .1M442.2 156.9l.1 .1M481.1 149.4l.1 .1M400.6 147.4l.1 .1M487.3 152.3l.1 .1M471.7 146.6l.1 .1M402.8 163.0l.1 .1M448.1 145.4l.1 .1M504.7 147.6l.1 .1M485.3 149.2l.1 .1M408.5 152.6l.1 .1M408.6 174.2l.1 .1M443.1 144.9l.1 .1M446.6 144.4l.1 .1M505.3 148.7l.1 .1M492.3 148.7l.1 .1M459.6 156.9l.1 .1M424.8 146.5l.1 .1M435.9 149.9l.1 .1M449.6 152.9l.1 .1M462.2 147.5l.1 .1M428.6 146.1l.1 .1M398.6 144.3l.1 .1M439.4 144.7l.1 .1M473.5 159.5l.1 .1M490.7 172.7l.1 .1M458.9 151.6l.1 .1M434.5 144.3l.1 .1M463.9 146.8l.1 .1M454.2 144.8l.1 .1M448.0 148.2l.1 .1M399.6 148.6l.1 .1M486.2 155.3l.1 .1M401.3 151.9l.1 .1M495.0 151.9l.1 .1M392.6 156.2l.1 .1M469.4 161.9l.1 .1M501.0 146.9l.1 .1M497.9 158.9l.1 .1M458.5 146.6l.1 .1M423.7 148.2l.1 .1M463.4 156.3l.1 .1M454.3 147.6l.1 .1M457.2 166.4l.1 .1M457.1 164.8l.1 .1M444.0 144.5l.1 .1M477.1 151.0l.1 .1M464.2 173.4l.1 .1M465.6 149.7l.1 .1M474.4 150.6l.1 .1M388.7 168.9l.1 .1M495.6 147.5l.1 .1M484.9 144.7l.1 .1M467.3 144.5l.1 .1M416.5 157.8l.1 .1M415.0 148.2l.1 .1M452.5 154.5l.1 .1M427.3 152.0l.1 .1M505.3 151.6l.1 .1M505.0 156.9l.1 .1M450.9 146.6l.1 .1M429.9 148.3l.1 .1M408.6 157.9l.1 .1M482.9 151.1l.1 .1M389.3 167.3l.1 .1M448.1 146.9l.1 .1M407.2 167.4l.1 .1M436.2 159.7l.1 .1M502.0 150.9l.1 .1M427.8 144.8l.1 .1M403.5 145.6l.1 .1M473.8 147.3l.1 .1M645.7 146.8l.1 .1M605.9 144.3l.1 .1M563.3 149.1l.1 .1M569.4 152.3l.1 .1M564.7 153.5l.1 .1M582.4 158.6l.1 .1M562.3 144.9l.1 .1M560.0 145.8l.1 .1M664.0 146.8l.1 .1M592.5 147.4l.1 .1M552.8 153.8l.1 .1M651.5 144.8l.1 .1M565.3 146.9l.1 .1M635.9 145.6l.1 .1M593.1 170.2l.1 .1M600.9 152.7l.1 .1M582.7 145.8l.1 .1M574.7 147.0l.1 .1M554.9 155.0l.1 .1M634.8 147.5l.1 .1M663.1 144.4l.1 .1M624.5 150.7l.1 .1M568.9 145.7l.1 .1M664.6 156.9l.1 .1M645.0 144.3l.1 .1M553.2 145.7l.1 .1M555.5 150.4l.1 .1M648.3 156.8l.1 .1M561.6 146.5l.1 .1M636.6 149.1l.1 .1M631.0 144.5l.1 .1M590.5 145.1l.1 .1M553.7 145.4l.1 .1M580.8 149.4l.1 .1M655.7 160.8l.1 .1M607.1 153.1l.1 .1M584.9 151.3l.1 .1M611.6 148.5l.1 .1M598.8 147.9l.1 .1M666.3 157.3l.1 .1M650.1 153.3l.1 .1M552.9 146.7l.1 .1M605.6 145.9l.1 .1M634.7 154.1l.1 .1M640.2 161.1l.1 .1M550.5 146.6l.1 .1M584.6 148.7l.1 .1M655.9 158.2l.1 .1M639.6 149.5l.1 .1M608.1 153.1l.1 .1M661.8 148.2l.1 .1M614.5 155.1l.1 .1M562.1 173.9l.1 .1M611.9 154.2l.1 .1M559.4 146.9l.1 .1M651.4 150.2l.1 .1M655.1 145.5l.1 .1M567.7 173.8l.1 .1M603.8 149.7l.1 .1M558.5 147.0l.1 .1M660.4 146.3l.1 .1M661.6 156.7l.1 .1M605.6 148.9l.1 .1M596.6 144.6l.1 .1M666.8 150.2l.1 .1M625.1 144.7l.1 .1M664.2 144.5l.1 .1M629.7 145.8l.1 .1M569.2 151.1l.1 .1M596.1 148.4l.1 .1M592.8 145.6l.1 .1M631.4 144.7l.1 .1M610.8 168.5l.1 .1M607.4 147.7l.1 .1M635.3 145.3l.1 .1M556.5 152.2l.1 .1M558.9 147.5l.1 .1M545.5 152.5l.1 .1M551.7 158.2l.1 .1M567.5 156.5l.1 .1M631.9 149.4l.1 .1M652.1 163.3l.1 .1M632.4 145.3l.1 .1M564.4 148.1l.1 .1M659.9 148.4l.1 .1M630.3 144.3l.1 .1M653.1 149.6l.1 .1M574.5 148.6l.1 .1M557.1 157.2l.1 .1M580.1 152.2l.1 .1M564.5 144.6l.1 .1M563.1 157.2l.1 .1M561.9 161.3l.1 .1M550.2 162.2l.1 .1M609.9 151.6l.1 .1M658.4 150.4l.1 .1M666.8 146.0l.1 .1M644.0 150.0l.1 .1M667.3 146.2l.1 .1M602.1 152.9l.1 .1M652.6 145.9l.1 .1M666.3 149.8l.1 .1M636.5 158.9l.1 .1M564.5 153.0l.1 .1M632.3 156.3l.1 .1M552.2 144.9l.1 .1M570.8 144.9l.1 .1M638.8 154.1l.1 .1M589.4 152.3l.1 .1M562.4 163.2l.1 .1M598.3 146.0l.1 .1M634.9 146.3l.1 .1M635.9 156.5l.1 .1M615.6 146.9l.1 .1M611.7 146.8l.1 .1M562.6 149.4l.1 .1M644.4 157.0l.1 .1M555.0 154.5l.1 .1M636.6 146.0l.1 .1M620.2 155.5l.1 .1M596.5 162.7l.1 .1M602.5 146.0l.1 .1M590.9 146.7l.1 .1M583.8 154.6l.1 .1M617.2 152.7l.1 .1M607.0 144.4l.1 .1M624.0 158.0l.1 .1M622.9 157.2l.1 .1M548.5 180.1l.1 .1M568.2 148.0l.1 .1M580.1 153.9l.1 .1M624.9 151.7l.1 .1M619.8 144.3l.1 .1M575.0 146.9l.1 .1M622.0 151.3l.1 .1M631.8 145.9l.1 .1M550.5 144.7l.1 .1M658.8 159.2l.1 .1M667.0 164.3l.1 .1M614.2 153.4l.1 .1M610.0 149.4l.1 .1M663.5 163.9l.1 .1M568.7 148.1l.1 .1M596.1 149.5l.1 .1M658.0 155.5l.1 .1M553.8 150.8l.1 .1M559.6 149.4l.1 .1M645.2 149.5l.1 .1M601.6 151.9l.1 .1M659.1 145.4l.1 .1M604.2 158.2l.1 .1M627.5 144.6l.1 .1M592.9 147.7l.1 .1M577.7 147.5l.1 .1M624.3 145.2l.1 .1M597.1 149.2l.1 .1M606.0 153.7l.1 .1M576.9 145.4l.1 .1M626.3 149.8l.1 .1M636.2 151.1l.1 .1M638.7 147.2l.1 .1M575.2 150.2l.1 .1M621.3 145.1l.1 .1M661.5 157.1l.1 .1M645.7 155.8l.1 .1M574.1 150.3l.1 .1M650.5 146.6l.1 .1M603.7 146.4l.1 .1M545.9 149.7l.1 .1M568.4 145.0l.1 .1M641.0 155.1l.1 .1M563.8 144.8l.1 .1M564.2 173.7l.1 .1M616.4 155.2l.1 .1M635.0 158.3l.1 .1M639.0 144.9l.1 .1M548.8 152.8l.1 .1M579.9 163.7l.1 .1M608.7 148.5l.1 .1M614.3 149.8l.1 .1M649.5 144.7l.1 .1M555.9 149.3l.1 .1M567.1 149.0l.1 .1M632.8 148.1l.1 .1M563.7 153.8l.1 .1M663.7 146.5l.1 .1M566.7 151.0l.1 .1M574.4 150.6l.1 .1M625.3 144.7l.1 .1M561.1 145.0l.1 .1M663.5 152.0l.1 .1M636.5 144.7l.1 .1M550.9 145.3l.1 .1M546.2 144.3l.1 .1M656.2 153.2l.1 .1M562.3 144.3l.1 .1M594.1 144.5l.1 .1M567.5 146.9l.1 .1M556.6 155.8l.1 .1M561.5 151.1l.1 .1M559.7 151.5l.1 .1M666.3 145.7l.1 .1M599.6 146.3l.1 .1M667.5 151.6l.1 .1M558.1 149.7l.1 .1M628.4 151.8l.1 .1M591.4 150.2l.1 .1M551.5 155.9l.1 .1M611.1 149.6l.1 .1M640.3 161.3l.1 .1M591.1 146.1l.1 .1M590.8 150.4l.1 .1M666.7 144.7l.1 .1M561.0 148.4l.1 .1M545.5 145.3l.1 .1M561.0 160.7l.1 .1M660.8 149.9l.1 .1M617.0 154.2l.1 .1M627.2 146.5l.1 .1M569.3 155.5l.1 .1M594.7 146.0l.1 .1M654.0 150.4l.1 .1M576.8 150.3l.1 .1M562.3 153.0l.1 .1M544.8 145.0l.1 .1M615.4 150.1l.1 .1M612.3 148.5l.1 .1M569.7 145.6l.1 .1M593.7 150.2l.1 .1M657.1 148.9l.1 .1M635.9 148.5l.1 .1M604.5 144.6l.1 .1M568.3 144.6l.1 .1M591.3 145.6l.1 .1M659.5 145.4l.1 .1M581.4 146.7l.1 .1M589.4 144.7l.1 .1M611.4 154.7l.1 .1M620.2 159.5l.1 .1M596.6 151.3l.1 .1M599.4 156.5l.1 .1M571.5 145.2l.1 .1M550.8 155.1l.1 .1M621.4 145.6l.1 .1M601.4 152.1l.1 .1M595.7 151.4l.1 .1M548.5 150.3l.1 .1M664.4 147.8l.1 .1M585.9 150.1l.1 .1M664.7 150.9l.1 .1M595.3 148.5l.1 .1M649.1 156.0l.1 .1M626.5 146.0l.1 .1M587.5 146.6l.1 .1M588.6 155.3l.1 .1M603.9 161.0l.1 .1M559.7 158.0l.1 .1M547.8 147.8l.1 .1M654.0 157.6l.1 .1M601.3 148.8l.1 .1M591.6 168.3l.1 .1M560.7 146.7l.1 .1M643.1 161.4l.1 .1M634.1 149.3l.1 .1M626.6 156.6l.1 .1M624.1 145.0l.1 .1M602.6 158.3l.1 .1M623.6 148.0l.1 .1M571.6 145.7l.1 .1M666.8 152.0l.1 .1M626.1 145.0l.1 .1M548.3 149.0l.1 .1M581.5 145.4l.1 .1M560.1 152.3l.1 .1M620.6 147.4l.1 .1M667.1 153.8l.1 .1M567.4 156.7l.1 .1M618.8 149.8l.1 .1M617.7 149.7l.1 .1M573.2 147.5l.1 .1M651.9 151.7l.1 .1M625.2 152.1l.1 .1M575.1 165.9l.1 .1M646.2 150.1l.1 .1M543.8 151.4l.1 .1M644.9 149.1l.1 .1M592.5 145.8l.1 .1M600.0 171.9l.1 .1M617.7 149.6l.1 .1M600.2 157.2l.1 .1M631.1 159.9l.1 .1M619.9 147.7l.1 .1M550.1 146.7l.1 .1M549.3 148.8l.1 .1M648.2 146.6l.1 .1M568.2 168.3l.1 .1M587.5 145.5l.1 .1M561.2 148.3l.1 .1M563.2 155.4l.1 .1M577.4 149.5l.1 .1M558.1 151.3l.1 .1M648.8 148.9l.1 .1M567.6 144.3l.1 .1M647.3 144.7l.1 .1M573.7 151.8l.1 .1M565.1 160.0l.1 .1M634.2 148.8l.1 .1M551.8 150.5l.1 .1M566.5 144.5l.1 .1M655.1 164.1l.1 .1M549.6 146.7l.1 .1M568.2 151.1l.1 .1M657.6 159.4l.1 .1M640.0 154.6l.1 .1M646.8 154.5l.1 .1M633.2 147.5l.1 .1M629.8 144.3l.1 .1M665.7 148.2l.1 .1M599.8 154.7l.1 .1M616.2 152.6l.1 .1M544.6 150.8l.1 .1M575.6 146.0l.1 .1M657.3 152.5l.1 .1M637.7 151.0l.1 .1M561.7 151.1l.1 .1M615.8 146.2l.1 .1M595.6 153.8l.1 .1M585.1 152.3l.1 .1M564.6 146.8l.1 .1M615.5 147.9l.1 .1M659.0 145.0l.1 .1M634.3 144.3l.1 .1M659.9 147.1l.1 .1M546.8 146.5l.1 .1M590.6 152.2l.1 .1M626.3 155.9l.1 .1M625.6 148.2l.1 .1M584.4 152.0l.1 .1M624.7 145.7l.1 .1M549.6 150.0l.1 .1M597.1 145.4l.1 .1M608.7 144.9l.1 .1M580.3 147.6l.1 .1M635.1 153.7l.1 .1M617.7 144.7l.1 .1M618.8 177.8l.1 .1M572.5 172.9l.1 .1M584.2 145.9l.1 .1M563.4 146.0l.1 .1M605.8 146.2l.1 .1M639.4 155.6l.1 .1M638.7 144.5l.1 .1M576.6 151.2l.1 .1M650.3 144.3l.1 .1M575.1 145.2l.1 .1M642.4 146.7l.1 .1M657.2 164.1l.1 .1M648.5 157.2l.1 .1M550.6 148.6l.1 .1M561.1 146.0l.1 .1M560.3 145.1l.1 .1M549.9 146.8l.1 .1M649.7 146.6l.1 .1M606.7 146.1l.1 .1M545.6 157.2l.1 .1M611.0 153.1l.1 .1M654.1 144.4l.1 .1M556.2 155.1l.1 .1M615.2 166.4l.1 .1M570.0 151.1l.1 .1M631.1 144.4l.1 .1M566.1 152.8l.1 .1M614.9 144.4l.1 .1M586.4 146.7l.1 .1M613.8 158.1l.1 .1M630.3 145.1l.1 .1M614.1 152.9l.1 .1M602.6 165.2l.1 .1M550.6 151.4l.1 .1M580.9 146.7l.1 .1M607.0 148.1l.1 .1M629.3 145.0l.1 .1M574.9 144.6l.1 .1M546.6 150.2l.1 .1M644.0 146.9l.1 .1M590.2 153.2l.1 .1M636.7 145.5l.1 .1M553.7 158.1l.1 .1M611.6 147.9l.1 .1M568.8 152.3l.1 .1M619.2 156.0l.1 .1M661.2 155.2l.1 .1M626.8 152.1l.1 .1M577.5 146.6l.1 .1M644.2 147.4l.1 .1M578.2 150.4l.1 .1M607.7 160.1l.1 .1M624.6 170.6l.1 .1M586.4 153.3l.1 .1M603.1 177.0l.1 .1M593.7 151.9l.1 .1M565.5 149.3l.1 .1M594.9 147.4l.1 .1M563.3 153.5l.1 .1M623.5 145.7l.1 .1M653.0 148.6l.1 .1M598.5 144.3l.1 .1M637.3 156.4l.1 .1M607.7 147.2l.1 .1M544.3 147.7l.1 .1M572.0 144.8l.1 .1M567.5 158.3l.1 .1M612.8 146.5l.1 .1M624.0 152.4l.1 .1M586.0 146.7l.1 .1M642.2 144.3l.1 .1M579.8 147.4l.1 .1M604.8 145.8l.1 .1M584.0 145.3l.1 .1M567.3 145.0l.1 .1M584.3 149.3l.1 .1M651.7 145.0l.1 .1M594.8 144.6l.1 .1M550.8 146.6l.1 .1M598.3 146.6l.1 .1M575.8 152.2l.1 .1M655.3 147.5l.1 .1M598.9 151.1l.1 .1M641.1 145.8l.1 .1M573.4 162.4l.1 .1M590.0 157.2l.1 .1M546.8 148.7l.1 .1M573.5 146.1l.1 .1M646.1 145.8l.1 .1M583.2 164.8l.1 .1M581.0 155.3l.1 .1M567.8 150.2l.1 .1M607.6 160.6l.1 .1M642.1 150.3l.1 .1M604.4 149.3l.1 .1M602.5 152.7l.1 .1M580.7 150.1l.1 .1M571.3 145.3l.1 .1M616.9 168.5l.1 .1M566.9 144.3l.1 .1M607.0 150.2l.1 .1M655.7 175.1l.1 .1M643.6 144.7l.1 .1M636.2 172.1l.1 .1M590.9 165.2l.1 .1M628.6 151.0l.1 .1M632.5 155.1l.1 .1M585.5 155.9l.1 .1M617.7 155.1l.1 .1M583.8 166.4l.1 .1M650.4 150.8l.1 .1M630.1 154.0l.1 .1M562.9 145.3l.1 .1M624.5 146.8l.1 .1M625.4 144.4l.1 .1M567.6 145.1l.1 .1M611.7 146.4l.1 .1M661.0 152.9l.1 .1M554.3 146.0l.1 .1M616.8 157.5l.1 .1M632.4 161.4l.1 .1M588.6 145.2l.1 .1M599.5 145.9l.1 .1M650.5 146.5l.1 .1M567.1 159.7l.1 .1M591.4 166.6l.1 .1M661.0 158.4l.1 .1M588.7 153.3l.1 .1M638.7 151.0l.1 .1M602.6 147.0l.1 .1M563.0 144.8l.1 .1M581.9 155.1l.1 .1M596.9 152.5l.1 .1M579.0 152.7l.1 .1M626.4 144.8l.1 .1M569.0 146.2l.1 .1M605.2 148.5l.1 .1M630.1 159.3l.1 .1M598.3 148.1l.1 .1M559.7 150.5l.1 .1M618.5 146.6l.1 .1M618.2 163.4l.1 .1M663.6 145.8l.1 .1M571.3 155.1l.1 .1M547.8 147.4l.1 .1M570.7 154.0l.1 .1M632.6 156.2l.1 .1M613.7 154.4l.1 .1M548.1 146.1l.1 .1M545.3 150.4l.1 .1M639.6 149.2l.1 .1M597.8 145.2l.1 .1M562.3 149.5l.1 .1M619.3 145.7l.1 .1M562.5 145.5l.1 .1M659.8 145.9l.1 .1M557.5 159.8l.1 .1M594.6 150.0l.1 .1M574.8 144.4l.1 .1M546.1 151.4l.1 .1M579.1 166.0l.1 .1M661.3 147.1l.1 .1M559.8 145.2l.1 .1M582.5 148.6l.1 .1M615.9 146.8l.1 .1M595.1 164.7l.1 .1M589.9 144.5l.1 .1M597.3 157.3l.1 .1M574.6 144.6l.1 .1M587.1 146.0l.1 .1M626.8 146.8l.1 .1M549.2 152.9l.1 .1M645.6 145.3l.1 .1M641.4 158.5l.1 .1M629.6 145.5l.1 .1M627.4 144.7l.1 .1M647.8 145.9l.1 .1M601.6 156.9l.1 .1M660.8 153.1l.1 .1M623.9 159.5l.1 .1M587.9 150.8l.1 .1M561.1 152.1l.1 .1M554.2 148.4l.1 .1M626.5 144.9l.1 .1M569.4 148.0l.1 .1M579.7 164.5l.1 .1M604.4 149.5l.1 .1M666.9 145.6l.1 .1M654.2 153.9l.1 .1M656.6 146.6l.1 .1M660.4 160.7l.1 .1M563.0 145.5l.1 .1M554.8 144.8l.1 .1M549.9 152.5l.1 .1M587.7 148.5l.1 .1M549.4 153.1l.1 .1M662.5 152.9l.1 .1M593.7 146.6l.1 .1M581.5 153.4l.1 .1M667.2 157.0l.1 .1M602.0 145.9l.1 .1M612.8 145.3l.1 .1M664.2 147.6l.1 .1M666.7 153.1l.1 .1M645.9 155.6l.1 .1M626.1 147.5l.1 .1M586.8 145.0l.1 .1M665.2 161.6l.1 .1M605.0 145.5l.1 .1M620.5 147.8l.1 .1M576.0 150.4l.1 .1M599.5 158.7l.1 .1M633.2 154.4l.1 .1M607.5 171.0l.1 .1M639.4 150.3l.1 .1M549.2 146.0l.1 .1M629.7 155.7l.1 .1M642.9 153.7l.1 .1M652.5 145.7l.1 .1M660.8 151.2l.1 .1M651.0 149.8l.1 .1M564.2 144.6l.1 .1M626.4 149.7l.1 .1M552.6 147.5l.1 .1M552.5 159.1l.1 .1M572.5 159.2l.1 .1M617.2 152.6l.1 .1M584.4 146.1l.1 .1M609.7 146.1l.1 .1M611.1 146.4l.1 .1M558.6 146.5l.1 .1M576.1 152.4l.1 .1M593.9 164.5l.1 .1M632.7 146.3l.1 .1M589.6 160.0l.1 .1M584.8 153.2l.1 .1M580.9 179.3l.1 .1M544.1 144.5l.1 .1M621.1 149.6l.1 .1M595.0 146.5l.1 .1M588.7 147.8l.1 .1M611.2 145.6l.1 .1M547.0 151.7l.1 .1M575.8 158.8l.1 .1M570.6 148.6l.1 .1M594.0 151.9l.1 .1M594.2 150.2l.1 .1M554.4 149.1l.1 .1M596.4 171.5l.1 .1M648.6 147.0l.1 .1M641.7 146.6l.1 .1M558.1 148.0l.1 .1M578.4 150.0l.1 .1M666.4 145.7l.1 .1M602.1 163.1l.1 .1M626.7 155.5l.1 .1M559.7 146.7l.1 .1M567.3 150.2l.1 .1M617.4 153.8l.1 .1M640.0 145.9l.1 .1M603.2 167.7l.1 .1M599.4 168.2l.1 .1M601.0 144.3l.1 .1M657.4 147.2l.1 .1M662.8 149.3l.1 .1M591.2 145.4l.1 .1M550.0 144.3l.1 .1M547.7 152.7l.1 .1M597.5 145.9l.1 .1M572.9 161.6l.1 .1M630.6 144.2l.1 .1M560.8 152.4l.1 .1M650.9 162.2l.1 .1M645.8 163.0l.1 .1M630.6 149.6l.1 .1M623.5 145.1l.1 .1M585.3 147.2l.1 .1M553.7 146.8l.1 .1M638.4 155.6l.1 .1M607.3 144.3l.1 .1M611.2 144.4l.1 .1M662.8 145.5l.1 .1M608.6 146.8l.1 .1M655.7 146.3l.1 .1M581.2 144.3l.1 .1M636.2 146.0l.1 .1M650.5 147.4l.1 .1M559.3 146.9l.1 .1M554.3 148.4l.1 .1M608.5 145.3l.1 .1M570.1 150.1l.1 .1M608.3 145.6l.1 .1M603.4 148.2l.1 .1M561.1 151.8l.1 .1M551.7 144.3l.1 .1M630.8 155.0l.1 .1M584.6 145.3l.1 .1M658.1 146.7l.1 .1M632.2 147.8l.1 .1M548.8 144.8l.1 .1M623.2 146.0l.1 .1M651.8 148.3l.1 .1M626.0 156.0l.1 .1M653.1 166.3l.1 .1M593.2 144.9l.1 .1M619.5 145.3l.1 .1M555.1 149.0l.1 .1M601.3 144.8l.1 .1M594.0 150.9l.1 .1M622.3 148.6l.1 .1M631.4 152.4l.1 .1M565.0 147.9l.1 .1M548.7 158.2l.1 .1M567.3 145.8l.1 .1M620.7 150.4l.1 .1M607.4 144.9l.1 .1M628.8 150.1l.1 .1M633.8 144.7l.1 .1M591.4 146.4l.1 .1M648.1 145.1l.1 .1M644.4 150.8l.1 .1M557.3 149.2l.1 .1M553.4 147.7l.1 .1M643.6 144.9l.1 .1M591.9 144.2l.1 .1M638.4 144.5l.1 .1M547.7 176.2l.1 .1M664.6 147.3l.1 .1M582.1 146.2l.1 .1M657.9 174.0l.1 .1M626.8 147.5l.1 .1M587.6 155.0l.1 .1M590.0 144.2l.1 .1M663.2 152.3l.1 .1M594.6 148.2l.1 .1M618.9 147.5l.1 .1M656.8 144.4l.1 .1M547.5 165.3l.1 .1M582.6 144.3l.1 .1M639.1 145.3l.1 .1M611.3 158.2l.1 .1M571.9 163.9l.1 .1M591.2 145.7l.1 .1M568.2 148.3l.1 .1M636.8 161.6l.1 .1M571.7 146.5l.1 .1M592.7 146.5l.1 .1M639.9 151.5l.1 .1M553.7 164.7l.1 .1M590.8 145.7l.1 .1M600.4 165.0l.1 .1M646.5 152.9l.1 .1M590.4 148.4l.1 .1M623.0 154.4l.1 .1M577.2 178.0l.1 .1M604.0 165.2l.1 .1M623.2 158.1l.1 .1M649.7 149.9l.1 .1M578.4 144.8l.1 .1M645.3 148.8l.1 .1M640.3 145.6l.1 .1M587.1 144.8l.1 .1M632.3 148.5l.1 .1M649.0 149.3l.1 .1M591.2 152.3l.1 .1M591.9 149.2l.1 .1M581.3 158.3l.1 .1M574.0 145.6l.1 .1M644.0 146.2l.1 .1M574.1 152.1l.1 .1M654.6 147.9l.1 .1M571.3 166.4l.1 .1M550.9 163.9l.1 .1M662.0 146.9l.1 .1M629.0 144.4l.1 .1M645.3 161.9l.1 .1M563.0 150.0l.1 .1M660.6 146.1l.1 .1M571.1 158.0l.1 .1M619.7 147.1l.1 .1M570.1 146.7l.1 .1M557.4 158.1l.1 .1M594.0 151.1l.1 .1M651.7 148.6l.1 .1M639.7 153.6l.1 .1M644.1 144.3l.1 .1M543.7 155.0l.1 .1M634.2 146.0l.1 .1M610.5 158.1l.1 .1M554.5 159.2l.1 .1M645.4 146.3l.1 .1M571.3 155.0l.1 .1M598.0 150.0l.1 .1M593.0 153.4l.1 .1M638.1 146.8l.1 .1M588.5 152.3l.1 .1M576.2 152.8l.1 .1M566.9 149.0l.1 .1M595.5 147.1l.1 .1M582.3 144.8l.1 .1M584.2 147.2l.1 .1M655.2 149.0l.1 .1M580.3 157.2l.1 .1M554.5 145.2l.1 .1M637.9 159.0l.1 .1M656.2 153.4l.1 .1M564.9 147.7l.1 .1M593.2 144.9l.1 .1M554.2 154.2l.1 .1M553.7 148.1l.1 .1M612.3 145.9l.1 .1M660.5 151.4l.1 .1M572.5 146.9l.1 .1M566.9 144.6l.1 .1M543.8 144.5l.1 .1M610.2 145.0l.1 .1M656.1 148.4l.1 .1M554.4 148.8l.1 .1M630.5 145.3l.1 .1M636.6 171.0l.1 .1M586.5 146.0l.1 .1M597.4 148.1l.1 .1M562.8 146.5l.1 .1M652.8 144.4l.1 .1M664.9 169.5l.1 .1M628.9 147.5l.1 .1M557.6 145.8l.1 .1M585.0 144.2l.1 .1M609.1 155.1l.1 .1M603.4 146.0l.1 .1M567.9 149.5l.1 .1M658.9 148.3l.1 .1M666.4 148.3l.1 .1M559.6 153.0l.1 .1M629.5 161.4l.1 .1M567.1 148.2l.1 .1M567.2 151.6l.1 .1M562.4 148.4l.1 .1M663.6 147.9l.1 .1M607.2 150.4l.1 .1M624.8 150.8l.1 .1M579.0 150.5l.1 .1M618.8 145.8l.1 .1M651.8 162.3l.1 .1M580.2 148.8l.1 .1M549.4 150.3l.1 .1M640.8 148.9l.1 .1M554.9 167.6l.1 .1M603.1 145.7l.1 .1M663.2 150.6l.1 .1M559.6 145.0l.1 .1M642.0 148.7l.1 .1M590.8 144.4l.1 .1M595.8 152.7l.1 .1M552.5 145.6l.1 .1M606.9 154.0l.1 .1M628.4 149.5l.1 .1M593.5 154.0l.1 .1M657.6 147.3l.1 .1M640.0 144.7l.1 .1M609.7 148.4l.1 .1M660.6 146.2l.1 .1M583.4 146.7l.1 .1M654.2 144.6l.1 .1M549.9 156.3l.1 .1M579.4 145.3l.1 .1M605.4 144.4l.1 .1M632.9 157.1l.1 .1M665.1 149.0l.1 .1M583.1 146.7l.1 .1M618.4 146.3l.1 .1M559.1 148.5l.1 .1M663.5 148.8l.1 .1M621.0 158.5l.1 .1M604.0 157.8l.1 .1M630.0 148.9l.1 .1M617.2 145.8l.1 .1M580.6 149.0l.1 .1M565.7 148.9l.1 .1M557.9 151.2l.1 .1M550.5 148.3l.1 .1M555.7 149.5l.1 .1M545.9 156.1l.1 .1M580.7 155.5l.1 .1M584.4 165.3l.1 .1M626.7 145.3l.1 .1M644.5 146.1l.1 .1M576.8 148.7l.1 .1M571.3 150.3l.1 .1M553.8 146.3l.1 .1M570.8 146.1l.1 .1M595.2 145.4l.1 .1M617.4 148.3l.1 .1M628.3 149.7l.1 .1M602.0 150.7l.1 .1M561.2 157.4l.1 .1M545.2 146.4l.1 .1M652.8 160.7l.1 .1M648.1 147.8l.1 .1M659.1 149.9l.1 .1M584.7 160.0l.1 .1M595.2 146.4l.1 .1M601.7 165.6l.1 .1M546.6 147.3l.1 .1M658.4 147.5l.1 .1M642.2 147.9l.1 .1M659.9 159.7l.1 .1M605.3 153.2l.1 .1M660.3 146.6l.1 .1M635.8 155.4l.1 .1M624.0 144.6l.1 .1M560.4 152.2l.1 .1M600.0 146.9l.1 .1M556.9 146.2l.1 .1M600.4 145.3l.1 .1M642.0 144.3l.1 .1M578.2 147.9l.1 .1M582.9 146.2l.1 .1M632.3 150.5l.1 .1M632.3 148.1l.1 .1M644.3 150.0l.1 .1M638.5 153.1l.1 .1M587.2 144.4l.1 .1M646.6 145.1l.1 .1M658.2 145.4l.1 .1M562.5 147.1l.1 .1M566.6 152.4l.1 .1M598.1 147.3l.1 .1M607.8 151.1l.1 .1M641.9 151.7l.1 .1M620.6 167.6l.1 .1M605.2 148.0l.1 .1M647.0 147.1l.1 .1M630.0 149.6l.1 .1M630.0 155.9l.1 .1M599.9 159.1l.1 .1M653.4 152.4l.1 .1M645.4 148.8l.1 .1M563.4 146.4l.1 .1M612.0 157.3l.1 .1M617.9 166.6l.1 .1M558.7 146.2l.1 .1M575.0 159.8l.1 .1M609.1 145.4l.1 .1M614.8 152.9l.1 .1M640.6 144.5l.1 .1M583.9 151.9l.1 .1M605.0 161.7l.1 .1M554.9 154.2l.1 .1M637.4 146.7l.1 .1M630.7 152.1l.1 .1M547.1 152.3l.1 .1M548.8 157.4l.1 .1M581.2 146.1l.1 .1M555.5 148.9l.1 .1M561.0 148.0l.1 .1M586.4 147.0l.1 .1M643.2 145.0l.1 .1M568.6 144.4l.1 .1M593.9 159.5l.1 .1M581.8 164.1l.1 .1M609.0 149.2l.1 .1M666.4 147.8l.1 .1M642.5 147.7l.1 .1M587.0 149.0l.1 .1M658.2 157.0l.1 .1M617.9 144.3l.1 .1M606.5 153.8l.1 .1M632.8 147.7l.1 .1M602.5 145.4l.1 .1M650.8 145.7l.1 .1M592.8 154.7l.1 .1M610.9 154.8l.1 .1M573.3 151.5l.1 .1M624.1 154.3l.1 .1M593.5 146.3l.1 .1M575.7 154.5l.1 .1M649.0 154.1l.1 .1M633.9 145.5l.1 .1M577.5 146.6l.1 .1M640.2 147.2l.1 .1M591.2 151.2l.1 .1M644.3 152.1l.1 .1M650.9 145.7l.1 .1M622.5 149.2l.1 .1M570.1 157.7l.1 .1M631.6 148.5l.1 .1M592.2 144.3l.1 .1M599.3 149.5l.1 .1M647.4 149.0l.1 .1M632.9 145.0l.1 .1M554.0 146.5l.1 .1M559.7 148.5l.1 .1M564.6 148.4l.1 .1M560.6 148.2l.1 .1M569.6 182.2l.1 .1M618.6 148.2l.1 .1M559.7 151.9l.1 .1M589.8 157.1l.1 .1M597.0 144.8l.1 .1M588.4 150.9l.1 .1M582.3 153.1l.1 .1M659.3 155.8l.1 .1M551.4 155.8l.1 .1M609.7 147.9l.1 .1M566.7 147.5l.1 .1M558.4 150.3l.1 .1M595.5 145.5l.1 .1M663.4 147.5l.1 .1M623.8 151.9l.1 .1M615.9 161.0l.1 .1M602.2 153.4l.1 .1M652.2 155.1l.1 .1M659.5 144.2l.1 .1M623.0 144.4l.1 .1M637.4 144.7l.1 .1M560.6 148.1l.1 .1M574.3 156.9l.1 .1M591.3 160.0l.1 .1M598.9 149.8l.1 .1M587.6 154.0l.1 .1M572.2 149.1l.1 .1M557.3 147.0l.1 .1M578.1 146.3l.1 .1M561.7 152.2l.1 .1M664.3 145.4l.1 .1M554.3 151.2l.1 .1M637.8 157.9l.1 .1M662.9 150.6l.1 .1M560.9 149.4l.1 .1M554.8 144.3l.1 .1M612.2 148.5l.1 .1M552.4 156.5l.1 .1M555.5 144.7l.1 .1M659.7 147.3l.1 .1M549.1 154.6l.1 .1M566.1 150.3l.1 .1M583.5 146.0l.1 .1M580.3 146.1l.1 .1M586.3 145.9l.1 .1M613.4 150.3l.1 .1M578.3 153.1l.1 .1M614.6 144.4l.1 .1M569.7 146.8l.1 .1M661.0 147.8l.1 .1M632.6 150.5l.1 .1M611.1 144.5l.1 .1M650.9 152.4l.1 .1M549.9 154.0l.1 .1M545.7 174.2l.1 .1M602.0 154.3l.1 .1M661.1 162.2l.1 .1M553.9 153.6l.1 .1M558.3 151.3l.1 .1M559.7 148.0l.1 .1M550.2 146.7l.1 .1M555.0 149.5l.1 .1M640.1 146.1l.1 .1M615.5 146.6l.1 .1M622.5 157.9l.1 .1M659.3 155.9l.1 .1M566.7 146.1l.1 .1M657.4 179.5l.1 .1M658.5 146.9l.1 .1M571.8 144.8l.1 .1M556.6 157.8l.1 .1M571.3 157.7l.1 .1M559.4 154.3l.1 .1M614.9 149.0l.1 .1M650.6 149.8l.1 .1M631.5 144.5l.1 .1M608.3 157.3l.1 .1M642.5 146.0l.1 .1M576.1 148.1l.1 .1M638.4 154.4l.1 .1M604.9 156.1l.1 .1M546.6 144.3l.1 .1M548.2 149.7l.1 .1M560.2 150.9l.1 .1M546.1 154.4l.1 .1M571.3 152.2l.1 .1M607.7 148.6l.1 .1M578.8 157.1l.1 .1M580.2 168.5l.1 .1M578.3 144.5l.1 .1M617.7 147.3l.1 .1M655.8 144.7l.1 .1M636.1 154.5l.1 .1M550.1 174.7l.1 .1M649.8 152.1l.1 .1M594.7 145.6l.1 .1M658.4 145.7l.1 .1M646.6 148.6l.1 .1M618.3 146.2l.1 .1M586.0 153.6l.1 .1M554.2 146.3l.1 .1M594.5 151.0l.1 .1M583.4 145.7l.1 .1M559.1 146.8l.1 .1M562.8 150.4l.1 .1M588.4 145.9l.1 .1M631.6 174.7l.1 .1M648.4 145.8l.1 .1M584.6 163.3l.1 .1M621.7 155.1l.1 .1M655.8 149.7l.1 .1M624.0 151.8l.1 .1M600.2 163.1l.1 .1M544.6 145.0l.1 .1M601.9 153.0l.1 .1M664.2 158.5l.1 .1M568.4 146.2l.1 .1M546.3 150.0l.1 .1M552.8 144.9l.1 .1M598.4 146.6l.1 .1M628.9 145.7l.1 .1M646.9 153.9l.1 .1M637.2 149.6l.1 .1M634.0 155.1l.1 .1M615.0 146.8l.1 .1M574.2 156.1l.1 .1M545.0 147.2l.1 .1M557.8 150.5l.1 .1M566.9 148.2l.1 .1M653.8 145.1l.1 .1M662.5 146.9l.1 .1M616.5 153.4l.1 .1M624.2 148.7l.1 .1M567.2 155.6l.1 .1M577.1 149.5l.1 .1M570.7 145.6l.1 .1M659.4 154.8l.1 .1M565.3 148.1l.1 .1M581.7 145.5l.1 .1M653.3 147.4l.1 .1M604.5 149.3l.1 .1M565.6 150.9l.1 .1M598.2 147.4l.1 .1M581.6 144.7l.1 .1M618.4 150.0l.1 .1M552.6 146.3l.1 .1M562.8 150.0l.1 .1M663.1 144.2l.1 .1M659.8 153.2l.1 .1M639.2 146.8l.1 .1M621.6 157.3l.1 .1M577.7 144.4l.1 .1M598.0 147.4l.1 .1M566.7 150.0l.1 .1M546.4 145.9l.1 .1M558.2 147.7l.1 .1M546.0 146.0l.1 .1M571.9 156.9l.1 .1M615.3 149.1l.1 .1M611.4 144.5l.1 .1M573.2 155.3l.1 .1M633.5 151.0l.1 .1M588.0 149.8l.1 .1M626.4 149.1l.1 .1M635.0 148.1l.1 .1M636.8 153.7l.1 .1M561.8 148.1l.1 .1M580.4 145.5l.1 .1M551.0 149.9l.1 .1M561.9 146.8l.1 .1M568.6 149.5l.1 .1M551.5 156.0l.1 .1M636.3 147.2l.1 .1M592.2 156.5l.1 .1M652.6 163.8l.1 .1M584.6 149.9l.1 .1M629.1 145.7l.1 .1M624.2 144.6l.1 .1M566.8 146.0l.1 .1M592.1 150.8l.1 .1M562.0 144.6l.1 .1M591.8 154.9l.1 .1M620.3 154.6l.1 .1M586.1 144.2l.1 .1M573.9 150.5l.1 .1M667.6 145.2l.1 .1M625.3 146.9l.1 .1M666.2 148.2l.1 .1M547.5 146.0l.1 .1M629.6 151.4l.1 .1M557.4 156.5l.1 .1M602.5 145.5l.1 .1M559.7 146.4l.1 .1M549.0 145.2l.1 .1M560.3 148.0l.1 .1M555.4 144.4l.1 .1M623.8 152.5l.1 .1M643.4 147.1l.1 .1M595.5 144.5l.1 .1M550.2 162.7l.1 .1M603.1 145.3l.1 .1M552.1 147.2l.1 .1M641.7 156.7l.1 .1M595.3 150.2l.1 .1M605.7 149.8l.1 .1M583.4 150.0l.1 .1M608.1 155.7l.1 .1M616.2 146.1l.1 .1M605.4 154.5l.1 .1M611.1 146.9l.1 .1M566.3 152.2l.1 .1M594.4 159.1l.1 .1M608.0 147.9l.1 .1M564.8 154.0l.1 .1M604.2 145.6l.1 .1M597.5 144.3l.1 .1M568.3 145.1l.1 .1M654.7 147.3l.1 .1M578.4 150.7l.1 .1M606.9 151.2l.1 .1M598.2 144.2l.1 .1M643.7 152.5l.1 .1M545.8 167.3l.1 .1M590.8 149.1l.1 .1M645.3 148.2l.1 .1M611.0 148.1l.1 .1M651.4 153.9l.1 .1M609.0 150.2l.1 .1M590.3 144.9l.1 .1M639.4 145.7l.1 .1M560.5 151.8l.1 .1M652.0 150.1l.1 .1M590.3 157.1l.1 .1M609.5 147.3l.1 .1M664.5 147.9l.1 .1M654.4 157.3l.1 .1M661.0 145.0l.1 .1M576.0 147.3l.1 .1M593.1 150.5l.1 .1M664.5 145.8l.1 .1M554.1 145.6l.1 .1M645.9 147.6l.1 .1M600.0 155.4l.1 .1M560.9 147.7l.1 .1M637.6 155.1l.1 .1M626.6 145.9l.1 .1M588.2 159.5l.1 .1M636.0 146.0l.1 .1M592.6 150.9l.1 .1M583.8 144.2l.1 .1M566.8 152.5l.1 .1M639.2 148.7l.1 .1M559.2 147.1l.1 .1M628.6 151.9l.1 .1M656.2 150.6l.1 .1M606.9 147.4l.1 .1M649.7 148.3l.1 .1M573.5 146.9l.1 .1M645.8 147.4l.1 .1M566.9 153.5l.1 .1M666.1 155.8l.1 .1M641.5 147.0l.1 .1M620.1 152.3l.1 .1M543.8 146.0l.1 .1M584.8 158.1l.1 .1M649.6 156.1l.1 .1M634.5 157.5l.1 .1M645.3 153.1l.1 .1M657.7 163.7l.1 .1M583.5 158.7l.1 .1M555.0 161.6l.1 .1M651.2 145.6l.1 .1M661.9 149.6l.1 .1M551.9 147.0l.1 .1M653.2 145.3l.1 .1M596.8 155.5l.1 .1M548.1 151.5l.1 .1M578.8 163.1l.1 .1M604.0 145.7l.1 .1M604.1 148.7l.1 .1M566.5 152.9l.1 .1M584.0 155.1l.1 .1M654.9 147.7l.1 .1M634.0 153.4l.1 .1M596.1 155.0l.1 .1M608.4 147.1l.1 .1M565.2 157.1l.1 .1M602.5 152.5l.1 .1M631.6 164.0l.1 .1M594.9 161.7l.1 .1M574.6 148.4l.1 .1M582.5 145.8l.1 .1M621.3 145.9l.1 .1M635.1 150.0l.1 .1M664.0 153.7l.1 .1M620.0 149.3l.1 .1M602.9 149.4l.1 .1M582.1 147.1l.1 .1M606.7 147.0l.1 .1M611.5 148.2l.1 .1M666.1 151.8l.1 .1M666.5 150.2l.1 .1M619.1 146.8l.1 .1M599.6 150.2l.1 .1M573.0 148.4l.1 .1M552.9 171.6l.1 .1M603.1 155.4l.1 .1M581.7 147.1l.1 .1M585.2 164.2l.1 .1M595.2 150.1l.1 .1M612.8 151.6l.1 .1M556.8 149.4l.1 .1M624.3 144.4l.1 .1M608.0 144.2l.1 .1M635.6 146.4l.1 .1M549.7 146.9l.1 .1M584.7 145.4l.1 .1M631.1 151.3l.1 .1M662.1 156.4l.1 .1M549.4 149.8l.1 .1M587.6 151.7l.1 .1M565.3 150.6l.1 .1M573.9 147.7l.1 .1M661.1 152.0l.1 .1M606.1 147.3l.1 .1M638.4 151.1l.1 .1M576.9 147.2l.1 .1M582.1 151.5l.1 .1M621.7 148.9l.1 .1M664.3 149.8l.1 .1M570.3 147.1l.1 .1M655.0 147.8l.1 .1M551.1 157.4l.1 .1M572.9 145.5l.1 .1M629.4 154.6l.1 .1M641.6 145.4l.1 .1M644.7 157.9l.1 .1M645.2 147.1l.1 .1M659.2 146.3l.1 .1M592.4 145.2l.1 .1M645.4 146.7l.1 .1M609.6 154.1l.1 .1M579.9 149.5l.1 .1M549.5 150.3l.1 .1M662.1 153.0l.1 .1M601.2 148.4l.1 .1M590.7 150.2l.1 .1M570.2 162.2l.1 .1M629.4 148.8l.1 .1M581.7 153.6l.1 .1M629.2 145.1l.1 .1M645.9 145.1l.1 .1M652.9 144.3l.1 .1M606.4 155.8l.1 .1M640.3 159.3l.1 .1M575.8 151.8l.1 .1M558.1 144.9l.1 .1M627.3 144.9l.1 .1M660.9 152.5l.1 .1M588.7 147.5l.1 .1M641.8 157.7l.1 .1M544.8 170.8l.1 .1M594.9 165.4l.1 .1M569.4 155.2l.1 .1M636.9 149.5l.1 .1M629.8 152.9l.1 .1M657.1 144.8l.1 .1M645.3 144.6l.1 .1M620.7 149.9l.1 .1M641.5 145.9l.1 .1M574.5 154.0l.1 .1M595.2 162.4l.1 .1M572.5 157.7l.1 .1M569.9 147.4l.1 .1M561.3 144.4l.1 .1M607.7 145.3l.1 .1M556.8 148.7l.1 .1M622.4 161.2l.1 .1M577.6 149.2l.1 .1M656.6 147.9l.1 .1M606.0 148.0l.1 .1M593.1 161.7l.1 .1M552.1 157.3l.1 .1M558.7 152.6l.1 .1M554.2 146.4l.1 .1M654.4 158.8l.1 .1M605.5 155.0l.1 .1M608.2 145.0l.1 .1M633.1 159.9l.1 .1M666.1 144.2l.1 .1M616.6 164.5l.1 .1M632.1 144.4l.1 .1M544.1 150.9l.1 .1M545.8 148.2l.1 .1M627.8 144.6l.1 .1M584.0 154.1l.1 .1M577.6 145.4l.1 .1M612.7 146.0l.1 .1M656.8 146.4l.1 .1M572.2 144.3l.1 .1M599.2 150.9l.1 .1M591.6 144.8l.1 .1M642.7 146.5l.1 .1M623.0 146.1l.1 .1M595.3 151.9l.1 .1M610.0 144.5l.1 .1M573.5 145.0l.1 .1M565.4 161.9l.1 .1M563.4 165.8l.1 .1M547.5 144.4l.1 .1M654.8 156.7l.1 .1M586.5 146.4l.1 .1M622.2 147.1l.1 .1M601.7 146.7l.1 .1M577.8 151.4l.1 .1M624.7 145.2l.1 .1M544.1 151.4l.1 .1M648.6 148.1l.1 .1M627.4 150.4l.1 .1M568.8 169.8l.1 .1M562.0 147.6l.1 .1M616.3 159.8l.1 .1M625.2 158.4l.1 .1M631.7 147.0l.1 .1M606.2 146.4l.1 .1M639.9 151.0l.1 .1M637.2 146.1l.1 .1M621.5 149.6l.1 .1M608.9 144.9l.1 .1M621.8 144.9l.1 .1M591.2 155.0l.1 .1M621.1 148.1l.1 .1M665.1 149.8l.1 .1M628.7 156.8l.1 .1M550.5 147.1l.1 .1M571.4 151.9l.1 .1M624.5 152.5l.1 .1M551.0 157.7l.1 .1M585.8 148.7l.1 .1M575.6 147.1l.1 .1M600.1 156.4l.1 .1M558.2 149.7l.1 .1M622.2 149.8l.1 .1M585.6 145.1l.1 .1M612.2 146.3l.1 .1M665.5 144.8l.1 .1M658.4 147.6l.1 .1M636.7 144.4l.1 .1M598.2 159.9l.1 .1M620.8 147.4l.1 .1M574.2 146.7l.1 .1M623.4 161.0l.1 .1M600.7 148.9l.1 .1M635.4 155.1l.1 .1M582.4 146.5l.1 .1M550.5 147.8l.1 .1M557.9 147.9l.1 .1M584.9 151.7l.1 .1M570.7 146.9l.1 .1M572.1 146.2l.1 .1M600.1 159.1l.1 .1M583.2 149.6l.1 .1M617.9 165.2l.1 .1M628.0 145.5l.1 .1M667.0 144.2l.1 .1M570.1 153.4l.1 .1M656.4 148.0l.1 .1M641.1 154.4l.1 .1M568.1 150.1l.1 .1M615.4 151.4l.1 .1M550.7 145.3l.1 .1M657.4 149.3l.1 .1M622.7 146.9l.1 .1M652.6 145.0l.1 .1M580.9 159.1l.1 .1M635.4 152.9l.1 .1M652.8 148.1l.1 .1M579.4 144.5l.1 .1M646.2 145.1l.1 .1M572.1 153.4l.1 .1M607.1 151.6l.1 .1M595.3 149.9l.1 .1M613.1 149.9l.1 .1M589.1 146.8l.1 .1M621.9 145.4l.1 .1M572.0 156.0l.1 .1M592.0 150.3l.1 .1M551.4 145.6l.1 .1M635.9 144.5l.1 .1M578.6 145.2l.1 .1M568.1 149.1l.1 .1M602.4 150.2l.1 .1M627.8 145.9l.1 .1M661.6 151.2l.1 .1M639.9 147.0l.1 .1M614.5 150.9l.1 .1M581.8 144.5l.1 .1M549.3 148.0l.1 .1M645.8 144.9l.1 .1M613.1 145.0l.1 .1M608.9 146.1l.1 .1M576.6 147.6l.1 .1M578.1 148.4l.1 .1M600.7 164.0l.1 .1M635.7 145.1l.1 .1M635.9 145.4l.1 .1M658.1 154.4l.1 .1M636.3 149.2l.1 .1M644.7 154.9l.1 .1M654.5 150.6l.1 .1M591.0 153.6l.1 .1M647.8 147.4l.1 .1M590.4 162.1l.1 .1M642.1 161.8l.1 .1M585.6 152.3l.1 .1M579.6 146.4l.1 .1M601.1 152.1l.1 .1M561.8 145.9l.1 .1M567.3 155.6l.1 .1M609.5 145.5l.1 .1M593.8 144.6l.1 .1M650.2 145.8l.1 .1M604.9 149.7l.1 .1M545.9 148.5l.1 .1M660.8 156.9l.1 .1M613.7 144.3l.1 .1M648.7 154.8l.1 .1M655.8 165.8l.1 .1M561.9 159.0l.1 .1M665.8 179.8l.1 .1M652.5 151.3l.1 .1M597.2 146.3l.1 .1M602.1 145.0l.1 .1M631.1 176.5l.1 .1M582.7 148.4l.1 .1M597.0 145.8l.1 .1M604.3 146.5l.1 .1M593.9 150.0l.1 .1M595.0 150.4l.1 .1M603.9 148.9l.1 .1M654.6 156.9l.1 .1M637.7 150.2l.1 .1M563.8 146.7l.1 .1M560.9 146.8l.1 .1M657.3 154.1l.1 .1M570.8 151.2l.1 .1M639.3 145.2l.1 .1M561.7 150.0l.1 .1M637.0 178.5l.1 .1M665.6 166.7l.1 .1M658.9 154.7l.1 .1M563.4 163.8l.1 .1M610.3 147.1l.1 .1M562.4 151.2l.1 .1M639.4 146.4l.1 .1M602.6 167.5l.1 .1M652.2 162.7l.1 .1M567.1 160.0l.1 .1M625.9 147.5l.1 .1M646.8 155.7l.1 .1M627.7 145.1l.1 .1M582.2 144.4l.1 .1M607.0 144.6l.1 .1M625.4 145.1l.1 .1M644.1 147.8l.1 .1M666.5 146.9l.1 .1M553.8 145.1l.1 .1M606.0 148.9l.1 .1M546.9 157.0l.1 .1M574.1 145.6l.1 .1M645.5 148.1l.1 .1M573.0 151.7l.1 .1M638.8 147.6l.1 .1M557.0 149.8l.1 .1M546.7 147.3l.1 .1M572.4 148.4l.1 .1M585.7 146.7l.1 .1M554.0 157.9l.1 .1M560.0 144.9l.1 .1M597.6 148.0l.1 .1M633.8 162.5l.1 .1M559.9 146.3l.1 .1M646.9 149.6l.1 .1M638.5 146.0l.1 .1M662.4 147.3l.1 .1M565.3 165.5l.1 .1M616.9 155.4l.1 .1M607.9 147.6l.1 .1M603.3 160.3l.1 .1M605.0 149.9l.1 .1M637.7 144.4l.1 .1M655.2 145.0l.1 .1M614.0 144.3l.1 .1M628.6 146.2l.1 .1M636.2 150.9l.1 .1M666.2 155.9l.1 .1M572.1 145.1l.1 .1M658.7 148.7l.1 .1M569.4 147.7l.1 .1M582.8 149.3l.1 .1M643.8 144.8l.1 .1M648.2 148.4l.1 .1M585.5 145.0l.1 .1M648.5 145.1l.1 .1M618.8 148.3l.1 .1M598.2 144.6l.1 .1M631.0 147.6l.1 .1M665.7 146.1l.1 .1M607.4 146.9l.1 .1M586.2 148.6l.1 .1M548.5 144.6l.1 .1M665.1 161.0l.1 .1M560.2 150.7l.1 .1M583.3 145.7l.1 .1M586.0 144.4l.1 .1M584.1 146.5l.1 .1M612.9 156.6l.1 .1M552.3 146.7l.1 .1M633.9 154.0l.1 .1M589.8 155.8l.1 .1M556.0 155.7l.1 .1M629.5 153.0l.1 .1M619.9 149.9l.1 .1M596.9 148.5l.1 .1M619.0 148.6l.1 .1M585.3 157.0l.1 .1M592.0 149.8l.1 .1M631.0 145.5l.1 .1M652.6 144.3l.1 .1M564.6 144.6l.1 .1M597.5 153.6l.1 .1M604.2 146.6l.1 .1M623.8 162.5l.1 .1M661.2 147.3l.1 .1M555.4 146.1l.1 .1M643.2 153.3l.1 .1M592.9 155.1l.1 .1M569.7 152.0l.1 .1M660.5 146.3l.1 .1M660.9 157.2l.1 .1M631.7 149.7l.1 .1M592.9 147.3l.1 .1M636.1 162.1l.1 .1M562.4 163.4l.1 .1M657.4 147.9l.1 .1M645.2 162.1l.1 .1M576.4 159.0l.1 .1M556.7 152.8l.1 .1M545.1 148.4l.1 .1M567.7 148.1l.1 .1M626.8 147.8l.1 .1M653.0 151.9l.1 .1M581.6 162.8l.1 .1M595.6 147.0l.1 .1M648.2 146.2l.1 .1M625.9 155.0l.1 .1M580.0 151.4l.1 .1M638.0 146.4l.1 .1M666.6 144.9l.1 .1M569.5 145.3l.1 .1M656.7 154.0l.1 .1M660.1 145.4l.1 .1M559.1 149.1l.1 .1M572.4 149.6l.1 .1M621.5 151.3l.1 .1M657.7 156.5l.1 .1M627.3 157.8l.1 .1M651.4 153.2l.1 .1M605.1 156.6l.1 .1M662.9 163.5l.1 .1M569.9 145.7l.1 .1M611.3 150.7l.1 .1M605.4 148.0l.1 .1M595.4 145.8l.1 .1M637.0 150.4l.1 .1M556.4 152.6l.1 .1M603.5 145.8l.1 .1M577.9 154.3l.1 .1M572.1 153.4l.1 .1M649.1 146.7l.1 .1M647.9 145.7l.1 .1M546.8 149.7l.1 .1M610.7 148.6l.1 .1M589.9 145.1l.1 .1M602.4 148.8l.1 .1M591.6 161.6l.1 .1M579.9 159.7l.1 .1M562.9 153.6l.1 .1M636.3 150.2l.1 .1M550.1 156.2l.1 .1M562.8 153.5l.1 .1M581.4 167.3l.1 .1M564.1 157.4l.1 .1M610.3 173.6l.1 .1M657.1 145.9l.1 .1M633.4 154.9l.1 .1M572.3 148.0l.1 .1M648.9 151.1l.1 .1M631.8 153.3l.1 .1M601.0 144.7l.1 .1M609.9 146.6l.1 .1M618.0 151.8l.1 .1M581.7 144.2l.1 .1M595.9 146.5l.1 .1M567.5 146.5l.1 .1M604.5 145.9l.1 .1M570.5 158.8l.1 .1M625.9 166.4l.1 .1M653.4 159.7l.1 .1M657.2 153.8l.1 .1M621.9 145.7l.1 .1M564.4 147.3l.1 .1M623.8 146.4l.1 .1M556.5 145.2l.1 .1M644.7 157.0l.1 .1M568.4 144.4l.1 .1M609.7 144.2l.1 .1M562.5 172.6l.1 .1M598.3 150.1l.1 .1M616.7 153.1l.1 .1M556.8 153.2l.1 .1M641.0 170.2l.1 .1M544.9 145.0l.1 .1M639.9 155.6l.1 .1M658.8 147.5l.1 .1M607.2 151.0l.1 .1M603.8 144.5l.1 .1M597.8 147.5l.1 .1M648.9 147.1l.1 .1M555.6 147.4l.1 .1M647.4 146.2l.1 .1M587.1 149.2l.1 .1M665.7 158.5l.1 .1M560.9 147.9l.1 .1M557.5 146.9l.1 .1M631.9 158.3l.1 .1M624.1 146.9l.1 .1M667.0 157.1l.1 .1M600.6 145.5l.1 .1M598.6 151.3l.1 .1M600.3 149.4l.1 .1M614.7 147.8l.1 .1M580.4 147.6l.1 .1M640.5 147.9l.1 .1M602.3 145.4l.1 .1M658.7 146.0l.1 .1M586.8 144.3l.1 .1M631.8 166.9l.1 .1M634.8 146.0l.1 .1M555.3 149.0l.1 .1M549.1 145.0l.1 .1M594.5 146.5l.1 .1M653.9 168.4l.1 .1M626.4 149.7l.1 .1M644.4 150.8l.1 .1M624.1 147.4l.1 .1M571.8 145.9l.1 .1M593.7 146.3l.1 .1M617.8 146.6l.1 .1M582.8 144.5l.1 .1M642.2 150.6l.1 .1M597.1 154.8l.1 .1M546.8 150.9l.1 .1M626.2 161.9l.1 .1M556.8 155.0l.1 .1M580.7 147.9l.1 .1M637.9 156.8l.1 .1M663.8 145.4l.1 .1M560.2 145.8l.1 .1M598.0 149.8l.1 .1M549.4 165.3l.1 .1M632.1 160.5l.1 .1M562.4 146.8l.1 .1M547.5 152.6l.1 .1M553.9 146.6l.1 .1M666.8 147.1l.1 .1M611.9 157.0l.1 .1M622.0 151.3l.1 .1M646.6 154.7l.1 .1M660.8 166.9l.1 .1M661.4 147.1l.1 .1M557.7 146.2l.1 .1M549.5 151.4l.1 .1M665.0 158.5l.1 .1M575.6 155.3l.1 .1M550.3 149.4l.1 .1M645.7 148.3l.1 .1M563.2 145.7l.1 .1M587.2 147.2l.1 .1M583.8 147.0l.1 .1M623.3 144.7l.1 .1M619.5 148.8l.1 .1M655.7 146.9l.1 .1M612.5 154.4l.1 .1M649.4 147.5l.1 .1M595.4 148.1l.1 .1M550.7 149.9l.1 .1M554.0 148.9l.1 .1M641.7 161.4l.1 .1M569.9 145.1l.1 .1M611.0 151.7l.1 .1M594.2 147.8l.1 .1M594.5 146.0l.1 .1M551.9 144.6l.1 .1M546.9 146.0l.1 .1M568.3 146.1l.1 .1M617.1 147.2l.1 .1M631.0 176.7l.1 .1M613.0 155.9l.1 .1M622.0 154.0l.1 .1M589.1 144.3l.1 .1M628.7 145.2l.1 .1M597.5 147.3l.1 .1M663.9 145.4l.1 .1M561.0 146.4l.1 .1M583.0 147.4l.1 .1M630.0 145.6l.1 .1M545.1 148.1l.1 .1M558.7 164.5l.1 .1M666.0 158.0l.1 .1M638.7 149.6l.1 .1M568.6 144.2l.1 .1M629.8 155.0l.1 .1M576.8 145.1l.1 .1M641.8 144.8l.1 .1M587.0 151.2l.1 .1M605.7 149.9l.1 .1M610.1 146.3l.1 .1M632.7 144.3l.1 .1M564.0 165.8l.1 .1M617.2 148.1l.1 .1M639.5 152.1l.1 .1M636.9 146.9l.1 .1M640.2 147.3l.1 .1M614.8 149.1l.1 .1M565.6 159.6l.1 .1M586.6 148.9l.1 .1M640.2 144.6l.1 .1M564.2 145.7l.1 .1M640.2 145.2l.1 .1M584.4 152.5l.1 .1M587.9 148.8l.1 .1M548.4 148.9l.1 .1M662.5 146.5l.1 .1M630.5 146.8l.1 .1M601.3 150.8l.1 .1M629.9 150.8l.1 .1M641.2 150.1l.1 .1M572.1 146.7l.1 .1M641.4 148.4l.1 .1M544.3 148.9l.1 .1M654.6 148.5l.1 .1M614.6 145.5l.1 .1M610.9 146.5l.1 .1M584.4 154.1l.1 .1M599.2 145.5l.1 .1M546.9 172.2l.1 .1M570.7 146.7l.1 .1M641.1 148.6l.1 .1M616.5 149.8l.1 .1M609.7 145.9l.1 .1M584.9 153.7l.1 .1M663.9 144.3l.1 .1M663.4 149.0l.1 .1M585.9 150.7l.1 .1M659.4 145.5l.1 .1M615.0 154.0l.1 .1M581.0 144.3l.1 .1M555.1 148.0l.1 .1M601.9 148.6l.1 .1M608.8 145.8l.1 .1M652.0 164.9l.1 .1M581.3 156.0l.1 .1M602.9 146.0l.1 .1M569.9 162.7l.1 .1M649.1 144.7l.1 .1M607.0 144.3l.1 .1M614.7 172.2l.1 .1M581.3 144.3l.1 .1M627.8 153.7l.1 .1M600.9 144.8l.1 .1M564.1 148.7l.1 .1M582.3 145.2l.1 .1M661.9 147.7l.1 .1M654.3 146.9l.1 .1M601.6 144.4l.1 .1M551.1 145.3l.1 .1M629.8 146.6l.1 .1M579.3 150.6l.1 .1M631.0 153.1l.1 .1M629.2 157.9l.1 .1M640.7 144.9l.1 .1M652.5 165.4l.1 .1M559.3 151.5l.1 .1M604.8 158.0l.1 .1M658.4 153.1l.1 .1M546.6 145.8l.1 .1M654.1 163.1l.1 .1M600.4 144.8l.1 .1M619.8 157.6l.1 .1M667.3 149.3l.1 .1M589.8 144.4l.1 .1M663.0 145.4l.1 .1M576.1 150.2l.1 .1M657.0 158.1l.1 .1M661.6 148.7l.1 .1M629.4 145.9l.1 .1M572.2 178.5l.1 .1M646.4 152.5l.1 .1M576.8 157.9l.1 .1M557.7 147.5l.1 .1M650.5 149.0l.1 .1M652.9 146.6l.1 .1M601.9 146.3l.1 .1M644.3 151.6l.1 .1M587.8 163.7l.1 .1M637.8 147.6l.1 .1M641.6 155.1l.1 .1M650.7 146.3l.1 .1M617.1 154.1l.1 .1M633.5 147.0l.1 .1M635.4 144.7l.1 .1M638.1 147.9l.1 .1M588.0 150.3l.1 .1M606.0 146.8l.1 .1M575.8 145.2l.1 .1M567.9 151.2l.1 .1M609.1 161.4l.1 .1M565.5 146.9l.1 .1M592.8 146.4l.1 .1M581.9 145.2l.1 .1M659.9 166.9l.1 .1M661.3 160.9l.1 .1M663.4 152.5l.1 .1M594.5 151.2l.1 .1M624.6 145.5l.1 .1M660.0 167.0l.1 .1M598.5 169.1l.1 .1M667.6 152.1l.1 .1M649.7 153.0l.1 .1M612.6 158.1l.1 .1M587.5 158.4l.1 .1M597.5 156.2l.1 .1M646.2 145.9l.1 .1M622.5 155.0l.1 .1M576.2 148.6l.1 .1M626.1 156.8l.1 .1M645.4 151.8l.1 .1M642.2 144.4l.1 .1M560.9 157.4l.1 .1M650.9 144.5l.1 .1M609.9 146.3l.1 .1M567.6 162.4l.1 .1M551.1 148.9l.1 .1M650.4 158.3l.1 .1M642.0 148.1l.1 .1M643.7 145.3l.1 .1M634.1 155.5l.1 .1M580.6 144.4l.1 .1M646.9 151.6l.1 .1M628.8 148.8l.1 .1M615.9 148.4l.1 .1M568.6 146.5l.1 .1M612.3 158.2l.1 .1M580.2 146.9l.1 .1M607.9 147.0l.1 .1M599.6 145.4l.1 .1M591.6 147.2l.1 .1M549.2 147.3l.1 .1M581.2 159.0l.1 .1M660.8 153.6l.1 .1M586.9 147.5l.1 .1M660.6 151.9l.1 .1M623.8 149.4l.1 .1M582.4 145.0l.1 .1M624.6 148.4l.1 .1M635.1 147.5l.1 .1M574.4 156.7l.1 .1M556.2 149.3l.1 .1M615.3 146.9l.1 .1M567.5 156.3l.1 .1M625.6 155.2l.1 .1M551.8 156.0l.1 .1M561.6 149.2l.1 .1M627.7 154.4l.1 .1M666.4 146.0l.1 .1M592.1 159.7l.1 .1M639.6 145.9l.1 .1M650.5 147.0l.1 .1M649.5 146.4l.1 .1M616.7 147.2l.1 .1M620.6 146.8l.1 .1M588.6 144.6l.1 .1M616.9 147.2l.1 .1M604.8 155.3l.1 .1M562.8 165.0l.1 .1M592.9 153.2l.1 .1M585.1 145.8l.1 .1M604.1 147.4l.1 .1M641.9 148.8l.1 .1M593.2 155.0l.1 .1M617.7 154.2l.1 .1M646.3 144.4l.1 .1M623.0 159.0l.1 .1M656.4 149.0l.1 .1M615.8 171.0l.1 .1M607.7 144.6l.1 .1M601.5 145.8l.1 .1M571.0 150.5l.1 .1M605.0 144.7l.1 .1M608.7 152.0l.1 .1M667.5 155.8l.1 .1M585.3 168.9l.1 .1M615.3 148.3l.1 .1M660.2 145.9l.1 .1M663.2 154.2l.1 .1M605.9 147.5l.1 .1M556.4 149.2l.1 .1M625.1 146.3l.1 .1M551.5 162.0l.1 .1M606.8 147.0l.1 .1M576.4 147.8l.1 .1M582.2 145.5l.1 .1M578.5 144.6l.1 .1M652.7 144.7l.1 .1M605.2 151.3l.1 .1M627.8 146.9l.1 .1M647.6 147.1l.1 .1M572.7 157.0l.1 .1M588.7 149.2l.1 .1M572.9 172.2l.1 .1M571.4 144.5l.1 .1M620.5 163.7l.1 .1M604.4 153.3l.1 .1M596.8 152.6l.1 .1M624.4 149.3l.1 .1M660.4 155.0l.1 .1M646.0 151.2l.1 .1M568.9 145.4l.1 .1M551.7 160.9l.1 .1M573.8 148.4l.1 .1M581.2 149.6l.1 .1M556.4 160.3l.1 .1M662.2 156.1l.1 .1M643.6 147.8l.1 .1M571.6 150.8l.1 .1M559.4 149.2l.1 .1M552.8 146.7l.1 .1M653.4 145.6l.1 .1M650.9 149.1l.1 .1M581.8 148.4l.1 .1M588.4 148.8l.1 .1M548.1 169.4l.1 .1M570.9 145.7l.1 .1M591.8 149.1l.1 .1M619.3 145.1l.1 .1M611.4 158.8l.1 .1M605.5 147.0l.1 .1M549.0 146.1l.1 .1M591.1 146.7l.1 .1M594.4 154.4l.1 .1M558.3 158.4l.1 .1M565.5 146.8l.1 .1M564.3 154.8l.1 .1M606.3 149.9l.1 .1M608.8 153.3l.1 .1M661.2 146.5l.1 .1M564.0 148.7l.1 .1M607.4 149.6l.1 .1M548.7 144.9l.1 .1M632.5 148.9l.1 .1M623.4 147.3l.1 .1M633.7 146.3l.1 .1M609.8 155.0l.1 .1M594.3 161.4l.1 .1M544.8 147.5l.1 .1M638.4 147.4l.1 .1M597.0 154.3l.1 .1M618.9 148.2l.1 .1M608.4 144.6l.1 .1M559.3 157.0l.1 .1M605.2 144.8l.1 .1M590.5 150.7l.1 .1M659.6 147.9l.1 .1M665.3 178.3l.1 .1M583.3 145.5l.1 .1M656.2 146.3l.1 .1M612.7 150.8l.1 .1M642.3 144.8l.1 .1M572.0 169.8l.1 .1M545.1 146.6l.1 .1M572.9 156.9l.1 .1M651.6 145.5l.1 .1M598.7 151.9l.1 .1M662.2 146.1l.1 .1M635.2 147.1l.1 .1M591.7 151.2l.1 .1M595.2 169.0l.1 .1M571.8 146.3l.1 .1M599.6 144.5l.1 .1M634.1 162.5l.1 .1M581.2 147.1l.1 .1M645.6 155.3l.1 .1M574.7 146.8l.1 .1M644.4 146.3l.1 .1M627.3 148.7l.1 .1M642.8 151.9l.1 .1M546.7 149.5l.1 .1M573.6 151.6l.1 .1M616.1 157.4l.1 .1M628.8 152.2l.1 .1M644.9 157.3l.1 .1M646.0 161.3l.1 .1M636.1 146.2l.1 .1M637.0 147.2l.1 .1M614.8 149.8l.1 .1M566.3 144.9l.1 .1M555.9 145.1l.1 .1M656.5 158.0l.1 .1M600.1 147.2l.1 .1M629.9 150.0l.1 .1M664.2 144.8l.1 .1M557.8 144.4l.1 .1M584.4 153.0l.1 .1M613.0 151.2l.1 .1M607.9 148.7l.1 .1M593.9 155.7l.1 .1M616.7 154.1l.1 .1M556.8 159.0l.1 .1M546.6 146.6l.1 .1M611.0 144.4l.1 .1M566.3 148.4l.1 .1M568.5 145.4l.1 .1M613.2 159.4l.1 .1M614.2 147.9l.1 .1M604.7 148.1l.1 .1M665.6 144.7l.1 .1M633.5 150.2l.1 .1M556.1 159.9l.1 .1M571.4 144.6l.1 .1M567.8 145.5l.1 .1M646.6 147.6l.1 .1M633.1 150.3l.1 .1M658.4 148.9l.1 .1M559.7 158.7l.1 .1M661.6 151.9l.1 .1M612.0 155.9l.1 .1M554.7 147.7l.1 .1M554.9 146.4l.1 .1M640.1 144.7l.1 .1M589.2 149.0l.1 .1M583.2 152.7l.1 .1M572.3 161.0l.1 .1M571.0 145.7l.1 .1M653.3 165.2l.1 .1M658.8 145.8l.1 .1M630.2 144.4l.1 .1M571.8 148.4l.1 .1M571.4 150.4l.1 .1M636.1 149.3l.1 .1M655.5 148.0l.1 .1M566.3 159.6l.1 .1M545.0 145.8l.1 .1M552.9 147.2l.1 .1M558.7 146.7l.1 .1M575.6 148.7l.1 .1M642.5 162.1l.1 .1M610.2 147.2l.1 .1M551.3 144.8l.1 .1M554.5 155.9l.1 .1M573.0 147.3l.1 .1M570.5 145.8l.1 .1M659.4 145.9l.1 .1M624.3 146.1l.1 .1M659.1 146.1l.1 .1M606.9 159.6l.1 .1M633.6 164.1l.1 .1M608.5 159.7l.1 .1M553.1 144.8l.1 .1M662.8 156.8l.1 .1M653.8 147.9l.1 .1M582.7 160.4l.1 .1M640.2 153.9l.1 .1M572.3 151.8l.1 .1M584.8 144.6l.1 .1M608.4 146.4l.1 .1M593.3 147.2l.1 .1M560.7 146.8l.1 .1M626.3 146.5l.1 .1M654.5 146.5l.1 .1M600.6 158.2l.1 .1M624.7 146.6l.1 .1M644.9 159.2l.1 .1M570.1 145.8l.1 .1M660.5 144.6l.1 .1M592.4 146.4l.1 .1M579.8 154.2l.1 .1M545.7 153.0l.1 .1M547.0 147.8l.1 .1M579.1 155.9l.1 .1M637.4 155.7l.1 .1M580.8 145.0l.1 .1M628.5 155.0l.1 .1M560.1 147.9l.1 .1M586.9 145.5l.1 .1M624.6 148.8l.1 .1M629.4 158.1l.1 .1M609.2 149.8l.1 .1M550.1 150.7l.1 .1M611.1 144.5l.1 .1M651.0 148.1l.1 .1M586.8 146.0l.1 .1M624.7 146.2l.1 .1M556.1 155.3l.1 .1M628.0 147.5l.1 .1M639.1 153.4l.1 .1M633.0 145.4l.1 .1M653.6 148.3l.1 .1M647.7 145.7l.1 .1M619.0 161.1l.1 .1M586.7 145.5l.1 .1M653.0 147.4l.1 .1M595.0 145.5l.1 .1M609.6 147.4l.1 .1M547.4 153.1l.1 .1M553.8 146.0l.1 .1M623.9 148.8l.1 .1M633.6 154.7l.1 .1M666.7 145.4l.1 .1M567.8 144.3l.1 .1M623.7 151.0l.1 .1M628.1 147.6l.1 .1M582.5 148.3l.1 .1M596.8 146.8l.1 .1M632.2 145.0l.1 .1M615.5 145.5l.1 .1M644.5 162.1l.1 .1M566.6 155.8l.1 .1M545.2 155.4l.1 .1M577.8 146.0l.1 .1M665.4 152.0l.1 .1M605.5 145.8l.1 .1M633.4 146.5l.1 .1M656.0 144.3l.1 .1M565.7 146.7l.1 .1M634.0 156.2l.1 .1M652.6 154.8l.1 .1M596.9 148.3l.1 .1M604.9 155.0l.1 .1M619.8 146.1l.1 .1M638.2 148.1l.1 .1M641.9 158.2l.1 .1M612.1 144.7l.1 .1M549.4 148.3l.1 .1M544.5 146.5l.1 .1M570.1 152.6l.1 .1M651.0 145.5l.1 .1M628.7 146.3l.1 .1M622.2 151.7l.1 .1M570.5 144.8l.1 .1M591.9 156.1l.1 .1M605.1 146.7l.1 .1M631.8 144.5l.1 .1M663.5 154.3l.1 .1M629.2 146.8l.1 .1M650.3 163.2l.1 .1M662.1 148.4l.1 .1M613.6 149.6l.1 .1M566.8 150.1l.1 .1M606.1 147.6l.1 .1M613.2 154.8l.1 .1M664.1 147.1l.1 .1M565.6 144.8l.1 .1M665.1 147.1l.1 .1M593.3 148.5l.1 .1M572.3 156.1l.1 .1M553.1 155.2l.1 .1M660.2 150.4l.1 .1M573.9 150.5l.1 .1M643.5 145.8l.1 .1M659.0 146.3l.1 .1M556.1 148.0l.1 .1M635.2 153.1l.1 .1M544.9 151.8l.1 .1M604.5 147.4l.1 .1M555.4 161.0l.1 .1M587.2 148.1l.1 .1M599.7 150.9l.1 .1M603.6 146.8l.1 .1M548.7 149.6l.1 .1M575.0 146.8l.1 .1M587.9 146.4l.1 .1M589.1 146.4l.1 .1M572.6 152.1l.1 .1M553.3 165.1l.1 .1M633.7 146.6l.1 .1M581.5 151.5l.1 .1M632.3 146.5l.1 .1M643.5 147.4l.1 .1M562.4 160.5l.1 .1M572.6 151.9l.1 .1M654.7 149.9l.1 .1M652.3 151.1l.1 .1M578.9 147.0l.1 .1M588.3 149.5l.1 .1M575.0 149.3l.1 .1M619.1 145.8l.1 .1M572.2 145.0l.1 .1M629.2 144.9l.1 .1M577.6 145.4l.1 .1M608.3 157.5l.1 .1M584.3 148.5l.1 .1M640.0 149.2l.1 .1M560.7 147.3l.1 .1M630.6 145.6l.1 .1M659.0 148.7l.1 .1M632.2 145.9l.1 .1M578.6 147.6l.1 .1M583.4 152.9l.1 .1M599.3 145.9l.1 .1M554.1 148.0l.1 .1M593.1 172.9l.1 .1M559.4 147.3l.1 .1M566.4 145.3l.1 .1M611.7 144.7l.1 .1M649.1 151.3l.1 .1M643.4 146.3l.1 .1M550.8 153.6l.1 .1M568.7 145.7l.1 .1M636.2 158.2l.1 .1M573.7 144.7l.1 .1M621.5 145.4l.1 .1M660.7 148.0l.1 .1M579.1 156.6l.1 .1M605.8 146.4l.1 .1M642.2 147.8l.1 .1M651.1 145.7l.1 .1M592.5 150.3l.1 .1M586.9 167.6l.1 .1M663.1 154.3l.1 .1M665.6 159.4l.1 .1M639.7 148.2l.1 .1M580.6 156.5l.1 .1M657.8 148.3l.1 .1M581.5 154.6l.1 .1M558.0 154.4l.1 .1M614.7 147.6l.1 .1M545.0 146.7l.1 .1M619.8 150.1l.1 .1M564.3 151.6l.1 .1M549.2 144.7l.1 .1M548.3 149.6l.1 .1M605.5 145.8l.1 .1M628.6 147.4l.1 .1M607.7 145.2l.1 .1M567.9 148.0l.1 .1M659.3 160.6l.1 .1M574.8 167.0l.1 .1M630.1 144.4l.1 .1M586.9 160.0l.1 .1M643.6 146.6l.1 .1M617.0 149.7l.1 .1M608.3 152.7l.1 .1M612.7 155.9l.1 .1M545.0 153.4l.1 .1M655.8 148.7l.1 .1M629.4 148.8l.1 .1M659.2 149.4l.1 .1M578.6 144.8l.1 .1M651.6 145.5l.1 .1M567.4 169.4l.1 .1M574.2 146.5l.1 .1M631.6 150.6l.1 .1M646.2 146.2l.1 .1M605.3 148.3l.1 .1M600.2 147.3l.1 .1M548.5 144.4l.1 .1M579.5 167.7l.1 .1M665.0 147.2l.1 .1M555.1 146.7l.1 .1M593.2 158.1l.1 .1M580.6 151.4l.1 .1M570.8 145.1l.1 .1M610.6 154.2l.1 .1M634.2 151.7l.1 .1M628.0 150.0l.1 .1M566.5 145.7l.1 .1M648.0 148.1l.1 .1M640.2 145.9l.1 .1M634.8 156.2l.1 .1M559.6 145.0l.1 .1M570.8 155.5l.1 .1M616.0 144.4l.1 .1M645.7 152.4l.1 .1M617.7 152.8l.1 .1M658.6 147.3l.1 .1M599.8 146.3l.1 .1M615.0 145.0l.1 .1M607.6 152.1l.1 .1M549.2 147.4l.1 .1M548.9 151.1l.1 .1M620.3 153.9l.1 .1M625.6 157.8l.1 .1M578.5 154.0l.1 .1M616.3 163.5l.1 .1M591.3 149.6l.1 .1M622.0 156.9l.1 .1M619.6 149.7l.1 .1M666.3 154.7l.1 .1M662.8 145.7l.1 .1M597.6 146.5l.1 .1M644.4 153.3l.1 .1M581.8 147.1l.1 .1M603.2 149.4l.1 .1M580.9 147.7l.1 .1M659.2 144.3l.1 .1M657.0 147.2l.1 .1M557.3 150.9l.1 .1M590.1 145.6l.1 .1M556.6 145.7l.1 .1M604.6 154.1l.1 .1M607.6 145.3l.1 .1M647.4 152.0l.1 .1M569.9 148.1l.1 .1M616.8 144.5l.1 .1M667.0 149.3l.1 .1M550.3 146.2l.1 .1M629.8 149.4l.1 .1M577.8 146.0l.1 .1M648.4 145.6l.1 .1M577.7 150.1l.1 .1M575.3 147.3l.1 .1M646.7 144.4l.1 .1M582.8 154.2l.1 .1M659.0 147.1l.1 .1M630.7 146.3l.1 .1M581.4 161.2l.1 .1M583.0 154.7l.1 .1M561.6 170.7l.1 .1M630.0 145.5l.1 .1M600.3 147.1l.1 .1M563.4 157.5l.1 .1M620.1 146.0l.1 .1M599.7 146.0l.1 .1M622.4 145.9l.1 .1M549.7 151.5l.1 .1M659.9 154.8l.1 .1M641.2 146.7l.1 .1M655.2 146.7l.1 .1M631.2 165.5l.1 .1M586.5 147.8l.1 .1M653.0 145.6l.1 .1M631.4 162.6l.1 .1M585.1 161.3l.1 .1M603.1 144.8l.1 .1M647.4 150.4l.1 .1M594.7 151.4l.1 .1M573.6 148.8l.1 .1M662.6 147.6l.1 .1M619.6 161.6l.1 .1M583.8 152.6l.1 .1M655.5 151.3l.1 .1M664.6 144.8l.1 .1M549.3 145.5l.1 .1M593.8 144.4l.1 .1M573.6 153.4l.1 .1M638.7 163.8l.1 .1M640.4 145.2l.1 .1M631.9 145.8l.1 .1M642.8 144.6l.1 .1M629.0 147.1l.1 .1M605.6 144.7l.1 .1M561.8 147.5l.1 .1M664.2 148.0l.1 .1M662.9 144.5l.1 .1M643.4 147.1l.1 .1M615.9 155.7l.1 .1M663.9 150.8l.1 .1M643.9 148.2l.1 .1M583.8 148.7l.1 .1M561.0 182.5l.1 .1M635.9 165.0l.1 .1M653.8 145.5l.1 .1M632.9 144.5l.1 .1M638.3 166.6l.1 .1M630.1 161.4l.1 .1M656.1 153.2l.1 .1M589.3 162.2l.1 .1M590.7 145.5l.1 .1M655.8 145.0l.1 .1M664.8 148.0l.1 .1M600.3 145.0l.1 .1M589.5 150.5l.1 .1M576.4 152.7l.1 .1M653.8 144.4l.1 .1M584.0 149.5l.1 .1M556.4 154.8l.1 .1M604.8 146.7l.1 .1M616.3 157.5l.1 .1M621.3 148.4l.1 .1M590.1 162.6l.1 .1M610.4 145.6l.1 .1M574.0 145.2l.1 .1M599.4 151.6l.1 .1M543.8 145.5l.1 .1M648.1 168.8l.1 .1M612.9 151.1l.1 .1M663.8 148.7l.1 .1M661.1 176.2l.1 .1M625.2 151.3l.1 .1M572.3 162.0l.1 .1M614.1 148.9l.1 .1M616.8 146.9l.1 .1M658.2 150.2l.1 .1M594.2 148.5l.1 .1M544.0 149.7l.1 .1M547.2 144.4l.1 .1M651.2 158.6l.1 .1M575.9 153.9l.1 .1M562.3 150.7l.1 .1M608.8 149.5l.1 .1M558.7 151.9l.1 .1M616.7 162.1l.1 .1M633.7 144.9l.1 .1M666.8 155.9l.1 .1M584.1 146.1l.1 .1M630.4 159.5l.1 .1M618.8 145.0l.1 .1M642.8 146.6l.1 .1M633.2 145.0l.1 .1M563.3 147.7l.1 .1M642.8 146.2l.1 .1M663.4 164.3l.1 .1M653.1 144.5l.1 .1M592.0 151.0l.1 .1M632.6 144.5l.1 .1M570.4 149.5l.1 .1M553.6 149.4l.1 .1M648.6 163.9l.1 .1M666.8 153.2l.1 .1M603.7 145.6l.1 .1M655.7 165.4l.1 .1M557.4 151.2l.1 .1M612.2 148.9l.1 .1M579.2 149.5l.1 .1M581.1 145.9l.1 .1M663.0 146.1l.1 .1M569.3 145.5l.1 .1M559.6 171.8l.1 .1M592.3 144.4l.1 .1M625.2 149.8l.1 .1M657.3 158.1l.1 .1M643.0 144.3l.1 .1M619.2 145.9l.1 .1M558.7 156.1l.1 .1M659.1 149.6l.1 .1M623.0 147.8l.1 .1M588.8 154.2l.1 .1M629.7 145.0l.1 .1M658.7 144.4l.1 .1M612.3 148.7l.1 .1M610.1 145.3l.1 .1M624.6 148.2l.1 .1M579.2 144.9l.1 .1M639.5 149.5l.1 .1M547.0 151.6l.1 .1M592.7 163.5l.1 .1M665.7 151.1l.1 .1M588.2 156.6l.1 .1M606.7 146.2l.1 .1M560.3 149.0l.1 .1M648.1 150.7l.1 .1M620.2 145.6l.1 .1M570.0 149.5l.1 .1M560.7 157.5l.1 .1M552.8 154.6l.1 .1M577.4 159.3l.1 .1M626.0 152.4l.1 .1M639.3 151.9l.1 .1M598.3 146.4l.1 .1M632.0 150.3l.1 .1M587.6 147.8l.1 .1M555.1 150.9l.1 .1M593.3 149.5l.1 .1M584.3 152.1l.1 .1M630.0 144.6l.1 .1M552.4 146.8l.1 .1M661.4 144.5l.1 .1M561.0 149.0l.1 .1M612.9 144.7l.1 .1M549.4 148.1l.1 .1M606.6 149.6l.1 .1M557.1 150.1l.1 .1M621.0 144.3l.1 .1M606.8 144.2l.1 .1M651.0 147.6l.1 .1M561.9 149.4l.1 .1M645.4 145.3l.1 .1M617.5 146.0l.1 .1M581.5 147.2l.1 .1M620.5 147.3l.1 .1M585.2 147.3l.1 .1M649.0 147.3l.1 .1M638.0 169.8l.1 .1M590.8 154.0l.1 .1M627.0 153.1l.1 .1M573.5 174.3l.1 .1M607.1 144.2l.1 .1M583.0 152.6l.1 .1M568.2 168.8l.1 .1M649.3 151.2l.1 .1M591.5 173.0l.1 .1M561.4 153.2l.1 .1M560.4 149.0l.1 .1M609.9 154.4l.1 .1M664.5 144.6l.1 .1M649.5 148.9l.1 .1M616.5 161.3l.1 .1M627.9 148.2l.1 .1M566.1 148.9l.1 .1M638.4 144.2l.1 .1M632.3 161.2l.1 .1M647.7 149.4l.1 .1M578.4 147.0l.1 .1M653.3 154.7l.1 .1M609.2 149.8l.1 .1M591.9 150.7l.1 .1M552.2 148.0l.1 .1M643.4 150.3l.1 .1M630.7 147.2l.1 .1M628.9 153.2l.1 .1M598.9 145.5l.1 .1M653.1 150.5l.1 .1M556.4 144.4l.1 .1M641.9 145.7l.1 .1M610.0 145.4l.1 .1M629.6 146.7l.1 .1M577.5 148.0l.1 .1M654.3 149.4l.1 .1M609.9 157.8l.1 .1M658.2 152.8l.1 .1M620.2 152.7l.1 .1M557.7 154.3l.1 .1M576.1 150.0l.1 .1M554.2 148.9l.1 .1M607.7 146.5l.1 .1M665.1 155.7l.1 .1M620.8 169.5l.1 .1M592.0 155.6l.1 .1M581.8 145.1l.1 .1M613.4 151.9l.1 .1M570.5 145.0l.1 .1M660.3 152.1l.1 .1M607.9 148.2l.1 .1M635.5 159.7l.1 .1M610.9 151.9l.1 .1M584.0 155.8l.1 .1M644.1 144.6l.1 .1M556.0 152.0l.1 .1M601.1 163.5l.1 .1M553.4 148.4l.1 .1M643.7 145.3l.1 .1M614.4 152.6l.1 .1M587.8 149.4l.1 .1M664.9 154.8l.1 .1M576.5 144.8l.1 .1M629.2 154.3l.1 .1M560.6 154.6l.1 .1M602.0 147.8l.1 .1M614.0 144.4l.1 .1M605.6 145.4l.1 .1M555.0 154.2l.1 .1M636.3 163.1l.1 .1M555.4 147.3l.1 .1M597.1 152.2l.1 .1M601.9 182.4l.1 .1M585.6 150.7l.1 .1M594.4 145.3l.1 .1M606.4 145.9l.1 .1M633.5 146.2l.1 .1M627.6 157.5l.1 .1M550.3 146.5l.1 .1M593.3 153.7l.1 .1M558.6 169.7l.1 .1M650.0 150.7l.1 .1M592.4 146.7l.1 .1M545.6 146.3l.1 .1M593.3 166.7l.1 .1M544.2 156.2l.1 .1M604.3 160.0l.1 .1M581.5 156.4l.1 .1M600.8 146.0l.1 .1M584.8 147.8l.1 .1M547.3 145.5l.1 .1M561.7 144.3l.1 .1M647.1 145.8l.1 .1M613.2 151.7l.1 .1M582.7 144.7l.1 .1M654.6 164.8l.1 .1M588.3 159.8l.1 .1M574.7 151.4l.1 .1M609.8 151.2l.1 .1M550.3 150.3l.1 .1M578.7 146.0l.1 .1M582.2 149.2l.1 .1M605.2 147.4l.1 .1M588.1 149.9l.1 .1M614.6 147.1l.1 .1M635.4 150.9l.1 .1M558.6 151.0l.1 .1M622.9 147.2l.1 .1M656.1 152.7l.1 .1M617.9 153.2l.1 .1M577.0 150.7l.1 .1M589.0 150.1l.1 .1M571.1 147.0l.1 .1M663.6 165.6l.1 .1M607.4 146.7l.1 .1M646.4 144.7l.1 .1M649.3 146.3l.1 .1M607.3 146.0l.1 .1M617.5 152.2l.1 .1M634.7 160.4l.1 .1M592.1 148.7l.1 .1M600.0 147.7l.1 .1M547.3 156.2l.1 .1M630.3 146.7l.1 .1M642.8 145.0l.1 .1M653.2 147.2l.1 .1M639.4 146.1l.1 .1M584.1 157.6l.1 .1M639.8 149.9l.1 .1M614.8 163.7l.1 .1M654.1 159.5l.1 .1M569.1 168.3l.1 .1M619.9 148.4l.1 .1M556.3 150.7l.1 .1M657.7 150.1l.1 .1M566.1 149.5l.1 .1M656.4 146.7l.1 .1M554.0 147.9l.1 .1M614.6 146.5l.1 .1M604.6 145.4l.1 .1M626.0 148.7l.1 .1M567.0 146.4l.1 .1M566.2 148.5l.1 .1M592.4 149.8l.1 .1M566.6 157.2l.1 .1M578.2 149.4l.1 .1M560.4 145.2l.1 .1M608.0 149.8l.1 .1M627.9 150.8l.1 .1M664.0 144.7l.1 .1M575.9 163.2l.1 .1M642.1 145.5l.1 .1M623.1 144.8l.1 .1M663.3 146.7l.1 .1M604.5 145.2l.1 .1M559.6 145.1l.1 .1M641.3 152.8l.1 .1M666.8 145.4l.1 .1M580.3 145.3l.1 .1M575.2 146.2l.1 .1M545.1 150.4l.1 .1M644.8 155.4l.1 .1M624.0 165.6l.1 .1M579.4 145.2l.1 .1M659.3 145.2l.1 .1M632.4 150.6l.1 .1M636.7 154.2l.1 .1M566.4 167.8l.1 .1M602.3 147.3l.1 .1M605.7 150.7l.1 .1M582.7 146.2l.1 .1M553.1 151.9l.1 .1M554.5 156.2l.1 .1M652.0 148.0l.1 .1M608.0 145.6l.1 .1M557.7 145.8l.1 .1M655.2 150.7l.1 .1M657.3 147.8l.1 .1M627.8 146.9l.1 .1M565.7 158.1l.1 .1M578.6 153.2l.1 .1M561.5 147.7l.1 .1M579.5 159.8l.1 .1M648.6 147.7l.1 .1M615.2 147.8l.1 .1M641.4 150.3l.1 .1M653.3 148.3l.1 .1M666.8 146.0l.1 .1M644.6 144.3l.1 .1M652.3 149.2l.1 .1M554.8 145.4l.1 .1M594.9 154.3l.1 .1M648.6 146.4l.1 .1M569.6 150.5l.1 .1M618.0 150.1l.1 .1M608.5 144.6l.1 .1M566.8 150.4l.1 .1M590.2 159.8l.1 .1M582.9 149.8l.1 .1M665.1 148.1l.1 .1M601.5 147.5l.1 .1M594.1 146.2l.1 .1M662.8 146.5l.1 .1M561.6 163.0l.1 .1M654.5 154.3l.1 .1M660.2 151.8l.1 .1M656.9 146.4l.1 .1M628.1 154.6l.1 .1M633.5 148.5l.1 .1M565.7 164.1l.1 .1M622.6 144.4l.1 .1M655.1 144.7l.1 .1M667.2 157.3l.1 .1M596.9 145.2l.1 .1M630.8 144.7l.1 .1M557.3 145.0l.1 .1M563.7 145.8l.1 .1M657.8 158.2l.1 .1M630.4 152.5l.1 .1M568.9 148.1l.1 .1M553.8 145.7l.1 .1M578.7 144.9l.1 .1M552.4 149.7l.1 .1M605.5 149.9l.1 .1M553.4 146.7l.1 .1M649.2 147.7l.1 .1M631.7 153.4l.1 .1M564.9 146.7l.1 .1M554.3 154.3l.1 .1M588.2 148.4l.1 .1M549.9 145.7l.1 .1M614.6 146.7l.1 .1M644.6 149.0l.1 .1M663.0 151.2l.1 .1M581.3 146.0l.1 .1M561.5 147.2l.1 .1M605.7 146.5l.1 .1M579.8 147.6l.1 .1M634.0 154.5l.1 .1M611.1 161.6l.1 .1M617.6 150.2l.1 .1M584.5 161.8l.1 .1M606.5 157.3l.1 .1M640.9 154.2l.1 .1M617.2 146.6l.1 .1M564.0 148.3l.1 .1M661.9 147.5l.1 .1M559.9 147.0l.1 .1M602.3 152.1l.1 .1M559.5 150.7l.1 .1M599.3 149.3l.1 .1M602.5 150.0l.1 .1M666.3 149.7l.1 .1M550.2 145.0l.1 .1M558.4 147.2l.1 .1M636.5 144.4l.1 .1M544.4 156.6l.1 .1M569.9 145.6l.1 .1M666.6 147.5l.1 .1M591.9 144.8l.1 .1M568.6 149.3l.1 .1M631.0 147.0l.1 .1M642.3 152.0l.1 .1M585.1 152.4l.1 .1M545.7 145.2l.1 .1M642.4 151.7l.1 .1M618.5 152.5l.1 .1M549.5 147.8l.1 .1M557.5 148.3l.1 .1M638.6 146.6l.1 .1M654.4 150.2l.1 .1M633.1 157.7l.1 .1M562.6 163.0l.1 .1M622.1 153.5l.1 .1M558.7 149.7l.1 .1M655.9 148.9l.1 .1M659.0 152.8l.1 .1M551.8 154.5l.1 .1M648.4 147.7l.1 .1M604.4 152.9l.1 .1M592.4 148.4l.1 .1M587.6 147.3l.1 .1M616.9 148.6l.1 .1M564.6 145.4l.1 .1M614.8 151.0l.1 .1M608.2 148.8l.1 .1M667.4 147.2l.1 .1M609.6 146.6l.1 .1M618.3 146.6l.1 .1M596.1 146.7l.1 .1M585.8 144.5l.1 .1M620.1 148.3l.1 .1M549.9 154.3l.1 .1M573.7 146.9l.1 .1M656.1 148.4l.1 .1M633.4 162.4l.1 .1M605.7 162.9l.1 .1M560.4 150.8l.1 .1M576.6 153.0l.1 .1M572.4 149.7l.1 .1M592.7 149.1l.1 .1M608.5 158.6l.1 .1M575.6 154.2l.1 .1M609.1 149.0l.1 .1M595.0 146.8l.1 .1M562.3 144.4l.1 .1M628.0 147.0l.1 .1M632.1 150.2l.1 .1M570.7 144.9l.1 .1M560.6 162.2l.1 .1M612.6 145.5l.1 .1M651.9 148.4l.1 .1M616.0 157.5l.1 .1M598.7 148.3l.1 .1M557.4 173.9l.1 .1M638.3 148.7l.1 .1M555.5 151.8l.1 .1M658.7 155.6l.1 .1M565.0 153.6l.1 .1M561.5 159.8l.1 .1M630.6 144.3l.1 .1M640.4 152.2l.1 .1M552.3 149.4l.1 .1M623.8 144.5l.1 .1M586.6 154.0l.1 .1M590.6 154.1l.1 .1M628.8 148.4l.1 .1M624.0 152.2l.1 .1M629.1 145.2l.1 .1M636.9 154.6l.1 .1M617.2 151.0l.1 .1M667.1 146.1l.1 .1M575.8 168.7l.1 .1M636.9 151.5l.1 .1M579.5 148.6l.1 .1M563.0 147.2l.1 .1M608.0 155.3l.1 .1M665.4 145.8l.1 .1M611.8 151.4l.1 .1M551.9 145.0l.1 .1M558.8 148.9l.1 .1M572.8 151.1l.1 .1M623.9 161.6l.1 .1M650.4 144.6l.1 .1M570.4 152.0l.1 .1M627.4 147.4l.1 .1M593.1 159.5l.1 .1M660.3 155.5l.1 .1M620.4 165.1l.1 .1M552.9 156.0l.1 .1M649.4 152.7l.1 .1M649.0 147.1l.1 .1M647.1 147.2l.1 .1M612.4 147.0l.1 .1M558.5 150.9l.1 .1M586.9 144.8l.1 .1M622.9 148.1l.1 .1M660.4 166.4l.1 .1M631.5 145.1l.1 .1M551.8 145.1l.1 .1M654.7 144.9l.1 .1M608.1 152.7l.1 .1M621.2 150.1l.1 .1M602.7 145.0l.1 .1M547.6 160.6l.1 .1M552.7 152.7l.1 .1M565.6 149.4l.1 .1M551.5 144.7l.1 .1M664.3 148.0l.1 .1M598.4 145.3l.1 .1M588.9 146.7l.1 .1M592.8 145.9l.1 .1M561.0 171.0l.1 .1M642.2 156.4l.1 .1M629.4 148.4l.1 .1M666.5 149.7l.1 .1M637.6 144.6l.1 .1M624.7 156.0l.1 .1M550.3 168.4l.1 .1M636.2 150.7l.1 .1M610.0 144.7l.1 .1M626.9 155.8l.1 .1M645.0 147.5l.1 .1M572.0 161.0l.1 .1M645.5 146.2l.1 .1M596.9 153.8l.1 .1M664.8 176.5l.1 .1M590.8 150.4l.1 .1M545.3 144.8l.1 .1M597.3 147.6l.1 .1M571.4 144.8l.1 .1M636.2 157.9l.1 .1M556.8 147.3l.1 .1M655.8 162.6l.1 .1M628.3 154.1l.1 .1M577.2 152.1l.1 .1M543.9 149.8l.1 .1M566.6 146.9l.1 .1M633.5 145.0l.1 .1M583.0 148.2l.1 .1M623.0 154.6l.1 .1M655.7 151.9l.1 .1M599.4 145.6l.1 .1M634.8 144.7l.1 .1M547.6 153.7l.1 .1M552.5 147.1l.1 .1M618.8 155.8l.1 .1M630.4 146.1l.1 .1M652.2 162.6l.1 .1M546.5 147.6l.1 .1M576.3 147.4l.1 .1M584.7 152.6l.1 .1M578.3 157.1l.1 .1M658.8 159.5l.1 .1M548.0 149.6l.1 .1M649.8 154.8l.1 .1M633.9 145.2l.1 .1M583.1 144.9l.1 .1M563.0 146.5l.1 .1M666.0 151.2l.1 .1M660.6 149.0l.1 .1M559.6 146.3l.1 .1M645.2 146.5l.1 .1M586.8 146.9l.1 .1M619.1 158.2l.1 .1M651.7 147.7l.1 .1M568.6 145.3l.1 .1M604.8 150.8l.1 .1M644.6 152.1l.1 .1M565.4 152.1l.1 .1M572.8 153.0l.1 .1M580.5 144.9l.1 .1M606.2 147.5l.1 .1M622.2 145.1l.1 .1M666.4 147.5l.1 .1M646.7 148.7l.1 .1M618.7 155.5l.1 .1M554.3 151.7l.1 .1M663.6 160.6l.1 .1M553.7 161.5l.1 .1M582.8 145.9l.1 .1M575.4 145.5l.1 .1M616.3 144.9l.1 .1M585.2 158.3l.1 .1M651.2 156.5l.1 .1M650.7 150.0l.1 .1M619.4 146.2l.1 .1M544.1 151.3l.1 .1M575.9 173.9l.1 .1M641.7 149.2l.1 .1M559.2 148.7l.1 .1M651.4 175.5l.1 .1M583.8 148.9l.1 .1M582.5 144.2l.1 .1M637.4 170.9l.1 .1M624.1 145.3l.1 .1M604.7 144.8l.1 .1M547.0 165.1l.1 .1M663.6 149.0l.1 .1M599.4 144.9l.1 .1M648.2 155.3l.1 .1M615.4 149.4l.1 .1M627.1 149.5l.1 .1M625.4 170.5l.1 .1M572.5 145.9l.1 .1M626.4 148.8l.1 .1M577.5 155.0l.1 .1M554.8 145.7l.1 .1M547.4 154.0l.1 .1M598.3 144.3l.1 .1M665.3 155.4l.1 .1M587.2 146.3l.1 .1M560.1 145.0l.1 .1M642.0 145.7l.1 .1M630.4 152.7l.1 .1M568.6 154.4l.1 .1M609.5 167.9l.1 .1M643.5 146.3l.1 .1M545.8 146.2l.1 .1M559.6 154.0l.1 .1M647.9 176.5l.1 .1M663.5 147.0l.1 .1M611.1 150.3l.1 .1M655.3 146.5l.1 .1M579.6 150.7l.1 .1M580.7 146.8l.1 .1M659.8 146.9l.1 .1M621.4 150.1l.1 .1M551.4 153.5l.1 .1M640.7 150.5l.1 .1M659.1 144.8l.1 .1M545.8 148.8l.1 .1M594.3 169.1l.1 .1M665.1 156.2l.1 .1M577.6 144.4l.1 .1M580.7 148.8l.1 .1M588.6 152.7l.1 .1M594.6 148.7l.1 .1M610.8 154.5l.1 .1M651.7 147.5l.1 .1M666.7 148.2l.1 .1M555.2 145.2l.1 .1M653.8 152.4l.1 .1M586.0 144.6l.1 .1M633.1 153.1l.1 .1M628.8 149.7l.1 .1M615.4 158.2l.1 .1M569.3 147.5l.1 .1M645.0 147.0l.1 .1M588.6 157.5l.1 .1M665.0 146.0l.1 .1M591.8 144.6l.1 .1M630.2 147.8l.1 .1M628.1 144.5l.1 .1M569.3 144.5l.1 .1M638.6 148.2l.1 .1M624.8 145.7l.1 .1M563.0 144.4l.1 .1M553.1 146.7l.1 .1M615.0 155.5l.1 .1M601.6 156.3l.1 .1M547.2 149.8l.1 .1M582.6 162.8l.1 .1M649.0 151.2l.1 .1M586.4 147.8l.1 .1M643.4 154.1l.1 .1M593.8 160.7l.1 .1M606.2 147.0l.1 .1M627.1 150.4l.1 .1M621.7 156.3l.1 .1M639.6 146.2l.1 .1M647.4 154.4l.1 .1M593.3 144.9l.1 .1M592.2 157.3l.1 .1M548.3 145.4l.1 .1M547.4 152.6l.1 .1M600.6 147.1l.1 .1M600.3 145.5l.1 .1M552.6 153.3l.1 .1M626.5 146.9l.1 .1M613.4 150.8l.1 .1M587.7 146.5l.1 .1M603.4 162.7l.1 .1M602.0 146.5l.1 .1M614.5 145.0l.1 .1M624.3 163.6l.1 .1M648.2 144.2l.1 .1M548.1 145.7l.1 .1M609.7 146.4l.1 .1M666.4 144.2l.1 .1M544.8 147.8l.1 .1M664.9 152.1l.1 .1M563.4 144.4l.1 .1M588.8 145.1l.1 .1M547.5 147.5l.1 .1M638.8 166.7l.1 .1M621.7 146.5l.1 .1M642.9 148.7l.1 .1M662.1 146.1l.1 .1M621.2 153.2l.1 .1M624.4 149.9l.1 .1M654.0 144.4l.1 .1M568.2 148.8l.1 .1M633.1 147.2l.1 .1M570.5 154.7l.1 .1M666.2 147.5l.1 .1M592.4 144.7l.1 .1M633.1 165.2l.1 .1M599.4 149.2l.1 .1M636.9 144.7l.1 .1M552.8 147.0l.1 .1M554.4 167.8l.1 .1M629.8 148.5l.1 .1M592.6 149.6l.1 .1M574.0 153.4l.1 .1M595.7 152.5l.1 .1M649.4 167.3l.1 .1M654.2 145.9l.1 .1M585.9 148.2l.1 .1M565.3 145.3l.1 .1M571.0 144.5l.1 .1M628.5 147.6l.1 .1M629.2 160.3l.1 .1M660.9 166.8l.1 .1M579.5 158.1l.1 .1M617.0 144.5l.1 .1M665.3 147.3l.1 .1M660.9 144.4l.1 .1M627.8 146.5l.1 .1M603.1 153.1l.1 .1M647.8 154.3l.1 .1M644.8 145.1l.1 .1M645.9 173.1l.1 .1M617.8 150.3l.1 .1M613.2 144.9l.1 .1M572.6 146.6l.1 .1M575.7 162.4l.1 .1M650.1 145.7l.1 .1M652.4 149.4l.1 .1M655.5 145.5l.1 .1M653.4 147.9l.1 .1M585.8 150.7l.1 .1M557.3 147.2l.1 .1M552.7 149.7l.1 .1M575.6 160.3l.1 .1M591.4 146.8l.1 .1M658.4 148.7l.1 .1M587.4 144.8l.1 .1M607.6 149.5l.1 .1M610.7 158.4l.1 .1M626.6 151.7l.1 .1M598.5 147.4l.1 .1M557.7 145.8l.1 .1M627.4 166.3l.1 .1M648.3 145.1l.1 .1M594.9 147.8l.1 .1M580.5 154.9l.1 .1M640.6 152.1l.1 .1M564.3 151.8l.1 .1M637.0 145.1l.1 .1M588.6 150.6l.1 .1M612.2 163.1l.1 .1M566.4 174.6l.1 .1M665.7 156.3l.1 .1M568.6 145.5l.1 .1M583.2 148.6l.1 .1M556.8 150.3l.1 .1M555.4 144.5l.1 .1M585.9 145.0l.1 .1M615.9 154.8l.1 .1M617.6 145.4l.1 .1M662.9 172.7l.1 .1M630.1 145.2l.1 .1M650.7 144.8l.1 .1M621.9 146.9l.1 .1M599.4 161.0l.1 .1M550.7 146.8l.1 .1M627.0 151.8l.1 .1M554.0 152.0l.1 .1M577.7 147.0l.1 .1M557.4 145.4l.1 .1M650.3 146.0l.1 .1M619.2 158.0l.1 .1M584.4 146.9l.1 .1M560.8 160.1l.1 .1M661.0 145.0l.1 .1M662.0 146.4l.1 .1M556.0 146.6l.1 .1M650.3 146.9l.1 .1M619.2 157.6l.1 .1M598.2 149.4l.1 .1M660.0 147.1l.1 .1M557.1 147.6l.1 .1M590.2 150.2l.1 .1M660.8 146.8l.1 .1M601.2 151.7l.1 .1M566.5 161.8l.1 .1M664.3 145.6l.1 .1M635.6 145.0l.1 .1M556.7 146.5l.1 .1M632.9 164.3l.1 .1M569.6 146.9l.1 .1M637.0 152.8l.1 .1M548.4 146.6l.1 .1M611.4 147.2l.1 .1M639.0 146.7l.1 .1M570.6 148.6l.1 .1M560.7 149.6l.1 .1M664.6 152.6l.1 .1M565.5 146.0l.1 .1M573.9 150.1l.1 .1M606.1 145.0l.1 .1M628.0 145.6l.1 .1M571.2 149.0l.1 .1M611.2 160.5l.1 .1M641.2 154.9l.1 .1M571.2 146.2l.1 .1M607.1 146.5l.1 .1M558.8 153.4l.1 .1M545.7 146.3l.1 .1M658.9 155.2l.1 .1M616.3 150.3l.1 .1M584.2 148.1l.1 .1M543.7 147.4l.1 .1M602.9 146.0l.1 .1M620.1 147.0l.1 .1M591.4 145.3l.1 .1M570.9 162.4l.1 .1M543.9 174.2l.1 .1M663.9 168.0l.1 .1M667.2 161.0l.1 .1M605.9 170.0l.1 .1M566.0 155.7l.1 .1M564.7 155.9l.1 .1M638.9 157.6l.1 .1M639.9 152.1l.1 .1M644.0 146.9l.1 .1M622.8 161.7l.1 .1M572.7 152.1l.1 .1M632.0 147.7l.1 .1M611.7 150.3l.1 .1M545.5 145.2l.1 .1M645.5 148.7l.1 .1M561.2 177.7l.1 .1M578.5 170.8l.1 .1M595.1 169.5l.1 .1M614.4 155.3l.1 .1M551.9 151.2l.1 .1M655.9 145.2l.1 .1M619.9 144.6l.1 .1M622.7 164.7l.1 .1M631.3 150.1l.1 .1M579.8 154.8l.1 .1M581.8 145.0l.1 .1M570.5 151.0l.1 .1M601.3 147.2l.1 .1M623.9 147.1l.1 .1M610.2 163.3l.1 .1M572.5 155.2l.1 .1M650.1 159.5l.1 .1M545.6 145.0l.1 .1M574.5 147.9l.1 .1M563.9 144.3l.1 .1M604.4 156.0l.1 .1M605.3 151.1l.1 .1M665.7 145.0l.1 .1M599.1 163.2l.1 .1M627.1 167.3l.1 .1M558.2 147.9l.1 .1M548.3 174.2l.1 .1M583.9 147.9l.1 .1M591.4 153.2l.1 .1M592.1 144.6l.1 .1M616.5 144.4l.1 .1M626.1 162.8l.1 .1M613.7 166.1l.1 .1M614.4 149.8l.1 .1M582.7 144.4l.1 .1M610.6 148.5l.1 .1M631.2 160.0l.1 .1M665.8 147.0l.1 .1M552.7 150.6l.1 .1M580.2 149.2l.1 .1M619.4 147.7l.1 .1M633.3 156.7l.1 .1M614.5 164.4l.1 .1M616.3 145.0l.1 .1M584.7 158.5l.1 .1M552.4 169.0l.1 .1M571.6 150.7l.1 .1M573.1 150.3l.1 .1M566.9 149.4l.1 .1M657.8 161.9l.1 .1M564.8 149.1l.1 .1M568.9 149.7l.1 .1M648.2 161.9l.1 .1M561.7 145.1l.1 .1M575.4 151.2l.1 .1M565.1 145.1l.1 .1M650.8 144.5l.1 .1M552.6 145.2l.1 .1M546.9 146.5l.1 .1M638.4 154.7l.1 .1M665.5 149.4l.1 .1M615.6 161.7l.1 .1M636.6 145.4l.1 .1M662.1 144.3l.1 .1M627.3 154.8l.1 .1M643.6 145.1l.1 .1M660.4 154.7l.1 .1M590.0 148.1l.1 .1M596.2 158.5l.1 .1M637.0 151.8l.1 .1M613.8 145.8l.1 .1M665.4 155.5l.1 .1M585.5 146.2l.1 .1M564.2 148.4l.1 .1M625.6 144.2l.1 .1M595.4 153.5l.1 .1M593.8 145.2l.1 .1M621.1 145.1l.1 .1M577.7 144.7l.1 .1M605.9 144.6l.1 .1M628.4 161.4l.1 .1M560.7 145.1l.1 .1M554.5 151.8l.1 .1M548.2 150.4l.1 .1M653.1 144.9l.1 .1M583.4 147.7l.1 .1M634.2 144.6l.1 .1M632.2 149.7l.1 .1M591.1 144.9l.1 .1M544.7 146.8l.1 .1M609.1 148.1l.1 .1M633.1 148.9l.1 .1M602.1 148.3l.1 .1M593.9 145.6l.1 .1M597.0 146.0l.1 .1M603.2 151.5l.1 .1M636.9 146.0l.1 .1M646.9 145.2l.1 .1M568.8 158.9l.1 .1M612.9 145.6l.1 .1M607.1 144.5l.1 .1M641.4 148.8l.1 .1M636.6 145.6l.1 .1M607.9 144.8l.1 .1M589.8 147.9l.1 .1M585.3 148.7l.1 .1M626.6 152.6l.1 .1M596.3 144.2l.1 .1M625.0 146.6l.1 .1M640.5 156.4l.1 .1M658.4 160.0l.1 .1M546.1 149.6l.1 .1M653.0 152.7l.1 .1M597.0 160.8l.1 .1M604.9 145.1l.1 .1M580.3 145.4l.1 .1M648.0 145.6l.1 .1M646.1 167.3l.1 .1M652.9 150.3l.1 .1M596.0 160.9l.1 .1M580.5 147.4l.1 .1M644.8 145.7l.1 .1M594.2 146.9l.1 .1M617.2 157.7l.1 .1M620.5 144.5l.1 .1M605.6 144.9l.1 .1M640.2 146.1l.1 .1M599.8 149.9l.1 .1M655.9 153.9l.1 .1M630.2 147.9l.1 .1M661.5 145.3l.1 .1M624.3 144.8l.1 .1M556.0 147.6l.1 .1M593.0 145.2l.1 .1M608.7 145.3l.1 .1M638.2 178.8l.1 .1M600.0 158.6l.1 .1M548.7 145.6l.1 .1M594.3 149.9l.1 .1M582.1 152.0l.1 .1M622.6 146.5l.1 .1M599.5 160.6l.1 .1M546.8 154.3l.1 .1M651.9 149.1l.1 .1M640.0 144.4l.1 .1M554.3 148.1l.1 .1M664.9 151.2l.1 .1M560.0 147.4l.1 .1M551.1 149.4l.1 .1M621.9 169.4l.1 .1M552.8 148.6l.1 .1M543.7 147.4l.1 .1M603.6 145.2l.1 .1M602.7 146.6l.1 .1M549.2 152.0l.1 .1M621.4 163.6l.1 .1M548.3 149.7l.1 .1M590.6 165.4l.1 .1M630.5 146.1l.1 .1M569.1 148.7l.1 .1M652.3 144.9l.1 .1M663.8 155.6l.1 .1M597.3 152.0l.1 .1M552.4 161.2l.1 .1M651.0 148.4l.1 .1M642.5 149.5l.1 .1M580.1 154.5l.1 .1M547.5 165.8l.1 .1M545.1 154.1l.1 .1M548.2 145.1l.1 .1M613.4 145.6l.1 .1M614.1 147.9l.1 .1M585.0 160.1l.1 .1M655.3 144.7l.1 .1M663.4 170.9l.1 .1M611.2 160.5l.1 .1M658.5 145.0l.1 .1M588.2 165.3l.1 .1M550.2 145.5l.1 .1M572.3 147.7l.1 .1M586.4 147.1l.1 .1M594.5 155.2l.1 .1M617.4 145.5l.1 .1M552.9 148.8l.1 .1M579.8 148.5l.1 .1M655.0 146.2l.1 .1M654.3 148.8l.1 .1M650.8 148.0l.1 .1M581.6 149.1l.1 .1M655.3 146.8l.1 .1M659.0 158.0l.1 .1M574.1 161.8l.1 .1M628.5 144.4l.1 .1M585.1 150.3l.1 .1M633.9 146.1l.1 .1M561.9 154.4l.1 .1M583.8 146.9l.1 .1M638.3 146.5l.1 .1M585.3 144.3l.1 .1M552.4 155.0l.1 .1M664.1 148.1l.1 .1M630.9 169.5l.1 .1M620.8 154.6l.1 .1M547.5 147.8l.1 .1M544.1 148.7l.1 .1M607.5 144.9l.1 .1M592.9 159.7l.1 .1M559.9 149.1l.1 .1M656.3 150.7l.1 .1M550.4 172.5l.1 .1M601.5 146.1l.1 .1M657.2 148.6l.1 .1M617.2 152.9l.1 .1M627.2 145.5l.1 .1M628.6 148.9l.1 .1M591.2 144.2l.1 .1M594.0 146.9l.1 .1M641.5 149.1l.1 .1M569.2 149.3l.1 .1M614.5 148.7l.1 .1M616.0 144.6l.1 .1M623.4 149.9l.1 .1M637.7 151.9l.1 .1M582.9 144.8l.1 .1M622.1 146.4l.1 .1M588.9 159.3l.1 .1M545.6 154.7l.1 .1M610.7 146.2l.1 .1M634.4 159.7l.1 .1M663.1 159.5l.1 .1M659.9 146.3l.1 .1M615.2 145.4l.1 .1M557.3 145.8l.1 .1M630.7 146.9l.1 .1M563.4 152.3l.1 .1M663.4 147.2l.1 .1M645.0 150.4l.1 .1M549.9 145.1l.1 .1M644.6 156.1l.1 .1M644.0 146.8l.1 .1M585.2 152.3l.1 .1M641.3 152.2l.1 .1M610.4 149.1l.1 .1M552.9 145.7l.1 .1M642.1 144.7l.1 .1M644.2 176.0l.1 .1M601.5 157.9l.1 .1M657.1 145.0l.1 .1M616.5 149.6l.1 .1M572.4 153.0l.1 .1M613.5 162.9l.1 .1M586.4 150.7l.1 .1M661.6 150.0l.1 .1M570.6 145.5l.1 .1M631.7 152.4l.1 .1M637.1 148.8l.1 .1M569.2 149.4l.1 .1M582.5 146.7l.1 .1M562.6 147.3l.1 .1M586.1 160.3l.1 .1M558.4 145.7l.1 .1M552.2 148.6l.1 .1M561.2 148.2l.1 .1M559.9 148.6l.1 .1M662.4 146.1l.1 .1M606.6 144.5l.1 .1M638.2 156.0l.1 .1M581.7 145.3l.1 .1M634.4 149.9l.1 .1M610.5 161.3l.1 .1M548.0 145.2l.1 .1M652.1 150.0l.1 .1M629.7 146.2l.1 .1M544.0 153.7l.1 .1M604.4 145.7l.1 .1M556.8 146.0l.1 .1M562.1 151.4l.1 .1M667.0 150.8l.1 .1M574.3 144.4l.1 .1M602.6 144.9l.1 .1M637.7 154.6l.1 .1M583.8 146.8l.1 .1M610.7 149.6l.1 .1M656.6 144.8l.1 .1M635.2 155.3l.1 .1M612.4 144.8l.1 .1M658.8 145.2l.1 .1M556.2 145.6l.1 .1M604.8 149.1l.1 .1M634.0 148.2l.1 .1M595.9 149.8l.1 .1M569.6 158.5l.1 .1M552.2 149.3l.1 .1M568.7 154.9l.1 .1M630.7 149.9l.1 .1M554.6 144.8l.1 .1M619.0 149.0l.1 .1M585.7 145.7l.1 .1M623.9 163.8l.1 .1M619.7 145.5l.1 .1M547.8 146.3l.1 .1M643.0 144.3l.1 .1M572.9 166.8l.1 .1M638.7 153.2l.1 .1M662.8 145.4l.1 .1M549.6 159.2l.1 .1M633.9 146.1l.1 .1M559.8 147.6l.1 .1M654.3 144.4l.1 .1M599.2 163.5l.1 .1M626.8 153.4l.1 .1M580.4 178.2l.1 .1M619.0 148.7l.1 .1M657.3 163.3l.1 .1M609.5 154.6l.1 .1M665.2 147.0l.1 .1M663.3 153.5l.1 .1M601.4 146.5l.1 .1M595.9 148.4l.1 .1M604.2 158.9l.1 .1M606.7 153.3l.1 .1M646.8 160.3l.1 .1M667.4 146.7l.1 .1M642.6 157.5l.1 .1M598.0 152.1l.1 .1M556.1 145.2l.1 .1M621.5 147.2l.1 .1M590.7 158.3l.1 .1M617.5 152.5l.1 .1M657.5 160.0l.1 .1M635.0 144.3l.1 .1M660.5 146.6l.1 .1M590.0 144.7l.1 .1M619.9 144.5l.1 .1M554.1 144.5l.1 .1M562.6 150.2l.1 .1M652.6 144.3l.1 .1M605.6 156.6l.1 .1M616.5 157.2l.1 .1M556.6 158.4l.1 .1M628.1 144.5l.1 .1M614.5 146.6l.1 .1M607.0 153.5l.1 .1M661.3 146.6l.1 .1M599.3 147.5l.1 .1M548.1 149.2l.1 .1M619.8 149.6l.1 .1M630.6 145.5l.1 .1M660.9 148.3l.1 .1M554.2 147.5l.1 .1M578.6 161.5l.1 .1M625.7 165.9l.1 .1M605.9 147.1l.1 .1M652.3 155.2l.1 .1M580.1 145.2l.1 .1M607.6 144.9l.1 .1M578.4 146.4l.1 .1M664.0 151.5l.1 .1M608.7 145.8l.1 .1M614.2 148.0l.1 .1M566.2 146.9l.1 .1M657.2 146.6l.1 .1M661.7 148.9l.1 .1M567.1 144.3l.1 .1M557.4 161.7l.1 .1M565.5 150.2l.1 .1M602.7 145.2l.1 .1M613.2 158.2l.1 .1M570.0 144.3l.1 .1M641.0 177.0l.1 .1M583.8 149.2l.1 .1M548.1 146.8l.1 .1M648.7 146.0l.1 .1M649.3 147.3l.1 .1M628.1 165.7l.1 .1M597.9 146.6l.1 .1M572.3 145.1l.1 .1M548.5 147.1l.1 .1M605.7 157.4l.1 .1M621.2 147.2l.1 .1M583.1 148.3l.1 .1M598.6 147.5l.1 .1M589.3 146.7l.1 .1M650.3 148.5l.1 .1M650.8 155.5l.1 .1M661.8 148.5l.1 .1M648.6 144.6l.1 .1M546.9 151.8l.1 .1M584.3 157.0l.1 .1M550.5 150.6l.1 .1M625.4 151.4l.1 .1M585.0 147.2l.1 .1M656.9 155.0l.1 .1M580.6 144.2l.1 .1M582.8 149.3l.1 .1M613.7 146.9l.1 .1M643.4 157.1l.1 .1M651.8 147.6l.1 .1M561.7 170.2l.1 .1M664.5 145.6l.1 .1M575.3 144.9l.1 .1M568.2 155.8l.1 .1M667.0 147.8l.1 .1M639.8 146.2l.1 .1M596.3 146.2l.1 .1M625.4 163.3l.1 .1M663.1 148.0l.1 .1M660.9 159.8l.1 .1M558.9 149.3l.1 .1M566.1 146.8l.1 .1M562.6 146.5l.1 .1M640.0 151.8l.1 .1M644.7 144.4l.1 .1M606.6 155.4l.1 .1M556.1 171.5l.1 .1M558.2 144.5l.1 .1M638.6 145.3l.1 .1M558.8 151.0l.1 .1M632.2 156.2l.1 .1M577.0 150.0l.1 .1M665.1 147.5l.1 .1M550.6 150.6l.1 .1M613.6 148.1l.1 .1M609.9 152.2l.1 .1M627.9 145.9l.1 .1M626.5 149.0l.1 .1M656.1 173.3l.1 .1M638.2 146.8l.1 .1M586.6 145.8l.1 .1M641.2 144.6l.1 .1M646.7 145.9l.1 .1M645.6 150.5l.1 .1M566.2 152.3l.1 .1M644.3 153.3l.1 .1M641.0 148.1l.1 .1M555.5 146.9l.1 .1M552.6 149.1l.1 .1M658.4 147.3l.1 .1M636.6 157.6l.1 .1M562.0 147.7l.1 .1M554.3 149.2l.1 .1M643.0 154.2l.1 .1M583.1 144.8l.1 .1M591.5 149.4l.1 .1M548.2 152.3l.1 .1M625.9 153.8l.1 .1M553.4 146.0l.1 .1M562.8 145.2l.1 .1M562.9 148.5l.1 .1M589.9 144.3l.1 .1M546.8 144.5l.1 .1M617.8 155.7l.1 .1M579.3 146.3l.1 .1M596.3 147.9l.1 .1M565.0 150.8l.1 .1M622.6 150.6l.1 .1M644.5 157.7l.1 .1M616.2 154.2l.1 .1M654.8 144.6l.1 .1M618.3 151.4l.1 .1M554.5 147.3l.1 .1M656.1 145.0l.1 .1M592.8 148.5l.1 .1M603.8 159.8l.1 .1M593.4 146.9l.1 .1M619.8 148.9l.1 .1M548.7 152.7l.1 .1M631.9 153.8l.1 .1M587.3 161.6l.1 .1M664.7 145.1l.1 .1M648.4 146.5l.1 .1M634.1 161.5l.1 .1M607.0 146.5l.1 .1M577.6 150.0l.1 .1M665.6 150.1l.1 .1M618.2 150.2l.1 .1M575.3 148.3l.1 .1M555.0 157.1l.1 .1M620.0 148.6l.1 .1M565.0 174.0l.1 .1M623.7 164.8l.1 .1M583.4 144.5l.1 .1M652.6 145.2l.1 .1M654.0 151.5l.1 .1M597.9 144.5l.1 .1M561.0 157.5l.1 .1M620.1 147.1l.1 .1M570.7 158.0l.1 .1M548.7 145.9l.1 .1M623.6 150.0l.1 .1M559.6 144.5l.1 .1M621.6 148.5l.1 .1M653.1 144.5l.1 .1M620.4 149.7l.1 .1M590.4 151.2l.1 .1M592.1 150.4l.1 .1M607.4 153.4l.1 .1M590.3 144.6l.1 .1M654.2 144.7l.1 .1M598.5 144.8l.1 .1M595.4 153.2l.1 .1M568.7 144.4l.1 .1M574.8 147.8l.1 .1M570.6 156.2l.1 .1M628.4 164.8l.1 .1M595.8 146.0l.1 .1M563.8 150.2l.1 .1M561.1 160.3l.1 .1M606.6 152.0l.1 .1M554.5 156.7l.1 .1M613.4 145.2l.1 .1M574.4 146.2l.1 .1M638.7 146.8l.1 .1M561.7 149.4l.1 .1M563.7 151.3l.1 .1M577.2 144.2l.1 .1M604.3 147.6l.1 .1M562.1 146.1l.1 .1M557.2 156.1l.1 .1M643.7 149.3l.1 .1M625.6 147.2l.1 .1M624.2 146.4l.1 .1M662.9 144.7l.1 .1M662.6 163.8l.1 .1M600.4 151.9l.1 .1M643.5 150.8l.1 .1M604.7 159.2l.1 .1M567.4 147.0l.1 .1M631.0 146.6l.1 .1M619.8 144.8l.1 .1M640.4 144.6l.1 .1M599.3 145.9l.1 .1M636.1 157.6l.1 .1M626.7 145.1l.1 .1M666.2 147.5l.1 .1M620.1 146.0l.1 .1M605.9 148.6l.1 .1M595.5 151.1l.1 .1M621.0 154.6l.1 .1M569.5 146.2l.1 .1M611.9 151.4l.1 .1M597.1 145.4l.1 .1M595.3 161.5l.1 .1M620.7 146.6l.1 .1M587.8 144.6l.1 .1M548.1 161.3l.1 .1M587.0 145.2l.1 .1M548.6 145.9l.1 .1M619.3 149.1l.1 .1M633.1 144.4l.1 .1M622.0 149.6l.1 .1M622.0 146.1l.1 .1M589.7 159.7l.1 .1M588.5 144.4l.1 .1M423.8 182.2l.1 .1M496.6 185.4l.1 .1M511.8 185.4l.1 .1M408.8 257.3l.1 .1M470.8 260.6l.1 .1" stroke="#0E62D8" stroke-width="2.0" stroke-linecap="square" fill="none"/><rect x="66" y="134.8" width="141.00" height="8" fill="#EE7D00"/><text x="136.50" y="141.6" font-size="7.2" fill="#fff" fill-opacity="0.72" text-anchor="middle">RA_Jaki</text><rect x="222.7" y="134.8" width="140.30" height="8" fill="#EE5A3C"/><text x="292.85" y="141.6" font-size="7.2" fill="#fff" fill-opacity="0.72" text-anchor="middle">RA_MTX</text><rect x="379" y="134.8" width="140.50" height="8" fill="#B3BD2A"/><text x="449.25" y="141.6" font-size="7.2" fill="#fff" fill-opacity="0.72" text-anchor="middle">RA_OA</text><rect x="535" y="134.8" width="141.00" height="8" fill="#433F63"/><text x="605.50" y="141.6" font-size="7.2" fill="#fff" fill-opacity="0.72" text-anchor="middle">RA_T8</text><text x="72.50" y="72.60" font-size="7.2" fill="#1A1A1A" text-anchor="middle">KRTAP2-4</text><text x="197.50" y="72.20" font-size="7.2" fill="#1A1A1A" text-anchor="middle">TMEM132E</text><text x="134.50" y="97.20" font-size="7.2" fill="#1A1A1A" text-anchor="middle">LOC105369559</text><text x="72.30" y="122.60" font-size="7.2" fill="#1A1A1A" text-anchor="middle">LINC01655</text><text x="181.00" y="123.30" font-size="7.2" fill="#1A1A1A" text-anchor="middle">AICDA</text><text x="107.80" y="171.60" font-size="7.2" fill="#1A1A1A" text-anchor="middle">MNDA</text><text x="158.35" y="173.60" font-size="7.2" fill="#1A1A1A" text-anchor="middle">GBP6</text><text x="101.00" y="197.60" font-size="7.2" fill="#1A1A1A" text-anchor="middle">FMO2</text><text x="143.00" y="200.40" font-size="7.2" fill="#1A1A1A" text-anchor="middle">ADH1B</text><text x="189.40" y="199.90" font-size="7.2" fill="#1A1A1A" text-anchor="middle">CXCL10</text><text x="226.00" y="106.20" font-size="7.2" fill="#1A1A1A" text-anchor="middle">PDE6C</text><text x="272.00" y="82.20" font-size="7.2" fill="#1A1A1A" text-anchor="middle">GRIN2C</text><text x="314.75" y="65.20" font-size="7.2" fill="#1A1A1A" text-anchor="middle">AQP3</text><text x="362.25" y="73.60" font-size="7.2" fill="#1A1A1A" text-anchor="middle">SMPDL3B</text><text x="324.25" y="99.20" font-size="7.2" fill="#1A1A1A" text-anchor="middle">HEPACAM</text><text x="255.50" y="158.60" font-size="7.2" fill="#1A1A1A" text-anchor="middle">LOC105376166</text><text x="317.75" y="160.30" font-size="7.2" fill="#1A1A1A" text-anchor="middle">ZNF157</text><text x="259.50" y="184.90" font-size="7.2" fill="#1A1A1A" text-anchor="middle">LOC105378586</text><text x="353.75" y="186.90" font-size="7.2" fill="#1A1A1A" text-anchor="middle">LOC107985004</text><text x="284.25" y="210.90" font-size="7.2" fill="#1A1A1A" text-anchor="middle">FAM222A-AS1</text><text x="486.40" y="26.40" font-size="7.2" fill="#1A1A1A" text-anchor="middle">LOC105374608</text><text x="427.95" y="73.00" font-size="7.2" fill="#1A1A1A" text-anchor="middle">ATP1A3</text><text x="479.45" y="90.60" font-size="7.2" fill="#1A1A1A" text-anchor="middle">SERPINA9</text><text x="412.40" y="98.90" font-size="7.2" fill="#1A1A1A" text-anchor="middle">LOC100653233</text><text x="541.35" y="116.00" font-size="7.2" fill="#1A1A1A" text-anchor="middle">LOC105369533</text><text x="417.90" y="186.90" font-size="7.2" fill="#1A1A1A" text-anchor="middle">CNTNAP3B</text><text x="471.50" y="186.90" font-size="7.2" fill="#1A1A1A" text-anchor="middle">PSG4</text><text x="467.30" y="213.30" font-size="7.2" fill="#1A1A1A" text-anchor="middle">GSTM1</text><text x="430.30" y="248.50" font-size="7.2" fill="#1A1A1A" text-anchor="middle">HJV</text><text x="471.45" y="262.40" font-size="7.2" fill="#1A1A1A" text-anchor="middle">CDSN</text><text x="631.65" y="31.10" font-size="7.2" fill="#1A1A1A" text-anchor="middle">FAM41C</text><text x="589.00" y="57.50" font-size="7.2" fill="#1A1A1A" text-anchor="middle">SRMS</text><text x="631.40" y="64.20" font-size="7.2" fill="#1A1A1A" text-anchor="middle">SCN4A</text><text x="564.00" y="83.90" font-size="7.2" fill="#1A1A1A" text-anchor="middle">ADAMTSL4-AS1</text><text x="640.30" y="90.60" font-size="7.2" fill="#1A1A1A" text-anchor="middle">MGAM2</text><text x="579.90" y="182.60" font-size="7.2" fill="#1A1A1A" text-anchor="middle">BLMH</text><text x="636.75" y="185.30" font-size="7.2" fill="#1A1A1A" text-anchor="middle">TMEM102</text><text x="556.60" y="208.10" font-size="7.2" fill="#1A1A1A" text-anchor="middle">SH3TC1</text><text x="602.40" y="211.20" font-size="7.2" fill="#1A1A1A" text-anchor="middle">HDHD3</text><text x="678.40" y="211.20" font-size="7.2" fill="#1A1A1A" text-anchor="middle">GAS1</text><rect x="714.8" y="86.30" width="13.8" height="13.9" fill="#EE7D00"/><text x="734.5" y="96.70" font-size="7.8" fill="#000" stroke="#000" stroke-width="0.15">RA_Jaki</text><rect x="714.8" y="101.50" width="13.8" height="13.9" fill="#EE5A3C"/><text x="734.5" y="111.90" font-size="7.8" fill="#000" stroke="#000" stroke-width="0.15">RA_MTX</text><rect x="714.8" y="116.70" width="13.8" height="13.9" fill="#B3BD2A"/><text x="734.5" y="127.10" font-size="7.8" fill="#000" stroke="#000" stroke-width="0.15">RA_OA</text><rect x="714.8" y="131.90" width="13.8" height="13.9" fill="#433F63"/><text x="734.5" y="142.30" font-size="7.8" fill="#000" stroke="#000" stroke-width="0.15">RA_T8</text><circle cx="721.8" cy="173.7" r="6" fill="#E8251C"/><circle cx="721.8" cy="188.8" r="6" fill="#0E62D8"/><text x="734.5" y="176.8" font-size="7.8" fill="#000" stroke="#000" stroke-width="0.15">up</text><text x="734.5" y="192" font-size="7.8" fill="#000" stroke="#000" stroke-width="0.15">down</text><text x="1.6" y="308.3" font-size="11" fill="#000">B</text><text x="43" y="320" font-size="12" font-weight="bold" fill="#000" stroke="#000" stroke-width="0.25">RA_OA_GO</text><rect x="54.5" y="329.35" width="235.40" height="4.7" fill="#9CC3DF"/><rect x="54.5" y="338.02" width="222.56" height="4.7" fill="#9CC3DF"/><rect x="54.5" y="346.69" width="205.44" height="4.7" fill="#9CC3DF"/><rect x="54.5" y="355.37" width="179.76" height="4.7" fill="#9CC3DF"/><rect x="54.5" y="364.04" width="171.20" height="4.7" fill="#9CC3DF"/><rect x="54.5" y="372.71" width="166.92" height="4.7" fill="#9CC3DF"/><rect x="54.5" y="381.38" width="158.36" height="4.7" fill="#9CC3DF"/><rect x="54.5" y="390.05" width="149.80" height="4.7" fill="#9CC3DF"/><rect x="54.5" y="398.73" width="124.12" height="4.7" fill="#9CC3DF"/><rect x="54.5" y="407.40" width="107.00" height="4.7" fill="#9CC3DF"/><rect x="54.5" y="416.07" width="231.12" height="4.7" fill="#D0ABE8"/><rect x="54.5" y="424.74" width="209.72" height="4.7" fill="#D0ABE8"/><rect x="54.5" y="433.41" width="188.32" height="4.7" fill="#D0ABE8"/><rect x="54.5" y="442.09" width="145.52" height="4.7" fill="#D0ABE8"/><rect x="54.5" y="450.76" width="141.24" height="4.7" fill="#D0ABE8"/><rect x="54.5" y="459.43" width="141.24" height="4.7" fill="#D0ABE8"/><rect x="54.5" y="468.10" width="115.56" height="4.7" fill="#D0ABE8"/><rect x="54.5" y="476.77" width="68.48" height="4.7" fill="#D0ABE8"/><rect x="54.5" y="485.45" width="68.48" height="4.7" fill="#D0ABE8"/><rect x="54.5" y="494.12" width="21.40" height="4.7" fill="#D0ABE8"/><rect x="54.5" y="502.79" width="196.88" height="4.7" fill="#FCB095"/><rect x="54.5" y="511.46" width="166.92" height="4.7" fill="#FCB095"/><rect x="54.5" y="520.13" width="158.36" height="4.7" fill="#FCB095"/><rect x="54.5" y="528.81" width="132.68" height="4.7" fill="#FCB095"/><rect x="54.5" y="537.48" width="124.12" height="4.7" fill="#FCB095"/><rect x="54.5" y="546.15" width="98.44" height="4.7" fill="#FCB095"/><rect x="54.5" y="554.82" width="81.32" height="4.7" fill="#FCB095"/><rect x="54.5" y="563.49" width="64.20" height="4.7" fill="#FCB095"/><rect x="54.5" y="572.17" width="51.36" height="4.7" fill="#FCB095"/><rect x="54.5" y="580.84" width="38.52" height="4.7" fill="#FCB095"/><text x="54.8" y="335.90" font-size="8.6" fill="#000" stroke="#000" stroke-width="0.18">nuclear division</text><text x="54.8" y="344.57" font-size="8.6" fill="#000" stroke="#000" stroke-width="0.18">positive regulation of cell activation</text><text x="54.8" y="353.24" font-size="8.6" fill="#000" stroke="#000" stroke-width="0.18">nuclear chromosome segregation</text><text x="54.8" y="361.92" font-size="8.6" fill="#000" stroke="#000" stroke-width="0.18">mitotic nuclear division</text><text x="54.8" y="370.59" font-size="8.6" fill="#000" stroke="#000" stroke-width="0.18">regulation of leukocyte proliferation</text><text x="54.8" y="379.26" font-size="8.6" fill="#000" stroke="#000" stroke-width="0.18">sister chromatid segregation</text><text x="54.8" y="387.93" font-size="8.6" fill="#000" stroke="#000" stroke-width="0.18">regulation of mononuclear cell proliferation</text><text x="54.8" y="396.60" font-size="8.6" fill="#000" stroke="#000" stroke-width="0.18">mitotic sister chromatid segregation</text><text x="54.8" y="405.28" font-size="8.6" fill="#000" stroke="#000" stroke-width="0.18">positive regulation of inflammatory response</text><text x="54.8" y="413.95" font-size="8.6" fill="#000" stroke="#000" stroke-width="0.18">regulation of mitotic nuclear division</text><text x="54.8" y="422.62" font-size="8.6" fill="#000" stroke="#000" stroke-width="0.18">collagen-containing extracellular matrix</text><text x="54.8" y="431.29" font-size="8.6" fill="#000" stroke="#000" stroke-width="0.18">neuronal cell body</text><text x="54.8" y="439.96" font-size="8.6" fill="#000" stroke="#000" stroke-width="0.18">external side of plasma membrane</text><text x="54.8" y="448.64" font-size="8.6" fill="#000" stroke="#000" stroke-width="0.18">condensed chromosome</text><text x="54.8" y="457.31" font-size="8.6" fill="#000" stroke="#000" stroke-width="0.18">membrane raft</text><text x="54.8" y="465.98" font-size="8.6" fill="#000" stroke="#000" stroke-width="0.18">membrane microdomain</text><text x="54.8" y="474.65" font-size="8.6" fill="#000" stroke="#000" stroke-width="0.18">endocytic vesicle membrane</text><text x="54.8" y="483.32" font-size="8.6" fill="#000" stroke="#000" stroke-width="0.18">clathrin-coated endocytic vesicle membrane</text><text x="54.8" y="492.00" font-size="8.6" fill="#000" stroke="#000" stroke-width="0.18">collagen trimer</text><text x="54.8" y="500.67" font-size="8.6" fill="#000" stroke="#000" stroke-width="0.18">outer kinetochore</text><text x="54.8" y="509.34" font-size="8.6" fill="#000" stroke="#000" stroke-width="0.18">amide binding</text><text x="54.8" y="518.01" font-size="8.6" fill="#000" stroke="#000" stroke-width="0.18">sulfur compound binding</text><text x="54.8" y="526.68" font-size="8.6" fill="#000" stroke="#000" stroke-width="0.18">peptide binding</text><text x="54.8" y="535.36" font-size="8.6" fill="#000" stroke="#000" stroke-width="0.18">glycosaminoglycan binding</text><text x="54.8" y="544.03" font-size="8.6" fill="#000" stroke="#000" stroke-width="0.18">heparin binding</text><text x="54.8" y="552.70" font-size="8.6" fill="#000" stroke="#000" stroke-width="0.18">integrin binding</text><text x="54.8" y="561.37" font-size="8.6" fill="#000" stroke="#000" stroke-width="0.18">cytoskeletal motor activity</text><text x="54.8" y="570.04" font-size="8.6" fill="#000" stroke="#000" stroke-width="0.18">amyloid-beta binding</text><text x="54.8" y="578.72" font-size="8.6" fill="#000" stroke="#000" stroke-width="0.18">MHC protein complex binding</text><text x="54.8" y="587.39" font-size="8.6" fill="#000" stroke="#000" stroke-width="0.18">MHC class II protein complex binding</text><line x1="43" y1="326.3" x2="43" y2="588.4" stroke="#000" stroke-width="1.25"/><line x1="42.45" y1="588.4" x2="301.3" y2="588.4" stroke="#000" stroke-width="1.25"/><line x1="54.50" y1="588.4" x2="54.50" y2="591.2" stroke="#000" stroke-width="1.25"/><text x="54.50" y="601" font-size="9.5" fill="#222" stroke="#222" stroke-width="0.12" text-anchor="middle">0</text><line x1="140.10" y1="588.4" x2="140.10" y2="591.2" stroke="#000" stroke-width="1.25"/><text x="140.10" y="601" font-size="9.5" fill="#222" stroke="#222" stroke-width="0.12" text-anchor="middle">20</text><line x1="225.70" y1="588.4" x2="225.70" y2="591.2" stroke="#000" stroke-width="1.25"/><text x="225.70" y="601" font-size="9.5" fill="#222" stroke="#222" stroke-width="0.12" text-anchor="middle">40</text><text x="171.8" y="613.6" font-size="11.4" fill="#000" text-anchor="middle">GeneNumber</text><text transform="translate(17.9,457) rotate(-90)" font-size="11.5" fill="#000" text-anchor="middle">Description</text><text x="316.4" y="435.6" font-size="9.6" fill="#000" stroke="#000" stroke-width="0.12">type</text><rect x="316.4" y="441.90" width="14.4" height="14.1" fill="#9CC3DF"/><text x="336" y="451.90" font-size="7.9" fill="#000" stroke="#000" stroke-width="0.15">biological process</text><rect x="316.4" y="457.40" width="14.4" height="14.1" fill="#D0ABE8"/><text x="336" y="467.40" font-size="7.9" fill="#000" stroke="#000" stroke-width="0.15">cellular component</text><rect x="316.4" y="472.90" width="14.4" height="14.1" fill="#FCB095"/><text x="336" y="482.90" font-size="7.9" fill="#000" stroke="#000" stroke-width="0.15">molecular function</text><text x="416.8" y="308" font-size="11" fill="#000">C</text><text x="441.2" y="320" font-size="12" font-weight="bold" fill="#000" stroke="#000" stroke-width="0.25">RA_OA_KEGG</text><rect x="452.6" y="345.90" width="235.80" height="6.8" fill="#66C2A5"/><rect x="452.6" y="360.33" width="222.70" height="6.8" fill="#E9976E"/><rect x="452.6" y="374.76" width="170.30" height="6.8" fill="#A0B48F"/><rect x="452.6" y="389.19" width="157.20" height="6.8" fill="#68C2A4"/><rect x="452.6" y="403.62" width="150.65" height="6.8" fill="#6AC1A3"/><rect x="452.6" y="418.05" width="144.10" height="6.8" fill="#D6A77D"/><rect x="452.6" y="432.48" width="137.55" height="6.8" fill="#8BBC98"/><rect x="452.6" y="446.91" width="117.90" height="6.8" fill="#FA8A62"/><rect x="452.6" y="461.34" width="117.90" height="6.8" fill="#66C2A5"/><rect x="452.6" y="475.77" width="104.80" height="6.8" fill="#D7A57B"/><rect x="452.6" y="490.20" width="98.25" height="6.8" fill="#D9A67B"/><rect x="452.6" y="504.63" width="98.25" height="6.8" fill="#B4B98E"/><rect x="452.6" y="519.06" width="91.70" height="6.8" fill="#D7A77C"/><rect x="452.6" y="533.49" width="85.15" height="6.8" fill="#D9A47A"/><rect x="452.6" y="547.92" width="85.15" height="6.8" fill="#D4AB80"/><rect x="452.6" y="562.35" width="72.05" height="6.8" fill="#66C2A5"/><rect x="452.6" y="576.78" width="45.85" height="6.8" fill="#D7A77C"/><text x="453" y="353.70" font-size="10" fill="#000" stroke="#000" stroke-width="0.18">Cytokine-cytokine receptor interaction</text><text x="453" y="368.13" font-size="10" fill="#000" stroke="#000" stroke-width="0.18">PI3K-Akt signaling pathway</text><text x="453" y="382.56" font-size="10" fill="#000" stroke="#000" stroke-width="0.18">cAMP signaling pathway</text><text x="453" y="396.99" font-size="10" fill="#000" stroke="#000" stroke-width="0.18">Cell adhesion molecules</text><text x="453" y="411.42" font-size="10" fill="#000" stroke="#000" stroke-width="0.18">Osteoclast differentiation</text><text x="453" y="425.85" font-size="10" fill="#000" stroke="#000" stroke-width="0.18">Motor proteins</text><text x="453" y="440.28" font-size="10" fill="#000" stroke="#000" stroke-width="0.18">Phagosome</text><text x="453" y="454.71" font-size="10" fill="#000" stroke="#000" stroke-width="0.18">Cell cycle</text><text x="453" y="469.14" font-size="10" fill="#000" stroke="#000" stroke-width="0.18">Hematopoietic cell lineage</text><text x="453" y="483.57" font-size="10" fill="#000" stroke="#000" stroke-width="0.18">Purine metabolism</text><text x="453" y="498.00" font-size="10" fill="#000" stroke="#000" stroke-width="0.18">Parathyroid hormone synthesis, secretion and action</text><text x="453" y="512.43" font-size="10" fill="#000" stroke="#000" stroke-width="0.18">Protein digestion and absorption</text><text x="453" y="526.86" font-size="10" fill="#000" stroke="#000" stroke-width="0.18">Viral protein interaction with cytokine and cytokine recep</text><text x="453" y="541.29" font-size="10" fill="#000" stroke="#000" stroke-width="0.18">Th1 and Th2 cell differentiation</text><text x="453" y="555.72" font-size="10" fill="#000" stroke="#000" stroke-width="0.18">Complement and coagulation cascades</text><text x="453" y="570.15" font-size="10" fill="#000" stroke="#000" stroke-width="0.18">Intestinal immune network for IgA production</text><text x="453" y="584.58" font-size="10" fill="#000" stroke="#000" stroke-width="0.18">Apoptosis - multiple species</text><line x1="440.5" y1="326.3" x2="440.5" y2="588.4" stroke="#000" stroke-width="1.25"/><line x1="439.95" y1="588.4" x2="699.4" y2="588.4" stroke="#000" stroke-width="1.25"/><line x1="452.60" y1="588.4" x2="452.60" y2="591.2" stroke="#000" stroke-width="1.25"/><text x="452.60" y="601" font-size="9.5" fill="#222" stroke="#222" stroke-width="0.12" text-anchor="middle">0</text><line x1="518.10" y1="588.4" x2="518.10" y2="591.2" stroke="#000" stroke-width="1.25"/><text x="518.10" y="601" font-size="9.5" fill="#222" stroke="#222" stroke-width="0.12" text-anchor="middle">10</text><line x1="583.60" y1="588.4" x2="583.60" y2="591.2" stroke="#000" stroke-width="1.25"/><text x="583.60" y="601" font-size="9.5" fill="#222" stroke="#222" stroke-width="0.12" text-anchor="middle">20</text><line x1="649.10" y1="588.4" x2="649.10" y2="591.2" stroke="#000" stroke-width="1.25"/><text x="649.10" y="601" font-size="9.5" fill="#222" stroke="#222" stroke-width="0.12" text-anchor="middle">30</text><text x="570.6" y="613.6" font-size="11.2" fill="#000" text-anchor="middle">Count</text><text transform="translate(434.3,456.7) rotate(-90)" font-size="11.2" fill="#000" text-anchor="middle">ordered_pathways</text><defs><linearGradient id="pg" x1="0" y1="1" x2="0" y2="0"><stop offset="0" stop-color="#66C2A5"/><stop offset="0.5" stop-color="#C7AD85"/><stop offset="1" stop-color="#FA8A60"/></linearGradient></defs><text x="722.2" y="422.4" font-size="9.2" fill="#000" stroke="#000" stroke-width="0.12">p.adjust</text><rect x="722.2" y="426.5" width="15.8" height="76.5" fill="url(#pg)"/><line x1="722.2" y1="433.50" x2="725.4" y2="433.50" stroke="#fff" stroke-opacity="0.7" stroke-width="0.6"/><line x1="735" y1="433.50" x2="738" y2="433.50" stroke="#fff" stroke-opacity="0.7" stroke-width="0.6"/><text x="742" y="436.30" font-size="7.5" fill="#000" stroke="#000" stroke-width="0.12">0.04</text><line x1="722.2" y1="451.30" x2="725.4" y2="451.30" stroke="#fff" stroke-opacity="0.7" stroke-width="0.6"/><line x1="735" y1="451.30" x2="738" y2="451.30" stroke="#fff" stroke-opacity="0.7" stroke-width="0.6"/><text x="742" y="454.10" font-size="7.5" fill="#000" stroke="#000" stroke-width="0.12">0.03</text><line x1="722.2" y1="469.10" x2="725.4" y2="469.10" stroke="#fff" stroke-opacity="0.7" stroke-width="0.6"/><line x1="735" y1="469.10" x2="738" y2="469.10" stroke="#fff" stroke-opacity="0.7" stroke-width="0.6"/><text x="742" y="471.90" font-size="7.5" fill="#000" stroke="#000" stroke-width="0.12">0.02</text><line x1="722.2" y1="486.90" x2="725.4" y2="486.90" stroke="#fff" stroke-opacity="0.7" stroke-width="0.6"/><line x1="735" y1="486.90" x2="738" y2="486.90" stroke="#fff" stroke-opacity="0.7" stroke-width="0.6"/><text x="742" y="489.70" font-size="7.5" fill="#000" stroke="#000" stroke-width="0.12">0.01</text></svg></body></html>
